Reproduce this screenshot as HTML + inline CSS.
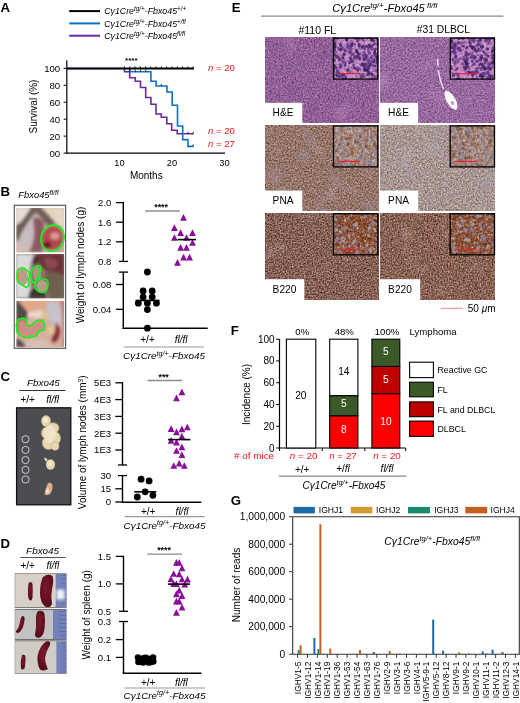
<!DOCTYPE html>
<html><head><meta charset="utf-8"><title>Figure</title>
<style>
html,body{margin:0;padding:0;background:#fff;}
body{width:520px;height:703px;overflow:hidden;}
svg{display:block;filter:blur(0.3px);}
text{font-family:"Liberation Sans",Arial,sans-serif;}
</style></head><body>
<svg width="520" height="703" viewBox="0 0 520 703">
<defs><filter id="blur1" x="-50%" y="-50%" width="200%" height="200%"><feGaussianBlur stdDeviation="1.6"/></filter>
<filter id="blur2" x="-50%" y="-50%" width="200%" height="200%"><feGaussianBlur stdDeviation="3"/></filter>
<filter id="blur05" x="-50%" y="-50%" width="200%" height="200%"><feGaussianBlur stdDeviation="0.6"/></filter>
<clipPath id="cpB1"><rect x="16.3" y="208" width="47.9" height="44.5"/></clipPath>
<clipPath id="cpB2"><rect x="16.3" y="254" width="47.9" height="44.5"/></clipPath>
<clipPath id="cpB3"><rect x="16.3" y="300.8" width="47.9" height="46.7"/></clipPath>
<clipPath id="cpD"><rect x="14.7" y="573.3" width="51.8" height="100.7"/></clipPath>
<radialGradient id="spg" cx="0.45" cy="0.4" r="0.7"><stop offset="0" stop-color="#7a1a2a"/><stop offset="0.7" stop-color="#5e0e1e"/><stop offset="1" stop-color="#42060f"/></radialGradient>
<filter id="heL" x="0" y="0" width="1" height="1" color-interpolation-filters="sRGB"><feTurbulence type="fractalNoise" baseFrequency="0.63" numOctaves="4" seed="3"/><feColorMatrix type="matrix" values="0.5392 0.1373 0 0 0.2343 0.4902 0.0000 0 0 0.1314 0.4412 -0.0784 0 0 0.4147 0 0 0 0 1"/><feGaussianBlur stdDeviation="0.5"/></filter>
<filter id="heR" x="0" y="0" width="1" height="1" color-interpolation-filters="sRGB"><feTurbulence type="fractalNoise" baseFrequency="0.63" numOctaves="4" seed="5"/><feColorMatrix type="matrix" values="0.5392 0.1373 0 0 0.2578 0.4902 0.0000 0 0 0.1627 0.4412 -0.0784 0 0 0.4461 0 0 0 0 1"/><feGaussianBlur stdDeviation="0.5"/></filter>
<filter id="pnL" x="0" y="0" width="1" height="1" color-interpolation-filters="sRGB"><feTurbulence type="fractalNoise" baseFrequency="0.63" numOctaves="4" seed="7"/><feColorMatrix type="matrix" values="0.6863 0.1176 0 0 0.1863 0.6471 0.0392 0 0 0.1118 0.6078 -0.1569 0 0 0.1902 0 0 0 0 1"/><feGaussianBlur stdDeviation="0.5"/></filter>
<filter id="pnR" x="0" y="0" width="1" height="1" color-interpolation-filters="sRGB"><feTurbulence type="fractalNoise" baseFrequency="0.63" numOctaves="4" seed="9"/><feColorMatrix type="matrix" values="0.6471 0.1176 0 0 0.2725 0.6471 0.0392 0 0 0.2412 0.6078 -0.1569 0 0 0.3392 0 0 0 0 1"/><feGaussianBlur stdDeviation="0.5"/></filter>
<filter id="bL" x="0" y="0" width="1" height="1" color-interpolation-filters="sRGB"><feTurbulence type="fractalNoise" baseFrequency="0.66" numOctaves="4" seed="11"/><feColorMatrix type="matrix" values="0.7843 0.0980 0 0 0.0765 0.7451 0.0294 0 0 -0.0069 0.7451 -0.0980 0 0 0.0137 0 0 0 0 1"/><feGaussianBlur stdDeviation="0.45"/></filter>
<filter id="bR" x="0" y="0" width="1" height="1" color-interpolation-filters="sRGB"><feTurbulence type="fractalNoise" baseFrequency="0.66" numOctaves="4" seed="13"/><feColorMatrix type="matrix" values="0.7843 0.0980 0 0 0.0922 0.7451 0.0294 0 0 -0.0029 0.7451 -0.0980 0 0 0.0059 0 0 0 0 1"/><feGaussianBlur stdDeviation="0.45"/></filter>
<filter id="heLp" x="0" y="0" width="1" height="1" color-interpolation-filters="sRGB"><feTurbulence type="fractalNoise" baseFrequency="0.04" numOctaves="2" seed="31"/><feColorMatrix type="matrix" values="0 0 0 0 0.7451 0 0 0 0 0.5294 0 0 0 0 0.7059 1.600 0 0 0 -0.9600"/></filter>
<filter id="heLd" x="0" y="0" width="1" height="1" color-interpolation-filters="sRGB"><feTurbulence type="fractalNoise" baseFrequency="0.06" numOctaves="2" seed="32"/><feColorMatrix type="matrix" values="0 0 0 0 0.4314 0 0 0 0 0.2549 0 0 0 0 0.5098 1.600 0 0 0 -0.9600"/></filter>
<filter id="heRp" x="0" y="0" width="1" height="1" color-interpolation-filters="sRGB"><feTurbulence type="fractalNoise" baseFrequency="0.04" numOctaves="2" seed="33"/><feColorMatrix type="matrix" values="0 0 0 0 0.7647 0 0 0 0 0.5686 0 0 0 0 0.7451 1.600 0 0 0 -0.9600"/></filter>
<filter id="pnLb" x="0" y="0" width="1" height="1" color-interpolation-filters="sRGB"><feTurbulence type="fractalNoise" baseFrequency="0.06" numOctaves="2" seed="34"/><feColorMatrix type="matrix" values="0 0 0 0 0.6196 0 0 0 0 0.5882 0 0 0 0 0.6588 1.500 0 0 0 -0.8400"/></filter>
<filter id="pnRb" x="0" y="0" width="1" height="1" color-interpolation-filters="sRGB"><feTurbulence type="fractalNoise" baseFrequency="0.04" numOctaves="2" seed="35"/><feColorMatrix type="matrix" values="0 0 0 0 0.6275 0 0 0 0 0.6196 0 0 0 0 0.7059 1.600 0 0 0 -0.8800"/></filter>
<filter id="bW" x="0" y="0" width="1" height="1" color-interpolation-filters="sRGB"><feTurbulence type="fractalNoise" baseFrequency="0.05" numOctaves="2" seed="36"/><feColorMatrix type="matrix" values="0 0 0 0 0.7843 0 0 0 0 0.7451 0 0 0 0 0.7647 1.200 0 0 0 -0.7200"/></filter>
<filter id="bW2" x="0" y="0" width="1" height="1" color-interpolation-filters="sRGB"><feTurbulence type="fractalNoise" baseFrequency="0.05" numOctaves="2" seed="37"/><feColorMatrix type="matrix" values="0 0 0 0 0.7843 0 0 0 0 0.7451 0 0 0 0 0.7647 1.200 0 0 0 -0.7200"/></filter>
<filter id="pnW" x="0" y="0" width="1" height="1" color-interpolation-filters="sRGB"><feTurbulence type="fractalNoise" baseFrequency="0.05" numOctaves="2" seed="38"/><feColorMatrix type="matrix" values="0 0 0 0 0.7843 0 0 0 0 0.7451 0 0 0 0 0.7647 1.200 0 0 0 -0.7200"/></filter>
<filter id="heIb" x="0" y="0" width="1" height="1" color-interpolation-filters="sRGB"><feTurbulence type="fractalNoise" baseFrequency="0.5" numOctaves="3" seed="41"/><feColorMatrix type="matrix" values="0.3922 0.0000 0 0 0.5686 0.3922 0.0000 0 0 0.3529 0.2941 0.0000 0 0 0.6176 0 0 0 0 1"/><feGaussianBlur stdDeviation="0.4"/></filter>
<filter id="heIn" x="0" y="0" width="1" height="1" color-interpolation-filters="sRGB"><feTurbulence type="fractalNoise" baseFrequency="0.24" numOctaves="2" seed="42"/><feColorMatrix type="matrix" values="0 0 0 0 0.3529 0 0 0 0 0.1961 0 0 0 0 0.4902 3.000 0 0 0 -1.5000"/></filter>
<filter id="pnIb" x="0" y="0" width="1" height="1" color-interpolation-filters="sRGB"><feTurbulence type="fractalNoise" baseFrequency="0.55" numOctaves="3" seed="43"/><feColorMatrix type="matrix" values="0.5392 0.0000 0 0 0.4049 0.5392 0.0000 0 0 0.3186 0.5392 0.0000 0 0 0.2990 0 0 0 0 1"/><feGaussianBlur stdDeviation="0.4"/></filter>
<filter id="pnIc" x="0" y="0" width="1" height="1" color-interpolation-filters="sRGB"><feTurbulence type="fractalNoise" baseFrequency="0.3" numOctaves="2" seed="44"/><feColorMatrix type="matrix" values="0 0 0 0 0.5882 0 0 0 0 0.3725 0 0 0 0 0.2431 3.000 0 0 0 -1.3500"/></filter>
<filter id="pnIn" x="0" y="0" width="1" height="1" color-interpolation-filters="sRGB"><feTurbulence type="fractalNoise" baseFrequency="0.25" numOctaves="2" seed="45"/><feColorMatrix type="matrix" values="0 0 0 0 0.4118 0 0 0 0 0.4314 0 0 0 0 0.6078 1.500 0 0 0 -0.9000"/></filter>
<filter id="bIb" x="0" y="0" width="1" height="1" color-interpolation-filters="sRGB"><feTurbulence type="fractalNoise" baseFrequency="0.55" numOctaves="3" seed="46"/><feColorMatrix type="matrix" values="0.5882 0.0000 0 0 0.2471 0.5392 0.0000 0 0 0.0441 0.4902 0.0000 0 0 -0.0412 0 0 0 0 1"/><feGaussianBlur stdDeviation="0.4"/></filter>
<filter id="bIn" x="0" y="0" width="1" height="1" color-interpolation-filters="sRGB"><feTurbulence type="fractalNoise" baseFrequency="0.25" numOctaves="2" seed="47"/><feColorMatrix type="matrix" values="0 0 0 0 0.4706 0 0 0 0 0.4902 0 0 0 0 0.6471 1.500 0 0 0 -0.9000"/></filter>
<filter id="bIw" x="0" y="0" width="1" height="1" color-interpolation-filters="sRGB"><feTurbulence type="fractalNoise" baseFrequency="0.3" numOctaves="2" seed="48"/><feColorMatrix type="matrix" values="0 0 0 0 0.9020 0 0 0 0 0.8431 0 0 0 0 0.8235 4.000 0 0 0 -2.4800"/></filter>
<filter id="blur03" x="-10%" y="-10%" width="120%" height="120%"><feGaussianBlur stdDeviation="0.45"/></filter>
<clipPath id="cc1"><rect x="333.0" y="37.6" width="45.30000000000001" height="41.99999999999999"/></clipPath>
<clipPath id="cc2"><rect x="449.7" y="37.6" width="45.30000000000001" height="41.99999999999999"/></clipPath>
<clipPath id="cc3"><rect x="333.0" y="125.4" width="45.30000000000001" height="42.0"/></clipPath>
<clipPath id="cc4"><rect x="449.7" y="125.4" width="45.30000000000001" height="42.0"/></clipPath>
<clipPath id="cc5"><rect x="333.0" y="213.3" width="45.30000000000001" height="42.0"/></clipPath>
<clipPath id="cc6"><rect x="449.7" y="213.3" width="45.30000000000001" height="42.0"/></clipPath></defs>
<text x="0.6" y="12.2" font-size="13.2" text-anchor="start" font-weight="bold">A</text>
<line x1="69.2" y1="11.1" x2="100" y2="11.1" stroke="#000" stroke-width="2" />
<text x="104.2" y="14.399999999999999" font-size="8.8" text-anchor="start" font-style="italic"><tspan>C&#947;1Cre</tspan><tspan font-size="6.34" dy="-3.17">tg/+</tspan><tspan dy="3.17">-Fbxo45</tspan><tspan font-size="6.34" dy="-3.17">+/+</tspan></text>
<line x1="69.2" y1="23.4" x2="100" y2="23.4" stroke="#0a72c6" stroke-width="2" />
<text x="104.2" y="26.7" font-size="8.8" text-anchor="start" font-style="italic"><tspan>C&#947;1Cre</tspan><tspan font-size="6.34" dy="-3.17">tg/+</tspan><tspan dy="3.17">-Fbxo45</tspan><tspan font-size="6.34" dy="-3.17">+/fl</tspan></text>
<line x1="69.2" y1="35.7" x2="100" y2="35.7" stroke="#6a2a9e" stroke-width="2" />
<text x="104.2" y="39.0" font-size="8.8" text-anchor="start" font-style="italic"><tspan>C&#947;1Cre</tspan><tspan font-size="6.34" dy="-3.17">tg/+</tspan><tspan dy="3.17">-Fbxo45</tspan><tspan font-size="6.34" dy="-3.17">fl/fl</tspan></text>
<line x1="66.8" y1="60.3" x2="66.8" y2="153.6" stroke="#000" stroke-width="1.2" />
<line x1="66.2" y1="153.1" x2="225" y2="153.1" stroke="#000" stroke-width="1.2" />
<line x1="63.6" y1="153.1" x2="66.8" y2="153.1" stroke="#000" stroke-width="1" />
<text x="60.2" y="156.5" font-size="9.6" text-anchor="end">00</text>
<line x1="63.6" y1="136.14" x2="66.8" y2="136.14" stroke="#000" stroke-width="1" />
<text x="60.2" y="139.54" font-size="9.6" text-anchor="end">20</text>
<line x1="63.6" y1="119.17999999999999" x2="66.8" y2="119.17999999999999" stroke="#000" stroke-width="1" />
<text x="60.2" y="122.58" font-size="9.6" text-anchor="end">40</text>
<line x1="63.6" y1="102.22" x2="66.8" y2="102.22" stroke="#000" stroke-width="1" />
<text x="60.2" y="105.62" font-size="9.6" text-anchor="end">60</text>
<line x1="63.6" y1="85.25999999999999" x2="66.8" y2="85.25999999999999" stroke="#000" stroke-width="1" />
<text x="60.2" y="88.66" font-size="9.6" text-anchor="end">80</text>
<line x1="63.6" y1="68.29999999999998" x2="66.8" y2="68.29999999999998" stroke="#000" stroke-width="1" />
<text x="60.2" y="71.69999999999999" font-size="9.6" text-anchor="end">100</text>
<text x="0" y="0" font-size="10" text-anchor="middle" transform="translate(36.8,106.5) rotate(-90)">Survival (%)</text>
<text x="119.5" y="166.3" font-size="9.3" text-anchor="middle">10</text>
<text x="172" y="166.3" font-size="9.3" text-anchor="middle">20</text>
<text x="224.5" y="166.3" font-size="9.3" text-anchor="middle">30</text>
<text x="146.3" y="179.4" font-size="10" text-anchor="middle">Months</text>
<path d="M66.8,68.5 H124.5 V71.7 H129.7 V77.7 H135.3 V81.2 H140.5 V87.5 H145.7 V97.5 H150.9 V104.2 H156.0 V114 H161.3 V117.3 H166.8 V123.7 H171.7 V130.3 H177.2 V133.7 H193.5" fill="none" stroke="#6a2a9e" stroke-width="1.6"/>
<path d="M129.7,68.5 V71.7 H150.9 V81.2 H156.1 V86.0 H167 V92 H172.2 V105.3 H177.5 V126 H182.7 V139.6 H187.9 V146.4 H193.5" fill="none" stroke="#0a72c6" stroke-width="1.6"/>
<line x1="66.8" y1="68.5" x2="194" y2="68.5" stroke="#000" stroke-width="1.8" />
<line x1="124.5" y1="66.3" x2="124.5" y2="68.5" stroke="#000" stroke-width="0.8" />
<line x1="129.7" y1="66.3" x2="129.7" y2="68.5" stroke="#000" stroke-width="0.8" />
<line x1="134.9" y1="66.3" x2="134.9" y2="68.5" stroke="#000" stroke-width="0.8" />
<line x1="140.3" y1="66.3" x2="140.3" y2="68.5" stroke="#000" stroke-width="0.8" />
<line x1="145.7" y1="66.3" x2="145.7" y2="68.5" stroke="#000" stroke-width="0.8" />
<line x1="150.7" y1="66.3" x2="150.7" y2="68.5" stroke="#000" stroke-width="0.8" />
<line x1="156.1" y1="66.3" x2="156.1" y2="68.5" stroke="#000" stroke-width="0.8" />
<line x1="161.3" y1="66.3" x2="161.3" y2="68.5" stroke="#000" stroke-width="0.8" />
<line x1="166.6" y1="66.3" x2="166.6" y2="68.5" stroke="#000" stroke-width="0.8" />
<line x1="172" y1="66.3" x2="172" y2="68.5" stroke="#000" stroke-width="0.8" />
<line x1="177.2" y1="66.3" x2="177.2" y2="68.5" stroke="#000" stroke-width="0.8" />
<line x1="182.5" y1="66.3" x2="182.5" y2="68.5" stroke="#000" stroke-width="0.8" />
<line x1="187.8" y1="66.3" x2="187.8" y2="68.5" stroke="#000" stroke-width="0.8" />
<line x1="193.2" y1="66.3" x2="193.2" y2="68.5" stroke="#000" stroke-width="0.8" />
<line x1="129.7" y1="69.7" x2="129.7" y2="71.7" stroke="#000" stroke-width="0.8" />
<line x1="135.3" y1="69.7" x2="135.3" y2="71.7" stroke="#000" stroke-width="0.8" />
<line x1="140.5" y1="69.7" x2="140.5" y2="71.7" stroke="#000" stroke-width="0.8" />
<line x1="145.7" y1="69.7" x2="145.7" y2="71.7" stroke="#000" stroke-width="0.8" />
<line x1="161.3" y1="84.0" x2="161.3" y2="86.0" stroke="#000" stroke-width="0.8" />
<line x1="187.9" y1="131.7" x2="187.9" y2="133.7" stroke="#000" stroke-width="0.8" />
<line x1="193.2" y1="131.7" x2="193.2" y2="133.7" stroke="#000" stroke-width="0.8" />
<line x1="193.2" y1="144.4" x2="193.2" y2="146.4" stroke="#000" stroke-width="0.8" />
<text x="131.3" y="62.6" font-size="8" text-anchor="middle" font-weight="bold">****</text>
<text x="208" y="71.4" font-size="9.6" text-anchor="start" fill="#f2141c"><tspan font-style="italic">n</tspan> = 20</text>
<text x="208" y="133.9" font-size="9.6" text-anchor="start" fill="#f2141c"><tspan font-style="italic">n</tspan> = 20</text>
<text x="208" y="147.20000000000002" font-size="9.6" text-anchor="start" fill="#f2141c"><tspan font-style="italic">n</tspan> = 27</text>
<text x="0.6" y="196.2" font-size="13.2" text-anchor="start" font-weight="bold">B</text>
<text x="18.3" y="198" font-size="9.4" text-anchor="start" font-style="italic">Fbxo45<tspan font-size="7" dy="-3.4">fl/fl</tspan></text>
<rect x="14.3" y="205.3" width="51.3" height="143" fill="#fff" stroke="#5a5a5a" stroke-width="1.2" />
<g clip-path="url(#cpB1)"><rect x="16.3" y="208" width="47.9" height="44.5" fill="#c4aca4"/><g filter="url(#blur1)"><path d="M16,207 H34 Q30,214 24,220 L16,224 Z" fill="#e6ded6"/><path d="M40,207 H65 V232 Q58,226 52,218 Q46,212 40,207 Z" fill="#e4d6c0"/><path d="M31,207 H41 Q48,214 56,224 L48,226 Q40,216 36,212 Q30,222 22,232 Q18,240 16,248 V226 Q24,220 31,207 Z" fill="#6e5e54"/><path d="M22,232 Q28,222 34,214 Q36,226 34,238 Q30,248 24,252 H16 Q18,242 22,232 Z" fill="#c8bcc0"/><path d="M33,218 Q38,216 44,222 Q44,236 42,252 H30 Q36,240 33,218 Z" fill="#8a5a60"/><path d="M16,240 Q22,246 30,252 H16 Z" fill="#d4c0b8"/></g><ellipse cx="53" cy="238" rx="10.5" ry="12" fill="#b04a4c" filter="url(#blur1)"/><ellipse cx="55" cy="236" rx="5" ry="4" fill="#d89a90" filter="url(#blur1)"/><ellipse cx="47" cy="245" rx="4" ry="3" fill="#6a1820" filter="url(#blur1)"/></g>
<ellipse cx="52.5" cy="238" rx="11.3" ry="13.2" transform="rotate(20 52.5 238)" fill="none" stroke="#18f018" stroke-width="1.7"/>
<g clip-path="url(#cpB2)"><rect x="16.3" y="254" width="47.9" height="44.5" fill="#8a7468"/><g filter="url(#blur1)"><path d="M16,254 H34 Q30,262 30,272 Q29,284 33,298 H16 Z" fill="#dcdcdc"/><path d="M36,254 H64 V276 Q58,274 52,274 Q44,270 40,264 Q36,260 36,254 Z" fill="#6a3034"/><path d="M44,258 Q52,256 58,262 Q56,270 50,270 Q44,266 44,258 Z" fill="#8a4a50"/><path d="M46,272 Q56,270 64,276 V298 H50 Q44,290 46,272 Z" fill="#6e6050"/><path d="M30,290 Q36,286 44,292 L46,298 H28 Z" fill="#3e3430"/><path d="M33,256 Q38,256 38,262 Q36,266 33,264 Z" fill="#3a3030"/></g><ellipse cx="22.5" cy="277" rx="5.5" ry="8.5" fill="#b8a088" filter="url(#blur05)"/><ellipse cx="37" cy="274" rx="4" ry="7.5" fill="#b09480" filter="url(#blur05)"/><ellipse cx="42" cy="286" rx="5.5" ry="6" fill="#b89c88" filter="url(#blur05)"/></g>
<path d="M18,270 Q20,267 24,268 L29,272 Q31,276 28,279 L29,285 Q27,289 24,286 Q20,284 18,282 Q16,276 18,270 Z" fill="none" stroke="#18f018" stroke-width="1.7"/>
<path d="M33,268 Q36,265 40,266 Q42,269 40,272 Q38,274 38,277 Q37,281 34,283 Q31,281 31,276 Q31,271 33,268 Z" fill="none" stroke="#18f018" stroke-width="1.7"/>
<path d="M36,281 Q39,278 43,279 Q48,279 48,283 Q48,288 46,291 Q42,294 38,291 Q34,288 35,285 Z" fill="none" stroke="#18f018" stroke-width="1.7"/>
<g clip-path="url(#cpB3)"><rect x="16.3" y="300.8" width="47.9" height="46.7" fill="#d4b0a0"/><g filter="url(#blur1)"><path d="M16,300 H20 Q24,306 28,312 Q26,320 24,330 L16,334 Z" fill="#4e4c4a"/><path d="M18,300 H50 Q48,306 42,310 Q34,314 28,312 Q22,306 18,300 Z" fill="#e2a88a"/><path d="M28,312 Q36,312 42,310 Q44,314 40,318 Q32,318 28,316 Z" fill="#f0d8d0"/><path d="M47,303 Q56,302 62,306 Q63,316 60,326 Q54,326 50,322 Q46,314 47,303 Z" fill="#c8c2ca"/><ellipse cx="45" cy="315.5" rx="3" ry="3" fill="#e0c088"/><ellipse cx="51" cy="330" rx="3.5" ry="3.5" fill="#e2cc96"/><path d="M56,322 Q61,326 60,334 Q58,342 53,343 Q50,340 54,334 Q56,328 56,322 Z" fill="#8a2e3c"/><path d="M60,300 H65 V347 H62 Q64,330 60,300 Z" fill="#c08070"/><path d="M16,338 Q22,340 26,347 H16 Z" fill="#585050"/><path d="M28,340 Q38,338 48,341 L50,347 H26 Z" fill="#d8c0b4"/></g><path d="M18.5,319.5 L25,318.5 L26.5,322 L26.5,324.5 L30,326 L34,323 L38,320.5 L41,320.2 L44,323 L44.5,328 L42.5,330.5 L38.5,331 L37,335 L33,336.5 L31,335.5 L30,337.5 L26,337.5 L20,335 L17,330 L16.5,324 Z" fill="#d08c84" filter="url(#blur1)"/></g>
<path d="M18.5,319.5 Q22,318 25,318.5 Q27,320 26.5,322 Q26,324 26.5,324.5 Q28,326.5 30,326 Q32,325.5 34,323 Q36,321 38,320.5 L41,320.2 Q43.5,320.5 44,323 Q45,326 44.5,328 Q44,330 42.5,330.5 Q39.5,330 38.5,331 Q37.5,333 37,335 Q35,337 33,336.5 L31,335.5 Q30.5,337.5 30,337.5 L26,337.5 Q22,337 20,335 Q17.5,333 17,330 Q16,326 16.5,324 Q17,321 18.5,319.5 Z" fill="none" stroke="#18f018" stroke-width="1.7"/>
<line x1="123.3" y1="202.0" x2="123.3" y2="261.4" stroke="#000" stroke-width="1.4" />
<line x1="123.3" y1="272.1" x2="123.3" y2="328.9" stroke="#000" stroke-width="1.4" />
<line x1="122.6" y1="328.2" x2="207.7" y2="328.2" stroke="#000" stroke-width="1.4" />
<line x1="116.0" y1="202.6" x2="123.3" y2="202.6" stroke="#000" stroke-width="1.3" />
<text x="111.4" y="206.0" font-size="9.6" text-anchor="end">2.0</text>
<line x1="116.0" y1="222.2" x2="123.3" y2="222.2" stroke="#000" stroke-width="1.3" />
<text x="111.4" y="225.6" font-size="9.6" text-anchor="end">1.6</text>
<line x1="116.0" y1="241.8" x2="123.3" y2="241.8" stroke="#000" stroke-width="1.3" />
<text x="111.4" y="245.20000000000002" font-size="9.6" text-anchor="end">1.2</text>
<text x="111.4" y="264.79999999999995" font-size="9.6" text-anchor="end">0.8</text>
<line x1="116.0" y1="284.5" x2="123.3" y2="284.5" stroke="#000" stroke-width="1.3" />
<text x="111.4" y="287.9" font-size="9.6" text-anchor="end">0.08</text>
<line x1="116.0" y1="309.3" x2="123.3" y2="309.3" stroke="#000" stroke-width="1.3" />
<text x="111.4" y="312.7" font-size="9.6" text-anchor="end">0.04</text>
<line x1="119" y1="261.4" x2="128" y2="261.4" stroke="#000" stroke-width="1.3" />
<line x1="119" y1="272.1" x2="128" y2="272.1" stroke="#000" stroke-width="1.3" />
<text x="0" y="0" font-size="10" text-anchor="middle" transform="translate(84.3,265) rotate(-90)">Weight of lymph nodes (g)</text>
<line x1="145.2" y1="211" x2="179.8" y2="211" stroke="#8c8c8c" stroke-width="1.3" />
<text x="161.1" y="210.3" font-size="8.8" text-anchor="middle" font-weight="bold">****</text>
<circle cx="147.4" cy="272.0" r="3.4" fill="#000" />
<circle cx="143.1" cy="290.9" r="3.4" fill="#000" />
<circle cx="152.2" cy="290.9" r="3.4" fill="#000" />
<circle cx="143.1" cy="297.1" r="3.4" fill="#000" />
<circle cx="152.2" cy="297.1" r="3.4" fill="#000" />
<circle cx="138.3" cy="303.2" r="3.4" fill="#000" />
<circle cx="147.4" cy="303.2" r="3.4" fill="#000" />
<circle cx="156.4" cy="303.2" r="3.4" fill="#000" />
<circle cx="147.4" cy="309.6" r="3.4" fill="#000" />
<circle cx="147.4" cy="328.2" r="3.4" fill="#000" />
<line x1="135.7" y1="300.5" x2="159.6" y2="300.5" stroke="#000" stroke-width="1.6" />
<path d="M183.50,214.10L186.90,220.80L180.10,220.80Z" fill="#8a0c98"/>
<path d="M174.40,224.35L177.80,231.05L171.00,231.05Z" fill="#8a0c98"/>
<path d="M180.60,229.35L184.00,236.05L177.20,236.05Z" fill="#8a0c98"/>
<path d="M192.50,229.35L195.90,236.05L189.10,236.05Z" fill="#8a0c98"/>
<path d="M174.40,234.15L177.80,240.85L171.00,240.85Z" fill="#8a0c98"/>
<path d="M186.50,234.15L189.90,240.85L183.10,240.85Z" fill="#8a0c98"/>
<path d="M192.50,239.15L195.90,245.85L189.10,245.85Z" fill="#8a0c98"/>
<path d="M180.60,243.95L184.00,250.65L177.20,250.65Z" fill="#8a0c98"/>
<path d="M186.50,243.95L189.90,250.65L183.10,250.65Z" fill="#8a0c98"/>
<path d="M183.60,253.75L187.00,260.45L180.20,260.45Z" fill="#8a0c98"/>
<path d="M189.60,253.75L193.00,260.45L186.20,260.45Z" fill="#8a0c98"/>
<path d="M177.50,258.95L180.90,265.65L174.10,265.65Z" fill="#8a0c98"/>
<line x1="177.5" y1="239.6" x2="196" y2="239.6" stroke="#000" stroke-width="1.6" />
<text x="147.5" y="343.2" font-size="10" text-anchor="middle">+/+</text>
<text x="181.2" y="343.2" font-size="10" text-anchor="middle" font-style="italic">fl/fl</text>
<line x1="123.5" y1="347" x2="203.8" y2="347" stroke="#999" stroke-width="1.2" />
<text x="164.0" y="359.2" font-size="9.9" text-anchor="middle" font-style="italic"><tspan>C&#947;1Cre</tspan><tspan font-size="7.13" dy="-3.56">tg/+</tspan><tspan dy="3.56">-Fbxo45</tspan></text>
<text x="0.6" y="380.6" font-size="13.2" text-anchor="start" font-weight="bold">C</text>
<text x="43.4" y="386.4" font-size="9.9" text-anchor="middle" font-style="italic">Fbxo45</text>
<line x1="19.4" y1="390.5" x2="65.6" y2="390.5" stroke="#333" stroke-width="1" />
<text x="27.7" y="403.4" font-size="10" text-anchor="middle">+/+</text>
<text x="52.7" y="403.4" font-size="10" text-anchor="middle" font-style="italic">fl/fl</text>
<rect x="16.6" y="407.8" width="54.2" height="97" fill="#4c4d51" stroke="#111" stroke-width="1.3" />
<circle cx="25.5" cy="439.2" r="3.6" fill="none" stroke="#e8e8e8" stroke-width="0.8"/>
<circle cx="25.5" cy="449.9" r="3.6" fill="none" stroke="#e8e8e8" stroke-width="0.8"/>
<circle cx="25.5" cy="460.1" r="3.6" fill="none" stroke="#e8e8e8" stroke-width="0.8"/>
<circle cx="25.5" cy="469.9" r="3.6" fill="none" stroke="#e8e8e8" stroke-width="0.8"/>
<circle cx="25.5" cy="479.5" r="3.6" fill="none" stroke="#e8e8e8" stroke-width="0.8"/>
<g filter="url(#blur05)"><g fill="#e6d6b0" stroke="#c4ac84" stroke-width="0.6"><ellipse cx="46" cy="421" rx="4.6" ry="5.6"/><ellipse cx="53" cy="428" rx="6" ry="5.2"/><ellipse cx="47" cy="433" rx="5.6" ry="6"/><ellipse cx="54.5" cy="438.5" rx="6" ry="7"/><ellipse cx="48.5" cy="443" rx="6.2" ry="6.5"/><ellipse cx="55" cy="446" rx="4" ry="4.2"/></g><ellipse cx="50" cy="434" rx="6" ry="9" fill="#efe4c8"/><ellipse cx="45.5" cy="420" rx="2.5" ry="3" fill="#f2e8d0"/><path d="M44,458 Q46,457 47.5,460 L46,462 Z" fill="#ece0c4"/><ellipse cx="50.5" cy="464.5" rx="4.5" ry="5.3" fill="#e6d4aa"/><ellipse cx="50" cy="463.5" rx="2.5" ry="3" fill="#f0e4c4"/><path d="M48,483 Q51,482 52.5,485 Q53,490 50,494 Q47,496 44.5,494.5 Q45,489 48,483 Z" fill="#dcae90"/><ellipse cx="47.5" cy="491" rx="1.6" ry="2.5" fill="#f4e4d4"/></g>
<line x1="122.5" y1="382.1" x2="122.5" y2="465" stroke="#000" stroke-width="1.4" />
<line x1="122.5" y1="475.6" x2="122.5" y2="502.9" stroke="#000" stroke-width="1.4" />
<line x1="121.8" y1="502.2" x2="201.3" y2="502.2" stroke="#000" stroke-width="1.4" />
<line x1="115.3" y1="382.8" x2="122.5" y2="382.8" stroke="#000" stroke-width="1.3" />
<text x="111.2" y="386.2" font-size="9.6" text-anchor="end">5E3</text>
<line x1="115.3" y1="399.6" x2="122.5" y2="399.6" stroke="#000" stroke-width="1.3" />
<text x="111.2" y="403.0" font-size="9.6" text-anchor="end">4E3</text>
<line x1="115.3" y1="416.4" x2="122.5" y2="416.4" stroke="#000" stroke-width="1.3" />
<text x="111.2" y="419.79999999999995" font-size="9.6" text-anchor="end">3E3</text>
<line x1="115.3" y1="433.2" x2="122.5" y2="433.2" stroke="#000" stroke-width="1.3" />
<text x="111.2" y="436.59999999999997" font-size="9.6" text-anchor="end">2E3</text>
<line x1="115.3" y1="450.0" x2="122.5" y2="450.0" stroke="#000" stroke-width="1.3" />
<text x="111.2" y="453.4" font-size="9.6" text-anchor="end">1E3</text>
<text x="111.2" y="479.0" font-size="9.6" text-anchor="end">30</text>
<line x1="115.3" y1="488.8" x2="122.5" y2="488.8" stroke="#000" stroke-width="1.3" />
<text x="111.2" y="492.2" font-size="9.6" text-anchor="end">15</text>
<line x1="115.3" y1="502.0" x2="122.5" y2="502.0" stroke="#000" stroke-width="1.3" />
<text x="111.2" y="505.4" font-size="9.6" text-anchor="end">0</text>
<line x1="118" y1="465" x2="127" y2="465" stroke="#000" stroke-width="1.3" />
<line x1="118" y1="475.6" x2="127" y2="475.6" stroke="#000" stroke-width="1.3" />
<text x="0" y="0" font-size="10" text-anchor="middle" transform="translate(86.3,442.3) rotate(-90)">Volume of lymph nodes (mm<tspan font-size="6.5" dy="-3.5">3</tspan><tspan dy="3.5">)</tspan></text>
<line x1="147.5" y1="380.5" x2="182" y2="380.5" stroke="#8c8c8c" stroke-width="1.3" />
<text x="163.6" y="379.5" font-size="8.8" text-anchor="middle" font-weight="bold">***</text>
<circle cx="141.1" cy="479.2" r="3.4" fill="#000" />
<circle cx="149.1" cy="480.9" r="3.4" fill="#000" />
<circle cx="145.1" cy="491.8" r="3.4" fill="#000" />
<circle cx="137.3" cy="497" r="3.4" fill="#000" />
<circle cx="152.9" cy="495.3" r="3.4" fill="#000" />
<line x1="134.2" y1="491.8" x2="156.3" y2="491.8" stroke="#000" stroke-width="1.6" />
<path d="M181.90,388.55L185.30,395.25L178.50,395.25Z" fill="#8a0c98"/>
<path d="M176.50,394.45L179.90,401.15L173.10,401.15Z" fill="#8a0c98"/>
<path d="M171.10,425.25L174.50,431.95L167.70,431.95Z" fill="#8a0c98"/>
<path d="M176.50,428.45L179.90,435.15L173.10,435.15Z" fill="#8a0c98"/>
<path d="M181.90,425.55L185.30,432.25L178.50,432.25Z" fill="#8a0c98"/>
<path d="M187.30,423.65L190.70,430.35L183.90,430.35Z" fill="#8a0c98"/>
<path d="M181.90,432.75L185.30,439.45L178.50,439.45Z" fill="#8a0c98"/>
<path d="M171.10,437.05L174.50,443.75L167.70,443.75Z" fill="#8a0c98"/>
<path d="M176.50,438.85L179.90,445.55L173.10,445.55Z" fill="#8a0c98"/>
<path d="M181.90,443.55L185.30,450.25L178.50,450.25Z" fill="#8a0c98"/>
<path d="M176.50,447.15L179.90,453.85L173.10,453.85Z" fill="#8a0c98"/>
<path d="M181.90,451.35L185.30,458.05L178.50,458.05Z" fill="#8a0c98"/>
<path d="M173.80,462.15L177.20,468.85L170.40,468.85Z" fill="#8a0c98"/>
<path d="M179.20,459.75L182.60,466.45L175.80,466.45Z" fill="#8a0c98"/>
<path d="M184.30,462.15L187.70,468.85L180.90,468.85Z" fill="#8a0c98"/>
<line x1="168.1" y1="439.6" x2="190.4" y2="439.6" stroke="#000" stroke-width="1.6" />
<text x="148.2" y="514.6" font-size="10" text-anchor="middle">+/+</text>
<text x="182" y="514.6" font-size="10" text-anchor="middle" font-style="italic">fl/fl</text>
<line x1="124.8" y1="516.6" x2="204.8" y2="516.6" stroke="#999" stroke-width="1.2" />
<text x="164.5" y="528.8" font-size="9.9" text-anchor="middle" font-style="italic"><tspan>C&#947;1Cre</tspan><tspan font-size="7.13" dy="-3.56">tg/+</tspan><tspan dy="3.56">-Fbxo45</tspan></text>
<text x="0.6" y="548" font-size="13.2" text-anchor="start" font-weight="bold">D</text>
<text x="42.6" y="554.2" font-size="9.9" text-anchor="middle" font-style="italic">Fbxo45</text>
<line x1="20.2" y1="557.5" x2="65.6" y2="557.5" stroke="#555" stroke-width="1" />
<text x="27.7" y="569.4" font-size="10" text-anchor="middle">+/+</text>
<text x="52.8" y="569.4" font-size="10" text-anchor="middle" font-style="italic">fl/fl</text>
<g clip-path="url(#cpD)">
<rect x="14.7" y="573.3" width="51.8" height="34.40000000000009" fill="#d6d0c8" stroke="#555" stroke-width="0.8" />
<rect x="55.7" y="573.8" width="10.799999999999997" height="33.40000000000009" fill="#7282b8" stroke="none" stroke-width="1" />
<line x1="61.7" y1="575.3" x2="66" y2="575.3" stroke="#4a5a98" stroke-width="0.5" />
<line x1="61.7" y1="579.3" x2="66" y2="579.3" stroke="#4a5a98" stroke-width="0.5" />
<line x1="61.7" y1="583.3" x2="66" y2="583.3" stroke="#4a5a98" stroke-width="0.5" />
<line x1="61.7" y1="587.3" x2="66" y2="587.3" stroke="#4a5a98" stroke-width="0.5" />
<line x1="61.7" y1="591.3" x2="66" y2="591.3" stroke="#4a5a98" stroke-width="0.5" />
<line x1="61.7" y1="595.3" x2="66" y2="595.3" stroke="#4a5a98" stroke-width="0.5" />
<line x1="61.7" y1="599.3" x2="66" y2="599.3" stroke="#4a5a98" stroke-width="0.5" />
<line x1="61.7" y1="603.3" x2="66" y2="603.3" stroke="#4a5a98" stroke-width="0.5" />
<rect x="14.7" y="609.5" width="51.8" height="30.100000000000023" fill="#c4c2c0" stroke="#555" stroke-width="0.8" />
<rect x="53.0" y="610.0" width="13.5" height="29.100000000000023" fill="#7282b8" stroke="none" stroke-width="1" />
<line x1="59.0" y1="611.5" x2="66" y2="611.5" stroke="#4a5a98" stroke-width="0.5" />
<line x1="59.0" y1="615.5" x2="66" y2="615.5" stroke="#4a5a98" stroke-width="0.5" />
<line x1="59.0" y1="619.5" x2="66" y2="619.5" stroke="#4a5a98" stroke-width="0.5" />
<line x1="59.0" y1="623.5" x2="66" y2="623.5" stroke="#4a5a98" stroke-width="0.5" />
<line x1="59.0" y1="627.5" x2="66" y2="627.5" stroke="#4a5a98" stroke-width="0.5" />
<line x1="59.0" y1="631.5" x2="66" y2="631.5" stroke="#4a5a98" stroke-width="0.5" />
<line x1="59.0" y1="635.5" x2="66" y2="635.5" stroke="#4a5a98" stroke-width="0.5" />
<rect x="14.7" y="640.8" width="51.8" height="33.200000000000045" fill="#d0ccc6" stroke="#555" stroke-width="0.8" />
<rect x="56.4" y="641.3" width="10.100000000000001" height="32.200000000000045" fill="#7282b8" stroke="none" stroke-width="1" />
<line x1="62.4" y1="642.8" x2="66" y2="642.8" stroke="#4a5a98" stroke-width="0.5" />
<line x1="62.4" y1="646.8" x2="66" y2="646.8" stroke="#4a5a98" stroke-width="0.5" />
<line x1="62.4" y1="650.8" x2="66" y2="650.8" stroke="#4a5a98" stroke-width="0.5" />
<line x1="62.4" y1="654.8" x2="66" y2="654.8" stroke="#4a5a98" stroke-width="0.5" />
<line x1="62.4" y1="658.8" x2="66" y2="658.8" stroke="#4a5a98" stroke-width="0.5" />
<line x1="62.4" y1="662.8" x2="66" y2="662.8" stroke="#4a5a98" stroke-width="0.5" />
<line x1="62.4" y1="666.8" x2="66" y2="666.8" stroke="#4a5a98" stroke-width="0.5" />
<line x1="62.4" y1="670.8" x2="66" y2="670.8" stroke="#4a5a98" stroke-width="0.5" />
<rect x="56.5" y="589.6" width="8" height="10" fill="#f4f4fa" filter="url(#blur1)"/>
<g fill="url(#spg)" filter="url(#blur05)"><path d="M28.5,583.5 Q31,580.5 32.5,584 Q33,590 32.5,597 Q32,601 30,600.5 Q28,599 28,594 Q27.8,588 28.5,583.5 Z"/><path d="M43,577 Q48,573 52.5,576 Q54,581 52,589 Q50.5,597 52,604 Q50,608.5 45,606.5 Q40,602 40,593 Q40,583 43,577 Z"/><path d="M22.5,616 Q25,616 24.5,620 Q24,627 20,632 Q16.5,634 15.8,631.5 Q19,628 19.8,623 Q20.5,617 22.5,616 Z"/><path d="M38,611 Q43.5,609.5 44.5,614 Q45.5,621 44.5,628 Q44,635 40,637.5 Q35.5,638.5 35,634.5 Q36.5,628 36,621 Q35.5,614 38,611 Z"/><path d="M22,655 Q25.5,653.5 25.5,658 Q25.5,664 24.5,668.5 Q22.5,670.5 21,668.5 Q20,662 22,655 Z"/><path d="M46,641.5 Q51,640 50,645 Q46,651 45,658 Q45.5,665 48,669 Q44,671.5 40,669.5 Q37,664 37.5,656 Q39.5,646 46,641.5 Z"/></g>
</g>
<line x1="123.5" y1="555.7" x2="123.5" y2="611.3" stroke="#000" stroke-width="1.4" />
<line x1="123.5" y1="621.5" x2="123.5" y2="673.9" stroke="#000" stroke-width="1.4" />
<line x1="122.8" y1="673.2" x2="201.5" y2="673.2" stroke="#000" stroke-width="1.4" />
<line x1="115.8" y1="556.4" x2="123.5" y2="556.4" stroke="#000" stroke-width="1.3" />
<text x="111.0" y="559.8" font-size="9.6" text-anchor="end">1.5</text>
<line x1="115.8" y1="583.9" x2="123.5" y2="583.9" stroke="#000" stroke-width="1.3" />
<text x="111.0" y="587.3" font-size="9.6" text-anchor="end">1.0</text>
<text x="111.0" y="614.6999999999999" font-size="9.6" text-anchor="end">0.5</text>
<text x="111.0" y="624.9" font-size="9.6" text-anchor="end">0.3</text>
<line x1="115.8" y1="639.6" x2="123.5" y2="639.6" stroke="#000" stroke-width="1.3" />
<text x="111.0" y="643.0" font-size="9.6" text-anchor="end">0.2</text>
<line x1="115.8" y1="657.4" x2="123.5" y2="657.4" stroke="#000" stroke-width="1.3" />
<text x="111.0" y="660.8" font-size="9.6" text-anchor="end">0.1</text>
<line x1="119" y1="611.3" x2="128" y2="611.3" stroke="#000" stroke-width="1.3" />
<line x1="119" y1="621.5" x2="128" y2="621.5" stroke="#000" stroke-width="1.3" />
<text x="0" y="0" font-size="10" text-anchor="middle" transform="translate(90.1,614.8) rotate(-90)">Weight of spleen (g)</text>
<line x1="147.2" y1="554.2" x2="182.2" y2="554.2" stroke="#8c8c8c" stroke-width="1.3" />
<text x="164.0" y="553.3" font-size="8.8" text-anchor="middle" font-weight="bold">****</text>
<circle cx="138" cy="657.5" r="3.3" fill="#000" />
<circle cx="141" cy="660.5" r="3.3" fill="#000" />
<circle cx="144" cy="658" r="3.3" fill="#000" />
<circle cx="147" cy="661" r="3.3" fill="#000" />
<circle cx="150" cy="659" r="3.3" fill="#000" />
<circle cx="153" cy="657.5" r="3.3" fill="#000" />
<circle cx="153.3" cy="661.5" r="3.3" fill="#000" />
<circle cx="138.5" cy="662" r="3.3" fill="#000" />
<circle cx="143" cy="662.5" r="3.3" fill="#000" />
<circle cx="148.5" cy="662.5" r="3.3" fill="#000" />
<circle cx="146" cy="657.8" r="3.3" fill="#000" />
<circle cx="150.5" cy="662.2" r="3.3" fill="#000" />
<path d="M176.40,559.05L179.80,565.75L173.00,565.75Z" fill="#8a0c98"/>
<path d="M179.20,559.05L182.60,565.75L175.80,565.75Z" fill="#8a0c98"/>
<path d="M182.00,564.55L185.40,571.25L178.60,571.25Z" fill="#8a0c98"/>
<path d="M173.70,570.15L177.10,576.85L170.30,576.85Z" fill="#8a0c98"/>
<path d="M179.20,570.55L182.60,577.25L175.80,577.25Z" fill="#8a0c98"/>
<path d="M170.90,575.65L174.30,582.35L167.50,582.35Z" fill="#8a0c98"/>
<path d="M182.00,575.65L185.40,582.35L178.60,582.35Z" fill="#8a0c98"/>
<path d="M187.50,575.85L190.90,582.55L184.10,582.55Z" fill="#8a0c98"/>
<path d="M173.70,580.25L177.10,586.95L170.30,586.95Z" fill="#8a0c98"/>
<path d="M176.40,580.25L179.80,586.95L173.00,586.95Z" fill="#8a0c98"/>
<path d="M184.80,580.75L188.20,587.45L181.40,587.45Z" fill="#8a0c98"/>
<path d="M179.20,586.75L182.60,593.45L175.80,593.45Z" fill="#8a0c98"/>
<path d="M176.40,590.45L179.80,597.15L173.00,597.15Z" fill="#8a0c98"/>
<path d="M182.00,592.25L185.40,598.95L178.60,598.95Z" fill="#8a0c98"/>
<path d="M176.40,597.85L179.80,604.55L173.00,604.55Z" fill="#8a0c98"/>
<path d="M179.20,597.85L182.60,604.55L175.80,604.55Z" fill="#8a0c98"/>
<path d="M182.00,603.85L185.40,610.55L178.60,610.55Z" fill="#8a0c98"/>
<path d="M176.40,608.95L179.80,615.65L173.00,615.65Z" fill="#8a0c98"/>
<line x1="168.1" y1="584.1" x2="190" y2="584.1" stroke="#000" stroke-width="1.6" />
<text x="148.2" y="686.2" font-size="10" text-anchor="middle">+/+</text>
<text x="181.4" y="686.2" font-size="10" text-anchor="middle" font-style="italic">fl/fl</text>
<line x1="124.3" y1="688" x2="204.8" y2="688" stroke="#999" stroke-width="1.2" />
<text x="164.5" y="698.8" font-size="9.9" text-anchor="middle" font-style="italic"><tspan>C&#947;1Cre</tspan><tspan font-size="7.13" dy="-3.56">tg/+</tspan><tspan dy="3.56">-Fbxo45</tspan></text>
<rect x="265.0" y="37.6" width="113.30000000000001" height="85.4" fill="#888" filter="url(#heL)"/>
<rect x="265.0" y="37.6" width="113.30000000000001" height="85.4" fill="#888" filter="url(#heLp)"/>
<rect x="265.0" y="37.6" width="113.30000000000001" height="85.4" fill="#888" filter="url(#heLd)"/>
<rect x="333.0" y="37.6" width="45.30000000000001" height="41.99999999999999" fill="#888" filter="url(#heIb)"/>
<rect x="333.0" y="37.6" width="45.30000000000001" height="41.99999999999999" fill="#888" filter="url(#heIn)"/>
<g clip-path="url(#cc1)"><g filter="url(#blur03)"><ellipse cx="368.8" cy="66.1" rx="1.4" ry="1.4" transform="rotate(84 368.8 66.1)" fill="rgb(105, 62, 140)" opacity="0.85"/><ellipse cx="378.3" cy="55.8" rx="1.5" ry="1.3" transform="rotate(122 378.3 55.8)" fill="rgb(62, 30, 95)" opacity="0.85"/><ellipse cx="364.2" cy="52.7" rx="2.1" ry="1.3" transform="rotate(122 364.2 52.7)" fill="rgb(105, 62, 140)" opacity="0.85"/><ellipse cx="355.1" cy="56.9" rx="2.0" ry="1.5" transform="rotate(160 355.1 56.9)" fill="rgb(62, 30, 95)" opacity="0.85"/><ellipse cx="368.2" cy="60.2" rx="2.0" ry="1.8" transform="rotate(39 368.2 60.2)" fill="rgb(105, 62, 140)" opacity="0.85"/><ellipse cx="340.3" cy="67.3" rx="1.4" ry="1.2" transform="rotate(17 340.3 67.3)" fill="rgb(80, 42, 115)" opacity="0.85"/><ellipse cx="370.5" cy="64.6" rx="1.6" ry="1.6" transform="rotate(139 370.5 64.6)" fill="rgb(62, 30, 95)" opacity="0.85"/><ellipse cx="341.2" cy="49.4" rx="1.6" ry="1.7" transform="rotate(42 341.2 49.4)" fill="rgb(105, 62, 140)" opacity="0.85"/><ellipse cx="355.0" cy="80.5" rx="1.4" ry="1.4" transform="rotate(66 355.0 80.5)" fill="rgb(105, 62, 140)" opacity="0.85"/><ellipse cx="345.3" cy="51.1" rx="2.3" ry="1.1" transform="rotate(26 345.3 51.1)" fill="rgb(105, 62, 140)" opacity="0.85"/><ellipse cx="365.7" cy="46.6" rx="2.1" ry="1.1" transform="rotate(155 365.7 46.6)" fill="rgb(62, 30, 95)" opacity="0.85"/><ellipse cx="341.7" cy="75.3" rx="1.9" ry="1.6" transform="rotate(60 341.7 75.3)" fill="rgb(80, 42, 115)" opacity="0.85"/><ellipse cx="347.9" cy="70.0" rx="2.0" ry="1.7" transform="rotate(162 347.9 70.0)" fill="rgb(80, 42, 115)" opacity="0.85"/><ellipse cx="367.7" cy="74.8" rx="2.2" ry="1.3" transform="rotate(161 367.7 74.8)" fill="rgb(80, 42, 115)" opacity="0.85"/><ellipse cx="369.9" cy="36.9" rx="2.2" ry="1.7" transform="rotate(18 369.9 36.9)" fill="rgb(80, 42, 115)" opacity="0.85"/><ellipse cx="376.9" cy="57.2" rx="1.7" ry="1.9" transform="rotate(177 376.9 57.2)" fill="rgb(62, 30, 95)" opacity="0.85"/><ellipse cx="334.1" cy="45.5" rx="1.4" ry="1.3" transform="rotate(25 334.1 45.5)" fill="rgb(62, 30, 95)" opacity="0.85"/><ellipse cx="338.3" cy="48.4" rx="1.5" ry="1.4" transform="rotate(131 338.3 48.4)" fill="rgb(105, 62, 140)" opacity="0.85"/><ellipse cx="334.5" cy="43.4" rx="2.0" ry="1.4" transform="rotate(154 334.5 43.4)" fill="rgb(62, 30, 95)" opacity="0.85"/><ellipse cx="355.1" cy="68.2" rx="1.5" ry="1.7" transform="rotate(112 355.1 68.2)" fill="rgb(62, 30, 95)" opacity="0.85"/><ellipse cx="367.6" cy="70.2" rx="1.9" ry="1.6" transform="rotate(42 367.6 70.2)" fill="rgb(62, 30, 95)" opacity="0.85"/><ellipse cx="369.1" cy="73.4" rx="1.7" ry="1.8" transform="rotate(1 369.1 73.4)" fill="rgb(62, 30, 95)" opacity="0.85"/><ellipse cx="379.0" cy="56.7" rx="2.0" ry="1.2" transform="rotate(166 379.0 56.7)" fill="rgb(80, 42, 115)" opacity="0.85"/><ellipse cx="335.2" cy="67.4" rx="2.3" ry="1.7" transform="rotate(39 335.2 67.4)" fill="rgb(80, 42, 115)" opacity="0.85"/><ellipse cx="337.0" cy="75.4" rx="1.6" ry="1.4" transform="rotate(41 337.0 75.4)" fill="rgb(62, 30, 95)" opacity="0.85"/><ellipse cx="332.4" cy="77.7" rx="1.9" ry="1.8" transform="rotate(25 332.4 77.7)" fill="rgb(105, 62, 140)" opacity="0.85"/><ellipse cx="355.6" cy="57.4" rx="2.2" ry="1.7" transform="rotate(27 355.6 57.4)" fill="rgb(105, 62, 140)" opacity="0.85"/><ellipse cx="364.7" cy="70.2" rx="1.5" ry="1.6" transform="rotate(42 364.7 70.2)" fill="rgb(62, 30, 95)" opacity="0.85"/><ellipse cx="344.0" cy="54.3" rx="1.6" ry="1.8" transform="rotate(78 344.0 54.3)" fill="rgb(62, 30, 95)" opacity="0.85"/><ellipse cx="340.6" cy="49.4" rx="1.9" ry="1.4" transform="rotate(138 340.6 49.4)" fill="rgb(62, 30, 95)" opacity="0.85"/><ellipse cx="353.3" cy="54.4" rx="1.5" ry="1.3" transform="rotate(149 353.3 54.4)" fill="rgb(80, 42, 115)" opacity="0.85"/><ellipse cx="357.1" cy="51.8" rx="1.8" ry="1.6" transform="rotate(17 357.1 51.8)" fill="rgb(62, 30, 95)" opacity="0.85"/><ellipse cx="338.9" cy="57.7" rx="1.7" ry="1.6" transform="rotate(127 338.9 57.7)" fill="rgb(105, 62, 140)" opacity="0.85"/><ellipse cx="339.2" cy="73.1" rx="1.5" ry="1.2" transform="rotate(76 339.2 73.1)" fill="rgb(62, 30, 95)" opacity="0.85"/><ellipse cx="371.4" cy="79.1" rx="2.0" ry="1.2" transform="rotate(119 371.4 79.1)" fill="rgb(105, 62, 140)" opacity="0.85"/><ellipse cx="357.5" cy="56.8" rx="1.7" ry="1.6" transform="rotate(94 357.5 56.8)" fill="rgb(80, 42, 115)" opacity="0.85"/><ellipse cx="364.9" cy="69.2" rx="1.7" ry="1.9" transform="rotate(81 364.9 69.2)" fill="rgb(62, 30, 95)" opacity="0.85"/><ellipse cx="343.6" cy="74.7" rx="1.4" ry="1.6" transform="rotate(116 343.6 74.7)" fill="rgb(62, 30, 95)" opacity="0.85"/><ellipse cx="334.8" cy="48.2" rx="2.1" ry="1.1" transform="rotate(135 334.8 48.2)" fill="rgb(62, 30, 95)" opacity="0.85"/><ellipse cx="353.7" cy="65.2" rx="1.5" ry="1.5" transform="rotate(168 353.7 65.2)" fill="rgb(105, 62, 140)" opacity="0.85"/><ellipse cx="346.8" cy="39.9" rx="1.8" ry="1.5" transform="rotate(65 346.8 39.9)" fill="rgb(62, 30, 95)" opacity="0.85"/><ellipse cx="362.1" cy="38.9" rx="1.5" ry="1.5" transform="rotate(171 362.1 38.9)" fill="rgb(80, 42, 115)" opacity="0.85"/><ellipse cx="363.1" cy="46.3" rx="1.6" ry="1.6" transform="rotate(78 363.1 46.3)" fill="rgb(105, 62, 140)" opacity="0.85"/><ellipse cx="332.0" cy="75.5" rx="2.2" ry="1.2" transform="rotate(66 332.0 75.5)" fill="rgb(62, 30, 95)" opacity="0.85"/><ellipse cx="351.2" cy="45.2" rx="1.5" ry="1.3" transform="rotate(2 351.2 45.2)" fill="rgb(80, 42, 115)" opacity="0.85"/><ellipse cx="355.1" cy="37.9" rx="1.8" ry="1.9" transform="rotate(29 355.1 37.9)" fill="rgb(80, 42, 115)" opacity="0.85"/><ellipse cx="351.7" cy="44.8" rx="1.8" ry="1.9" transform="rotate(176 351.7 44.8)" fill="rgb(62, 30, 95)" opacity="0.85"/><ellipse cx="365.9" cy="64.9" rx="2.2" ry="1.7" transform="rotate(17 365.9 64.9)" fill="rgb(105, 62, 140)" opacity="0.85"/><ellipse cx="349.6" cy="46.8" rx="2.1" ry="2.0" transform="rotate(147 349.6 46.8)" fill="rgb(105, 62, 140)" opacity="0.85"/><ellipse cx="367.3" cy="56.9" rx="1.8" ry="1.6" transform="rotate(101 367.3 56.9)" fill="rgb(105, 62, 140)" opacity="0.85"/><ellipse cx="374.8" cy="53.2" rx="2.2" ry="1.7" transform="rotate(56 374.8 53.2)" fill="rgb(62, 30, 95)" opacity="0.85"/><ellipse cx="373.6" cy="61.9" rx="1.7" ry="1.3" transform="rotate(130 373.6 61.9)" fill="rgb(62, 30, 95)" opacity="0.85"/><ellipse cx="362.5" cy="64.4" rx="1.9" ry="2.0" transform="rotate(86 362.5 64.4)" fill="rgb(62, 30, 95)" opacity="0.85"/><ellipse cx="348.0" cy="44.0" rx="1.6" ry="1.3" transform="rotate(152 348.0 44.0)" fill="rgb(105, 62, 140)" opacity="0.85"/><ellipse cx="368.3" cy="72.4" rx="1.7" ry="1.6" transform="rotate(110 368.3 72.4)" fill="rgb(80, 42, 115)" opacity="0.85"/><ellipse cx="344.7" cy="62.6" rx="1.9" ry="2.0" transform="rotate(128 344.7 62.6)" fill="rgb(105, 62, 140)" opacity="0.85"/><ellipse cx="369.3" cy="52.9" rx="2.0" ry="1.6" transform="rotate(66 369.3 52.9)" fill="rgb(105, 62, 140)" opacity="0.85"/><ellipse cx="369.6" cy="45.2" rx="1.9" ry="1.7" transform="rotate(159 369.6 45.2)" fill="rgb(105, 62, 140)" opacity="0.85"/><ellipse cx="340.3" cy="75.9" rx="2.2" ry="1.9" transform="rotate(74 340.3 75.9)" fill="rgb(105, 62, 140)" opacity="0.85"/><ellipse cx="356.3" cy="80.1" rx="2.2" ry="1.8" transform="rotate(18 356.3 80.1)" fill="rgb(80, 42, 115)" opacity="0.85"/><ellipse cx="371.4" cy="61.8" rx="2.1" ry="1.8" transform="rotate(32 371.4 61.8)" fill="rgb(105, 62, 140)" opacity="0.85"/><ellipse cx="359.3" cy="45.1" rx="2.3" ry="1.6" transform="rotate(93 359.3 45.1)" fill="rgb(62, 30, 95)" opacity="0.85"/><ellipse cx="361.5" cy="76.9" rx="1.6" ry="1.8" transform="rotate(36 361.5 76.9)" fill="rgb(80, 42, 115)" opacity="0.85"/><ellipse cx="337.4" cy="71.4" rx="2.1" ry="1.3" transform="rotate(123 337.4 71.4)" fill="rgb(62, 30, 95)" opacity="0.85"/><ellipse cx="364.9" cy="64.1" rx="1.3" ry="1.9" transform="rotate(76 364.9 64.1)" fill="rgb(80, 42, 115)" opacity="0.85"/><ellipse cx="357.3" cy="40.5" rx="2.3" ry="1.1" transform="rotate(76 357.3 40.5)" fill="rgb(62, 30, 95)" opacity="0.85"/><ellipse cx="351.1" cy="80.1" rx="1.8" ry="1.5" transform="rotate(90 351.1 80.1)" fill="rgb(80, 42, 115)" opacity="0.85"/><ellipse cx="374.9" cy="51.2" rx="2.0" ry="1.1" transform="rotate(83 374.9 51.2)" fill="rgb(62, 30, 95)" opacity="0.85"/><ellipse cx="350.5" cy="58.2" rx="1.8" ry="1.2" transform="rotate(36 350.5 58.2)" fill="rgb(62, 30, 95)" opacity="0.85"/><ellipse cx="334.4" cy="60.2" rx="1.5" ry="1.2" transform="rotate(130 334.4 60.2)" fill="rgb(80, 42, 115)" opacity="0.85"/><ellipse cx="378.1" cy="39.2" rx="2.1" ry="1.5" transform="rotate(148 378.1 39.2)" fill="rgb(105, 62, 140)" opacity="0.85"/><ellipse cx="351.0" cy="49.0" rx="2.0" ry="1.9" transform="rotate(103 351.0 49.0)" fill="rgb(105, 62, 140)" opacity="0.85"/><ellipse cx="362.6" cy="46.6" rx="1.7" ry="1.4" transform="rotate(148 362.6 46.6)" fill="rgb(62, 30, 95)" opacity="0.85"/><ellipse cx="343.6" cy="48.4" rx="1.4" ry="1.5" transform="rotate(118 343.6 48.4)" fill="rgb(105, 62, 140)" opacity="0.85"/><ellipse cx="366.9" cy="69.9" rx="2.0" ry="1.7" transform="rotate(79 366.9 69.9)" fill="rgb(62, 30, 95)" opacity="0.85"/><ellipse cx="367.8" cy="68.2" rx="2.2" ry="1.1" transform="rotate(7 367.8 68.2)" fill="rgb(62, 30, 95)" opacity="0.85"/><ellipse cx="358.1" cy="40.2" rx="1.4" ry="1.4" transform="rotate(15 358.1 40.2)" fill="rgb(105, 62, 140)" opacity="0.85"/><ellipse cx="337.9" cy="36.8" rx="1.7" ry="1.3" transform="rotate(155 337.9 36.8)" fill="rgb(80, 42, 115)" opacity="0.85"/><ellipse cx="375.3" cy="49.2" rx="1.4" ry="1.8" transform="rotate(49 375.3 49.2)" fill="rgb(80, 42, 115)" opacity="0.85"/><ellipse cx="364.1" cy="76.8" rx="1.6" ry="1.4" transform="rotate(104 364.1 76.8)" fill="rgb(105, 62, 140)" opacity="0.85"/><ellipse cx="345.0" cy="65.4" rx="1.7" ry="1.3" transform="rotate(135 345.0 65.4)" fill="rgb(80, 42, 115)" opacity="0.85"/><ellipse cx="338.6" cy="76.4" rx="1.4" ry="1.2" transform="rotate(74 338.6 76.4)" fill="rgb(80, 42, 115)" opacity="0.85"/><ellipse cx="346.0" cy="78.1" rx="2.2" ry="1.2" transform="rotate(82 346.0 78.1)" fill="rgb(80, 42, 115)" opacity="0.85"/><ellipse cx="373.7" cy="60.1" rx="1.6" ry="1.8" transform="rotate(4 373.7 60.1)" fill="rgb(80, 42, 115)" opacity="0.85"/><ellipse cx="369.1" cy="66.6" rx="1.8" ry="1.4" transform="rotate(57 369.1 66.6)" fill="rgb(80, 42, 115)" opacity="0.85"/><ellipse cx="337.6" cy="38.0" rx="1.8" ry="1.2" transform="rotate(81 337.6 38.0)" fill="rgb(105, 62, 140)" opacity="0.85"/><ellipse cx="358.7" cy="54.1" rx="2.1" ry="1.6" transform="rotate(5 358.7 54.1)" fill="rgb(62, 30, 95)" opacity="0.85"/><ellipse cx="347.7" cy="46.7" rx="1.8" ry="1.9" transform="rotate(177 347.7 46.7)" fill="rgb(105, 62, 140)" opacity="0.85"/><ellipse cx="358.7" cy="38.3" rx="1.8" ry="1.7" transform="rotate(95 358.7 38.3)" fill="rgb(105, 62, 140)" opacity="0.85"/><ellipse cx="371.2" cy="46.6" rx="2.2" ry="1.2" transform="rotate(157 371.2 46.6)" fill="rgb(62, 30, 95)" opacity="0.85"/><ellipse cx="346.5" cy="38.4" rx="1.6" ry="1.8" transform="rotate(152 346.5 38.4)" fill="rgb(62, 30, 95)" opacity="0.85"/><ellipse cx="373.8" cy="44.4" rx="1.4" ry="1.5" transform="rotate(59 373.8 44.4)" fill="rgb(80, 42, 115)" opacity="0.85"/><ellipse cx="359.4" cy="59.2" rx="1.6" ry="1.2" transform="rotate(0 359.4 59.2)" fill="rgb(80, 42, 115)" opacity="0.85"/><ellipse cx="372.0" cy="74.5" rx="2.0" ry="1.4" transform="rotate(59 372.0 74.5)" fill="rgb(62, 30, 95)" opacity="0.85"/><ellipse cx="365.7" cy="55.5" rx="1.8" ry="1.9" transform="rotate(46 365.7 55.5)" fill="rgb(80, 42, 115)" opacity="0.85"/><ellipse cx="333.8" cy="50.1" rx="1.9" ry="1.1" transform="rotate(4 333.8 50.1)" fill="rgb(62, 30, 95)" opacity="0.85"/><ellipse cx="366.3" cy="67.0" rx="2.1" ry="1.9" transform="rotate(50 366.3 67.0)" fill="rgb(105, 62, 140)" opacity="0.85"/><ellipse cx="333.9" cy="66.0" rx="1.6" ry="1.9" transform="rotate(170 333.9 66.0)" fill="rgb(62, 30, 95)" opacity="0.85"/><ellipse cx="377.9" cy="44.5" rx="1.9" ry="1.8" transform="rotate(180 377.9 44.5)" fill="rgb(105, 62, 140)" opacity="0.85"/><ellipse cx="336.7" cy="56.3" rx="2.2" ry="1.5" transform="rotate(55 336.7 56.3)" fill="rgb(80, 42, 115)" opacity="0.85"/><ellipse cx="357.6" cy="70.2" rx="1.7" ry="1.4" transform="rotate(52 357.6 70.2)" fill="rgb(62, 30, 95)" opacity="0.85"/><ellipse cx="352.2" cy="61.2" rx="2.0" ry="1.9" transform="rotate(67 352.2 61.2)" fill="rgb(80, 42, 115)" opacity="0.85"/><ellipse cx="333.6" cy="79.9" rx="1.7" ry="1.9" transform="rotate(33 333.6 79.9)" fill="rgb(80, 42, 115)" opacity="0.85"/><ellipse cx="366.1" cy="56.5" rx="1.8" ry="1.7" transform="rotate(120 366.1 56.5)" fill="rgb(105, 62, 140)" opacity="0.85"/><ellipse cx="369.1" cy="45.4" rx="1.4" ry="1.7" transform="rotate(149 369.1 45.4)" fill="rgb(80, 42, 115)" opacity="0.85"/><ellipse cx="364.9" cy="58.6" rx="1.8" ry="1.9" transform="rotate(74 364.9 58.6)" fill="rgb(80, 42, 115)" opacity="0.85"/><ellipse cx="372.3" cy="65.2" rx="1.3" ry="1.9" transform="rotate(110 372.3 65.2)" fill="rgb(105, 62, 140)" opacity="0.85"/><ellipse cx="341.5" cy="46.8" rx="1.3" ry="1.8" transform="rotate(92 341.5 46.8)" fill="rgb(105, 62, 140)" opacity="0.85"/><ellipse cx="340.6" cy="65.1" rx="2.2" ry="1.5" transform="rotate(79 340.6 65.1)" fill="rgb(80, 42, 115)" opacity="0.85"/><ellipse cx="377.4" cy="58.9" rx="1.7" ry="1.9" transform="rotate(45 377.4 58.9)" fill="rgb(62, 30, 95)" opacity="0.85"/><ellipse cx="372.0" cy="56.3" rx="1.4" ry="2.0" transform="rotate(53 372.0 56.3)" fill="rgb(105, 62, 140)" opacity="0.85"/><ellipse cx="332.8" cy="40.4" rx="2.2" ry="1.7" transform="rotate(90 332.8 40.4)" fill="rgb(62, 30, 95)" opacity="0.85"/><ellipse cx="337.3" cy="72.5" rx="2.0" ry="1.8" transform="rotate(21 337.3 72.5)" fill="rgb(105, 62, 140)" opacity="0.85"/><ellipse cx="371.8" cy="48.6" rx="1.8" ry="2.0" transform="rotate(42 371.8 48.6)" fill="rgb(105, 62, 140)" opacity="0.85"/><ellipse cx="376.1" cy="37.3" rx="1.3" ry="1.9" transform="rotate(138 376.1 37.3)" fill="rgb(80, 42, 115)" opacity="0.85"/><ellipse cx="356.5" cy="50.5" rx="1.6" ry="1.5" transform="rotate(75 356.5 50.5)" fill="rgb(62, 30, 95)" opacity="0.85"/><ellipse cx="359.8" cy="57.6" rx="1.5" ry="1.3" transform="rotate(29 359.8 57.6)" fill="rgb(62, 30, 95)" opacity="0.85"/><ellipse cx="374.5" cy="77.3" rx="2.2" ry="1.2" transform="rotate(122 374.5 77.3)" fill="rgb(105, 62, 140)" opacity="0.85"/><ellipse cx="371.2" cy="57.9" rx="1.4" ry="1.2" transform="rotate(31 371.2 57.9)" fill="rgb(80, 42, 115)" opacity="0.85"/><ellipse cx="376.7" cy="62.6" rx="2.1" ry="1.2" transform="rotate(102 376.7 62.6)" fill="rgb(80, 42, 115)" opacity="0.85"/><ellipse cx="342.6" cy="61.5" rx="1.6" ry="1.4" transform="rotate(37 342.6 61.5)" fill="rgb(105, 62, 140)" opacity="0.85"/><ellipse cx="333.3" cy="70.3" rx="2.0" ry="1.8" transform="rotate(85 333.3 70.3)" fill="rgb(62, 30, 95)" opacity="0.85"/><ellipse cx="364.4" cy="48.3" rx="2.0" ry="1.9" transform="rotate(124 364.4 48.3)" fill="rgb(105, 62, 140)" opacity="0.85"/><ellipse cx="333.5" cy="79.6" rx="1.5" ry="1.5" transform="rotate(82 333.5 79.6)" fill="rgb(80, 42, 115)" opacity="0.85"/><ellipse cx="374.9" cy="66.0" rx="2.0" ry="1.5" transform="rotate(17 374.9 66.0)" fill="rgb(80, 42, 115)" opacity="0.85"/><ellipse cx="340.5" cy="45.1" rx="1.4" ry="1.5" transform="rotate(71 340.5 45.1)" fill="rgb(62, 30, 95)" opacity="0.85"/><ellipse cx="363.9" cy="66.5" rx="1.4" ry="1.9" transform="rotate(123 363.9 66.5)" fill="rgb(80, 42, 115)" opacity="0.85"/><ellipse cx="376.7" cy="70.6" rx="2.1" ry="2.0" transform="rotate(16 376.7 70.6)" fill="rgb(105, 62, 140)" opacity="0.85"/><ellipse cx="351.7" cy="55.0" rx="2.1" ry="1.1" transform="rotate(127 351.7 55.0)" fill="rgb(105, 62, 140)" opacity="0.85"/><ellipse cx="349.6" cy="62.7" rx="1.5" ry="1.4" transform="rotate(159 349.6 62.7)" fill="rgb(62, 30, 95)" opacity="0.85"/><ellipse cx="371.6" cy="39.6" rx="1.4" ry="2.0" transform="rotate(131 371.6 39.6)" fill="rgb(62, 30, 95)" opacity="0.85"/><ellipse cx="373.2" cy="40.6" rx="1.4" ry="1.8" transform="rotate(67 373.2 40.6)" fill="rgb(62, 30, 95)" opacity="0.85"/><ellipse cx="364.0" cy="59.6" rx="1.4" ry="1.9" transform="rotate(131 364.0 59.6)" fill="rgb(80, 42, 115)" opacity="0.85"/><ellipse cx="362.5" cy="74.9" rx="2.3" ry="1.9" transform="rotate(141 362.5 74.9)" fill="rgb(105, 62, 140)" opacity="0.85"/><ellipse cx="339.5" cy="59.6" rx="1.6" ry="1.8" transform="rotate(163 339.5 59.6)" fill="rgb(80, 42, 115)" opacity="0.85"/><ellipse cx="350.1" cy="52.3" rx="1.9" ry="1.7" transform="rotate(116 350.1 52.3)" fill="rgb(80, 42, 115)" opacity="0.85"/><ellipse cx="345.4" cy="79.9" rx="1.7" ry="1.7" transform="rotate(176 345.4 79.9)" fill="rgb(105, 62, 140)" opacity="0.85"/><ellipse cx="345.1" cy="50.6" rx="1.5" ry="1.3" transform="rotate(136 345.1 50.6)" fill="rgb(80, 42, 115)" opacity="0.85"/><ellipse cx="343.0" cy="57.7" rx="1.4" ry="1.3" transform="rotate(100 343.0 57.7)" fill="rgb(62, 30, 95)" opacity="0.85"/><ellipse cx="334.8" cy="46.0" rx="2.2" ry="1.3" transform="rotate(57 334.8 46.0)" fill="rgb(62, 30, 95)" opacity="0.85"/></g></g>
<rect x="333.5" y="38.1" width="44.30000000000001" height="40.99999999999999" fill="none" stroke="#000" stroke-width="1.3" />
<line x1="338.5" y1="73.6" x2="360.5" y2="73.6" stroke="#e8202a" stroke-width="1.2" />
<rect x="264.5" y="102.8" width="37.8" height="21.2" fill="#fff" stroke="none" stroke-width="1" />
<text x="272.6" y="116.4" font-size="10.2" text-anchor="start">H&amp;E</text>
<rect x="380.5" y="37.6" width="114.5" height="85.4" fill="#888" filter="url(#heR)"/>
<rect x="380.5" y="37.6" width="114.5" height="85.4" fill="#888" filter="url(#heRp)"/>
<path d="M437.6,59 L438,66 M438.3,70 Q439.5,80 443.5,89" fill="none" stroke="#f2eaf2" stroke-width="1.4"/>
<ellipse cx="451" cy="100.3" rx="4.4" ry="10.6" transform="rotate(-30 451 100.3)" fill="#faf6f8"/>
<ellipse cx="452.5" cy="103" rx="1.2" ry="2" transform="rotate(-30 452.5 103)" fill="#a890b0"/>
<rect x="449.7" y="37.6" width="45.30000000000001" height="41.99999999999999" fill="#888" filter="url(#heIb)"/>
<rect x="449.7" y="37.6" width="45.30000000000001" height="41.99999999999999" fill="#888" filter="url(#heIn)"/>
<g clip-path="url(#cc2)"><g filter="url(#blur03)"><ellipse cx="486.4" cy="39.2" rx="2.1" ry="1.9" transform="rotate(16 486.4 39.2)" fill="rgb(80, 42, 115)" opacity="0.85"/><ellipse cx="485.9" cy="54.5" rx="1.7" ry="1.7" transform="rotate(72 485.9 54.5)" fill="rgb(105, 62, 140)" opacity="0.85"/><ellipse cx="458.1" cy="75.3" rx="1.3" ry="2.0" transform="rotate(134 458.1 75.3)" fill="rgb(80, 42, 115)" opacity="0.85"/><ellipse cx="482.5" cy="65.5" rx="2.0" ry="1.3" transform="rotate(90 482.5 65.5)" fill="rgb(105, 62, 140)" opacity="0.85"/><ellipse cx="492.5" cy="37.4" rx="2.2" ry="1.7" transform="rotate(73 492.5 37.4)" fill="rgb(62, 30, 95)" opacity="0.85"/><ellipse cx="453.4" cy="75.4" rx="1.7" ry="1.9" transform="rotate(98 453.4 75.4)" fill="rgb(80, 42, 115)" opacity="0.85"/><ellipse cx="452.9" cy="51.9" rx="1.7" ry="1.2" transform="rotate(17 452.9 51.9)" fill="rgb(62, 30, 95)" opacity="0.85"/><ellipse cx="449.0" cy="62.1" rx="2.1" ry="1.3" transform="rotate(167 449.0 62.1)" fill="rgb(62, 30, 95)" opacity="0.85"/><ellipse cx="474.2" cy="80.1" rx="1.5" ry="1.1" transform="rotate(67 474.2 80.1)" fill="rgb(62, 30, 95)" opacity="0.85"/><ellipse cx="488.1" cy="80.2" rx="2.0" ry="1.6" transform="rotate(39 488.1 80.2)" fill="rgb(105, 62, 140)" opacity="0.85"/><ellipse cx="452.9" cy="59.4" rx="1.7" ry="1.1" transform="rotate(121 452.9 59.4)" fill="rgb(80, 42, 115)" opacity="0.85"/><ellipse cx="451.3" cy="42.3" rx="1.4" ry="1.5" transform="rotate(117 451.3 42.3)" fill="rgb(80, 42, 115)" opacity="0.85"/><ellipse cx="460.9" cy="80.4" rx="2.2" ry="1.1" transform="rotate(140 460.9 80.4)" fill="rgb(80, 42, 115)" opacity="0.85"/><ellipse cx="458.2" cy="61.1" rx="2.2" ry="1.2" transform="rotate(110 458.2 61.1)" fill="rgb(105, 62, 140)" opacity="0.85"/><ellipse cx="463.5" cy="37.8" rx="1.8" ry="1.8" transform="rotate(145 463.5 37.8)" fill="rgb(80, 42, 115)" opacity="0.85"/><ellipse cx="467.2" cy="58.7" rx="1.8" ry="1.7" transform="rotate(147 467.2 58.7)" fill="rgb(80, 42, 115)" opacity="0.85"/><ellipse cx="454.7" cy="44.7" rx="2.1" ry="1.8" transform="rotate(46 454.7 44.7)" fill="rgb(80, 42, 115)" opacity="0.85"/><ellipse cx="451.7" cy="41.6" rx="1.4" ry="1.9" transform="rotate(156 451.7 41.6)" fill="rgb(62, 30, 95)" opacity="0.85"/><ellipse cx="480.2" cy="39.4" rx="1.8" ry="1.5" transform="rotate(167 480.2 39.4)" fill="rgb(62, 30, 95)" opacity="0.85"/><ellipse cx="470.5" cy="45.8" rx="1.6" ry="1.6" transform="rotate(6 470.5 45.8)" fill="rgb(62, 30, 95)" opacity="0.85"/><ellipse cx="451.7" cy="47.2" rx="2.0" ry="1.7" transform="rotate(80 451.7 47.2)" fill="rgb(62, 30, 95)" opacity="0.85"/><ellipse cx="476.9" cy="51.2" rx="2.0" ry="1.4" transform="rotate(167 476.9 51.2)" fill="rgb(62, 30, 95)" opacity="0.85"/><ellipse cx="492.5" cy="57.9" rx="1.6" ry="1.9" transform="rotate(174 492.5 57.9)" fill="rgb(80, 42, 115)" opacity="0.85"/><ellipse cx="450.1" cy="44.0" rx="2.3" ry="1.5" transform="rotate(48 450.1 44.0)" fill="rgb(105, 62, 140)" opacity="0.85"/><ellipse cx="489.8" cy="75.7" rx="2.2" ry="1.9" transform="rotate(93 489.8 75.7)" fill="rgb(80, 42, 115)" opacity="0.85"/><ellipse cx="482.8" cy="76.0" rx="2.1" ry="1.5" transform="rotate(30 482.8 76.0)" fill="rgb(62, 30, 95)" opacity="0.85"/><ellipse cx="457.9" cy="43.3" rx="1.3" ry="1.3" transform="rotate(128 457.9 43.3)" fill="rgb(62, 30, 95)" opacity="0.85"/><ellipse cx="490.6" cy="63.6" rx="2.0" ry="1.5" transform="rotate(166 490.6 63.6)" fill="rgb(80, 42, 115)" opacity="0.85"/><ellipse cx="466.3" cy="61.3" rx="2.2" ry="1.6" transform="rotate(128 466.3 61.3)" fill="rgb(80, 42, 115)" opacity="0.85"/><ellipse cx="457.4" cy="49.2" rx="1.5" ry="1.1" transform="rotate(48 457.4 49.2)" fill="rgb(105, 62, 140)" opacity="0.85"/><ellipse cx="483.6" cy="52.1" rx="1.4" ry="1.1" transform="rotate(76 483.6 52.1)" fill="rgb(62, 30, 95)" opacity="0.85"/><ellipse cx="487.9" cy="72.6" rx="1.7" ry="1.5" transform="rotate(112 487.9 72.6)" fill="rgb(62, 30, 95)" opacity="0.85"/><ellipse cx="467.8" cy="67.3" rx="2.3" ry="1.5" transform="rotate(11 467.8 67.3)" fill="rgb(80, 42, 115)" opacity="0.85"/><ellipse cx="478.3" cy="41.1" rx="1.4" ry="1.3" transform="rotate(158 478.3 41.1)" fill="rgb(80, 42, 115)" opacity="0.85"/><ellipse cx="451.1" cy="68.4" rx="1.6" ry="1.9" transform="rotate(111 451.1 68.4)" fill="rgb(62, 30, 95)" opacity="0.85"/><ellipse cx="475.0" cy="49.8" rx="1.4" ry="1.7" transform="rotate(33 475.0 49.8)" fill="rgb(62, 30, 95)" opacity="0.85"/><ellipse cx="490.5" cy="69.2" rx="1.5" ry="1.4" transform="rotate(109 490.5 69.2)" fill="rgb(80, 42, 115)" opacity="0.85"/><ellipse cx="480.6" cy="59.9" rx="1.6" ry="1.6" transform="rotate(73 480.6 59.9)" fill="rgb(80, 42, 115)" opacity="0.85"/><ellipse cx="482.0" cy="64.3" rx="1.5" ry="1.2" transform="rotate(90 482.0 64.3)" fill="rgb(62, 30, 95)" opacity="0.85"/><ellipse cx="484.7" cy="69.1" rx="1.6" ry="1.8" transform="rotate(107 484.7 69.1)" fill="rgb(80, 42, 115)" opacity="0.85"/><ellipse cx="472.8" cy="47.3" rx="2.0" ry="1.6" transform="rotate(61 472.8 47.3)" fill="rgb(62, 30, 95)" opacity="0.85"/><ellipse cx="458.4" cy="79.4" rx="1.7" ry="1.6" transform="rotate(111 458.4 79.4)" fill="rgb(80, 42, 115)" opacity="0.85"/><ellipse cx="478.1" cy="50.7" rx="2.2" ry="1.5" transform="rotate(2 478.1 50.7)" fill="rgb(105, 62, 140)" opacity="0.85"/><ellipse cx="472.5" cy="75.4" rx="1.5" ry="1.3" transform="rotate(104 472.5 75.4)" fill="rgb(62, 30, 95)" opacity="0.85"/><ellipse cx="475.3" cy="57.4" rx="1.5" ry="1.9" transform="rotate(29 475.3 57.4)" fill="rgb(80, 42, 115)" opacity="0.85"/><ellipse cx="486.6" cy="60.3" rx="1.9" ry="1.7" transform="rotate(64 486.6 60.3)" fill="rgb(80, 42, 115)" opacity="0.85"/><ellipse cx="491.5" cy="77.0" rx="1.3" ry="1.9" transform="rotate(48 491.5 77.0)" fill="rgb(80, 42, 115)" opacity="0.85"/><ellipse cx="474.2" cy="40.9" rx="2.0" ry="1.2" transform="rotate(139 474.2 40.9)" fill="rgb(105, 62, 140)" opacity="0.85"/><ellipse cx="471.1" cy="57.1" rx="1.4" ry="1.2" transform="rotate(24 471.1 57.1)" fill="rgb(62, 30, 95)" opacity="0.85"/><ellipse cx="483.4" cy="66.8" rx="1.9" ry="1.7" transform="rotate(80 483.4 66.8)" fill="rgb(80, 42, 115)" opacity="0.85"/><ellipse cx="474.3" cy="64.2" rx="2.0" ry="1.5" transform="rotate(130 474.3 64.2)" fill="rgb(105, 62, 140)" opacity="0.85"/><ellipse cx="493.9" cy="55.1" rx="1.8" ry="1.6" transform="rotate(53 493.9 55.1)" fill="rgb(80, 42, 115)" opacity="0.85"/><ellipse cx="489.6" cy="38.5" rx="2.2" ry="1.9" transform="rotate(80 489.6 38.5)" fill="rgb(80, 42, 115)" opacity="0.85"/><ellipse cx="495.0" cy="60.9" rx="1.9" ry="1.3" transform="rotate(14 495.0 60.9)" fill="rgb(62, 30, 95)" opacity="0.85"/><ellipse cx="459.1" cy="48.2" rx="1.7" ry="1.7" transform="rotate(145 459.1 48.2)" fill="rgb(80, 42, 115)" opacity="0.85"/><ellipse cx="473.1" cy="40.7" rx="1.5" ry="1.5" transform="rotate(130 473.1 40.7)" fill="rgb(105, 62, 140)" opacity="0.85"/><ellipse cx="451.5" cy="39.8" rx="2.3" ry="1.2" transform="rotate(53 451.5 39.8)" fill="rgb(62, 30, 95)" opacity="0.85"/><ellipse cx="460.1" cy="50.6" rx="1.6" ry="1.5" transform="rotate(24 460.1 50.6)" fill="rgb(80, 42, 115)" opacity="0.85"/><ellipse cx="465.2" cy="69.0" rx="1.8" ry="1.7" transform="rotate(79 465.2 69.0)" fill="rgb(80, 42, 115)" opacity="0.85"/><ellipse cx="455.9" cy="56.9" rx="1.8" ry="1.6" transform="rotate(95 455.9 56.9)" fill="rgb(62, 30, 95)" opacity="0.85"/><ellipse cx="454.2" cy="48.6" rx="1.6" ry="1.2" transform="rotate(39 454.2 48.6)" fill="rgb(80, 42, 115)" opacity="0.85"/><ellipse cx="487.4" cy="48.9" rx="1.7" ry="1.6" transform="rotate(141 487.4 48.9)" fill="rgb(62, 30, 95)" opacity="0.85"/><ellipse cx="483.2" cy="73.4" rx="2.1" ry="1.6" transform="rotate(132 483.2 73.4)" fill="rgb(105, 62, 140)" opacity="0.85"/><ellipse cx="463.9" cy="59.4" rx="1.9" ry="1.9" transform="rotate(30 463.9 59.4)" fill="rgb(105, 62, 140)" opacity="0.85"/><ellipse cx="449.3" cy="42.7" rx="1.8" ry="1.7" transform="rotate(92 449.3 42.7)" fill="rgb(80, 42, 115)" opacity="0.85"/><ellipse cx="488.0" cy="55.8" rx="1.3" ry="1.3" transform="rotate(53 488.0 55.8)" fill="rgb(62, 30, 95)" opacity="0.85"/><ellipse cx="453.7" cy="74.8" rx="2.0" ry="1.7" transform="rotate(127 453.7 74.8)" fill="rgb(105, 62, 140)" opacity="0.85"/><ellipse cx="479.2" cy="44.5" rx="1.9" ry="1.5" transform="rotate(134 479.2 44.5)" fill="rgb(80, 42, 115)" opacity="0.85"/><ellipse cx="478.3" cy="67.8" rx="1.4" ry="1.3" transform="rotate(152 478.3 67.8)" fill="rgb(105, 62, 140)" opacity="0.85"/><ellipse cx="466.4" cy="53.0" rx="2.2" ry="1.8" transform="rotate(21 466.4 53.0)" fill="rgb(105, 62, 140)" opacity="0.85"/><ellipse cx="488.2" cy="67.2" rx="1.3" ry="1.2" transform="rotate(161 488.2 67.2)" fill="rgb(80, 42, 115)" opacity="0.85"/><ellipse cx="463.0" cy="46.1" rx="1.3" ry="1.9" transform="rotate(94 463.0 46.1)" fill="rgb(80, 42, 115)" opacity="0.85"/><ellipse cx="477.9" cy="44.7" rx="1.9" ry="1.8" transform="rotate(136 477.9 44.7)" fill="rgb(105, 62, 140)" opacity="0.85"/><ellipse cx="473.6" cy="73.0" rx="2.2" ry="1.8" transform="rotate(86 473.6 73.0)" fill="rgb(80, 42, 115)" opacity="0.85"/><ellipse cx="488.9" cy="68.0" rx="2.2" ry="1.2" transform="rotate(141 488.9 68.0)" fill="rgb(80, 42, 115)" opacity="0.85"/><ellipse cx="485.3" cy="59.3" rx="2.3" ry="1.7" transform="rotate(160 485.3 59.3)" fill="rgb(80, 42, 115)" opacity="0.85"/><ellipse cx="454.8" cy="45.5" rx="1.5" ry="1.8" transform="rotate(123 454.8 45.5)" fill="rgb(80, 42, 115)" opacity="0.85"/><ellipse cx="468.9" cy="73.3" rx="2.2" ry="1.1" transform="rotate(104 468.9 73.3)" fill="rgb(105, 62, 140)" opacity="0.85"/><ellipse cx="466.6" cy="63.9" rx="1.7" ry="1.8" transform="rotate(162 466.6 63.9)" fill="rgb(62, 30, 95)" opacity="0.85"/><ellipse cx="488.9" cy="65.3" rx="2.0" ry="1.7" transform="rotate(63 488.9 65.3)" fill="rgb(105, 62, 140)" opacity="0.85"/><ellipse cx="472.2" cy="61.4" rx="1.6" ry="1.1" transform="rotate(96 472.2 61.4)" fill="rgb(80, 42, 115)" opacity="0.85"/><ellipse cx="480.1" cy="59.9" rx="2.0" ry="1.1" transform="rotate(145 480.1 59.9)" fill="rgb(105, 62, 140)" opacity="0.85"/><ellipse cx="492.9" cy="62.7" rx="2.0" ry="1.9" transform="rotate(160 492.9 62.7)" fill="rgb(80, 42, 115)" opacity="0.85"/><ellipse cx="495.5" cy="77.6" rx="1.5" ry="1.4" transform="rotate(41 495.5 77.6)" fill="rgb(62, 30, 95)" opacity="0.85"/><ellipse cx="487.1" cy="73.2" rx="1.7" ry="1.8" transform="rotate(133 487.1 73.2)" fill="rgb(105, 62, 140)" opacity="0.85"/><ellipse cx="469.2" cy="72.5" rx="1.3" ry="2.0" transform="rotate(112 469.2 72.5)" fill="rgb(62, 30, 95)" opacity="0.85"/><ellipse cx="493.8" cy="48.2" rx="2.2" ry="2.0" transform="rotate(164 493.8 48.2)" fill="rgb(105, 62, 140)" opacity="0.85"/><ellipse cx="473.7" cy="40.9" rx="2.0" ry="1.5" transform="rotate(64 473.7 40.9)" fill="rgb(105, 62, 140)" opacity="0.85"/><ellipse cx="465.4" cy="61.6" rx="2.0" ry="1.5" transform="rotate(63 465.4 61.6)" fill="rgb(62, 30, 95)" opacity="0.85"/><ellipse cx="448.8" cy="44.6" rx="1.5" ry="1.2" transform="rotate(147 448.8 44.6)" fill="rgb(105, 62, 140)" opacity="0.85"/><ellipse cx="450.0" cy="54.6" rx="1.6" ry="1.6" transform="rotate(115 450.0 54.6)" fill="rgb(80, 42, 115)" opacity="0.85"/><ellipse cx="484.2" cy="73.6" rx="1.6" ry="1.2" transform="rotate(147 484.2 73.6)" fill="rgb(80, 42, 115)" opacity="0.85"/><ellipse cx="462.1" cy="37.8" rx="1.6" ry="2.0" transform="rotate(146 462.1 37.8)" fill="rgb(62, 30, 95)" opacity="0.85"/><ellipse cx="489.0" cy="63.8" rx="1.7" ry="1.9" transform="rotate(82 489.0 63.8)" fill="rgb(105, 62, 140)" opacity="0.85"/><ellipse cx="458.0" cy="78.5" rx="1.8" ry="1.3" transform="rotate(5 458.0 78.5)" fill="rgb(80, 42, 115)" opacity="0.85"/><ellipse cx="469.3" cy="54.1" rx="2.0" ry="1.2" transform="rotate(147 469.3 54.1)" fill="rgb(80, 42, 115)" opacity="0.85"/><ellipse cx="481.5" cy="68.9" rx="2.0" ry="1.9" transform="rotate(57 481.5 68.9)" fill="rgb(105, 62, 140)" opacity="0.85"/><ellipse cx="466.4" cy="52.5" rx="2.2" ry="1.3" transform="rotate(59 466.4 52.5)" fill="rgb(105, 62, 140)" opacity="0.85"/><ellipse cx="454.8" cy="53.5" rx="1.7" ry="1.9" transform="rotate(104 454.8 53.5)" fill="rgb(105, 62, 140)" opacity="0.85"/><ellipse cx="492.9" cy="50.9" rx="1.8" ry="2.0" transform="rotate(89 492.9 50.9)" fill="rgb(105, 62, 140)" opacity="0.85"/><ellipse cx="459.0" cy="38.3" rx="1.8" ry="1.8" transform="rotate(8 459.0 38.3)" fill="rgb(62, 30, 95)" opacity="0.85"/><ellipse cx="485.7" cy="40.7" rx="2.2" ry="1.8" transform="rotate(40 485.7 40.7)" fill="rgb(105, 62, 140)" opacity="0.85"/><ellipse cx="478.2" cy="72.3" rx="1.4" ry="1.2" transform="rotate(32 478.2 72.3)" fill="rgb(105, 62, 140)" opacity="0.85"/><ellipse cx="485.4" cy="68.6" rx="1.7" ry="1.6" transform="rotate(38 485.4 68.6)" fill="rgb(62, 30, 95)" opacity="0.85"/><ellipse cx="464.1" cy="57.4" rx="1.6" ry="1.2" transform="rotate(32 464.1 57.4)" fill="rgb(105, 62, 140)" opacity="0.85"/><ellipse cx="464.9" cy="67.5" rx="1.4" ry="2.0" transform="rotate(103 464.9 67.5)" fill="rgb(62, 30, 95)" opacity="0.85"/><ellipse cx="471.2" cy="39.2" rx="1.8" ry="1.1" transform="rotate(128 471.2 39.2)" fill="rgb(105, 62, 140)" opacity="0.85"/><ellipse cx="482.5" cy="36.9" rx="1.4" ry="1.7" transform="rotate(50 482.5 36.9)" fill="rgb(62, 30, 95)" opacity="0.85"/><ellipse cx="469.9" cy="42.5" rx="1.7" ry="1.5" transform="rotate(127 469.9 42.5)" fill="rgb(80, 42, 115)" opacity="0.85"/><ellipse cx="470.6" cy="72.5" rx="2.1" ry="1.2" transform="rotate(150 470.6 72.5)" fill="rgb(62, 30, 95)" opacity="0.85"/><ellipse cx="454.3" cy="50.5" rx="1.6" ry="1.7" transform="rotate(105 454.3 50.5)" fill="rgb(80, 42, 115)" opacity="0.85"/><ellipse cx="465.9" cy="55.2" rx="1.8" ry="1.6" transform="rotate(75 465.9 55.2)" fill="rgb(80, 42, 115)" opacity="0.85"/><ellipse cx="494.5" cy="39.7" rx="1.5" ry="1.4" transform="rotate(124 494.5 39.7)" fill="rgb(105, 62, 140)" opacity="0.85"/><ellipse cx="476.7" cy="69.2" rx="2.3" ry="1.3" transform="rotate(51 476.7 69.2)" fill="rgb(105, 62, 140)" opacity="0.85"/><ellipse cx="481.4" cy="57.0" rx="2.3" ry="2.0" transform="rotate(84 481.4 57.0)" fill="rgb(62, 30, 95)" opacity="0.85"/><ellipse cx="472.4" cy="79.0" rx="1.5" ry="1.2" transform="rotate(171 472.4 79.0)" fill="rgb(105, 62, 140)" opacity="0.85"/><ellipse cx="467.0" cy="64.2" rx="2.2" ry="1.9" transform="rotate(119 467.0 64.2)" fill="rgb(62, 30, 95)" opacity="0.85"/><ellipse cx="473.7" cy="56.8" rx="2.0" ry="2.0" transform="rotate(143 473.7 56.8)" fill="rgb(80, 42, 115)" opacity="0.85"/><ellipse cx="469.2" cy="39.2" rx="2.0" ry="1.6" transform="rotate(53 469.2 39.2)" fill="rgb(105, 62, 140)" opacity="0.85"/><ellipse cx="495.1" cy="77.7" rx="2.1" ry="1.3" transform="rotate(165 495.1 77.7)" fill="rgb(105, 62, 140)" opacity="0.85"/><ellipse cx="481.6" cy="74.6" rx="2.0" ry="1.1" transform="rotate(172 481.6 74.6)" fill="rgb(105, 62, 140)" opacity="0.85"/><ellipse cx="454.7" cy="62.6" rx="1.9" ry="1.6" transform="rotate(60 454.7 62.6)" fill="rgb(105, 62, 140)" opacity="0.85"/><ellipse cx="484.6" cy="58.6" rx="1.5" ry="1.2" transform="rotate(73 484.6 58.6)" fill="rgb(105, 62, 140)" opacity="0.85"/><ellipse cx="459.2" cy="42.6" rx="2.2" ry="1.5" transform="rotate(6 459.2 42.6)" fill="rgb(105, 62, 140)" opacity="0.85"/><ellipse cx="488.3" cy="79.4" rx="1.7" ry="1.8" transform="rotate(178 488.3 79.4)" fill="rgb(105, 62, 140)" opacity="0.85"/><ellipse cx="472.4" cy="48.1" rx="1.7" ry="1.6" transform="rotate(39 472.4 48.1)" fill="rgb(62, 30, 95)" opacity="0.85"/><ellipse cx="482.0" cy="46.8" rx="2.1" ry="2.0" transform="rotate(159 482.0 46.8)" fill="rgb(62, 30, 95)" opacity="0.85"/><ellipse cx="460.6" cy="50.3" rx="1.6" ry="1.5" transform="rotate(173 460.6 50.3)" fill="rgb(105, 62, 140)" opacity="0.85"/><ellipse cx="489.3" cy="79.8" rx="1.6" ry="2.0" transform="rotate(34 489.3 79.8)" fill="rgb(105, 62, 140)" opacity="0.85"/><ellipse cx="472.7" cy="56.2" rx="2.2" ry="1.4" transform="rotate(174 472.7 56.2)" fill="rgb(105, 62, 140)" opacity="0.85"/><ellipse cx="457.2" cy="69.0" rx="2.3" ry="1.2" transform="rotate(139 457.2 69.0)" fill="rgb(105, 62, 140)" opacity="0.85"/><ellipse cx="477.0" cy="61.2" rx="1.6" ry="1.8" transform="rotate(92 477.0 61.2)" fill="rgb(80, 42, 115)" opacity="0.85"/><ellipse cx="478.6" cy="48.7" rx="1.3" ry="1.2" transform="rotate(26 478.6 48.7)" fill="rgb(80, 42, 115)" opacity="0.85"/><ellipse cx="466.5" cy="47.9" rx="1.6" ry="1.2" transform="rotate(139 466.5 47.9)" fill="rgb(62, 30, 95)" opacity="0.85"/><ellipse cx="482.3" cy="77.3" rx="1.5" ry="1.5" transform="rotate(67 482.3 77.3)" fill="rgb(62, 30, 95)" opacity="0.85"/><ellipse cx="480.6" cy="75.5" rx="2.0" ry="1.9" transform="rotate(116 480.6 75.5)" fill="rgb(62, 30, 95)" opacity="0.85"/><ellipse cx="479.9" cy="64.4" rx="2.1" ry="1.3" transform="rotate(128 479.9 64.4)" fill="rgb(62, 30, 95)" opacity="0.85"/><ellipse cx="492.2" cy="51.3" rx="2.2" ry="1.2" transform="rotate(117 492.2 51.3)" fill="rgb(62, 30, 95)" opacity="0.85"/><ellipse cx="493.6" cy="61.7" rx="2.3" ry="1.9" transform="rotate(120 493.6 61.7)" fill="rgb(62, 30, 95)" opacity="0.85"/><ellipse cx="483.1" cy="73.4" rx="2.1" ry="1.1" transform="rotate(153 483.1 73.4)" fill="rgb(105, 62, 140)" opacity="0.85"/></g></g>
<rect x="450.2" y="38.1" width="44.30000000000001" height="40.99999999999999" fill="none" stroke="#000" stroke-width="1.3" />
<line x1="455.2" y1="73.6" x2="477.2" y2="73.6" stroke="#e8202a" stroke-width="1.2" />
<rect x="380.0" y="102.8" width="38.1" height="21.2" fill="#fff" stroke="none" stroke-width="1" />
<text x="388.1" y="116.4" font-size="10.2" text-anchor="start">H&amp;E</text>
<rect x="265.0" y="125.4" width="113.30000000000001" height="85.4" fill="#888" filter="url(#pnL)"/>
<rect x="265.0" y="125.4" width="113.30000000000001" height="85.4" fill="#888" filter="url(#pnLb)"/>
<rect x="265.0" y="125.4" width="113.30000000000001" height="85.4" fill="#888" filter="url(#pnW)"/>
<rect x="333.0" y="125.4" width="45.30000000000001" height="42.0" fill="#888" filter="url(#pnIb)"/>
<rect x="333.0" y="125.4" width="45.30000000000001" height="42.0" fill="#888" filter="url(#pnIc)"/>
<rect x="333.0" y="125.4" width="45.30000000000001" height="42.0" fill="#888" filter="url(#pnIn)"/>
<g clip-path="url(#cc3)"><g filter="url(#blur03)"><ellipse cx="363.7" cy="162.1" rx="1.3" ry="1.1" transform="rotate(78 363.7 162.1)" fill="rgb(135, 132, 162)" opacity="0.75"/><ellipse cx="338.7" cy="162.9" rx="1.8" ry="1.1" transform="rotate(131 338.7 162.9)" fill="rgb(150, 100, 70)" opacity="0.75"/><ellipse cx="379.1" cy="149.7" rx="1.2" ry="1.3" transform="rotate(139 379.1 149.7)" fill="rgb(150, 100, 70)" opacity="0.75"/><ellipse cx="356.5" cy="125.0" rx="1.5" ry="1.5" transform="rotate(134 356.5 125.0)" fill="rgb(135, 132, 162)" opacity="0.75"/><ellipse cx="338.8" cy="168.2" rx="1.2" ry="1.7" transform="rotate(150 338.8 168.2)" fill="rgb(115, 115, 150)" opacity="0.75"/><ellipse cx="341.0" cy="143.5" rx="1.7" ry="1.0" transform="rotate(154 341.0 143.5)" fill="rgb(115, 115, 150)" opacity="0.75"/><ellipse cx="335.0" cy="126.7" rx="1.7" ry="1.4" transform="rotate(51 335.0 126.7)" fill="rgb(135, 132, 162)" opacity="0.75"/><ellipse cx="342.8" cy="127.2" rx="1.6" ry="1.4" transform="rotate(43 342.8 127.2)" fill="rgb(135, 132, 162)" opacity="0.75"/><ellipse cx="348.1" cy="138.5" rx="1.6" ry="1.5" transform="rotate(86 348.1 138.5)" fill="rgb(120, 80, 60)" opacity="0.75"/><ellipse cx="333.9" cy="132.3" rx="1.6" ry="1.5" transform="rotate(153 333.9 132.3)" fill="rgb(150, 100, 70)" opacity="0.75"/><ellipse cx="333.2" cy="126.4" rx="1.6" ry="1.1" transform="rotate(156 333.2 126.4)" fill="rgb(135, 132, 162)" opacity="0.75"/><ellipse cx="374.4" cy="126.6" rx="1.9" ry="1.3" transform="rotate(80 374.4 126.6)" fill="rgb(150, 100, 70)" opacity="0.75"/><ellipse cx="333.7" cy="156.5" rx="1.2" ry="1.0" transform="rotate(121 333.7 156.5)" fill="rgb(115, 115, 150)" opacity="0.75"/><ellipse cx="361.3" cy="147.5" rx="1.6" ry="1.5" transform="rotate(127 361.3 147.5)" fill="rgb(135, 132, 162)" opacity="0.75"/><ellipse cx="333.1" cy="135.0" rx="1.3" ry="1.4" transform="rotate(143 333.1 135.0)" fill="rgb(150, 100, 70)" opacity="0.75"/><ellipse cx="361.4" cy="133.8" rx="1.3" ry="1.2" transform="rotate(23 361.4 133.8)" fill="rgb(115, 115, 150)" opacity="0.75"/><ellipse cx="361.8" cy="152.1" rx="1.4" ry="1.1" transform="rotate(43 361.8 152.1)" fill="rgb(120, 80, 60)" opacity="0.75"/><ellipse cx="358.8" cy="160.1" rx="1.8" ry="1.1" transform="rotate(106 358.8 160.1)" fill="rgb(135, 132, 162)" opacity="0.75"/><ellipse cx="336.4" cy="167.0" rx="1.8" ry="1.5" transform="rotate(126 336.4 167.0)" fill="rgb(150, 100, 70)" opacity="0.75"/><ellipse cx="374.2" cy="150.1" rx="1.5" ry="1.4" transform="rotate(69 374.2 150.1)" fill="rgb(135, 132, 162)" opacity="0.75"/><ellipse cx="357.8" cy="142.0" rx="1.7" ry="1.3" transform="rotate(61 357.8 142.0)" fill="rgb(120, 80, 60)" opacity="0.75"/><ellipse cx="360.3" cy="145.5" rx="1.6" ry="1.6" transform="rotate(48 360.3 145.5)" fill="rgb(150, 100, 70)" opacity="0.75"/><ellipse cx="334.1" cy="163.6" rx="1.7" ry="1.3" transform="rotate(15 334.1 163.6)" fill="rgb(120, 80, 60)" opacity="0.75"/><ellipse cx="367.1" cy="139.9" rx="1.2" ry="1.3" transform="rotate(118 367.1 139.9)" fill="rgb(120, 80, 60)" opacity="0.75"/><ellipse cx="374.8" cy="142.0" rx="1.6" ry="1.1" transform="rotate(93 374.8 142.0)" fill="rgb(150, 100, 70)" opacity="0.75"/><ellipse cx="377.6" cy="145.9" rx="1.6" ry="1.3" transform="rotate(101 377.6 145.9)" fill="rgb(120, 80, 60)" opacity="0.75"/><ellipse cx="365.9" cy="166.7" rx="1.4" ry="1.3" transform="rotate(173 365.9 166.7)" fill="rgb(115, 115, 150)" opacity="0.75"/><ellipse cx="339.6" cy="162.8" rx="1.2" ry="1.5" transform="rotate(96 339.6 162.8)" fill="rgb(115, 115, 150)" opacity="0.75"/><ellipse cx="355.4" cy="138.2" rx="1.3" ry="1.5" transform="rotate(98 355.4 138.2)" fill="rgb(135, 132, 162)" opacity="0.75"/><ellipse cx="376.2" cy="152.4" rx="1.7" ry="1.3" transform="rotate(34 376.2 152.4)" fill="rgb(120, 80, 60)" opacity="0.75"/><ellipse cx="338.3" cy="167.0" rx="1.5" ry="1.1" transform="rotate(77 338.3 167.0)" fill="rgb(120, 80, 60)" opacity="0.75"/><ellipse cx="362.8" cy="127.9" rx="1.2" ry="1.2" transform="rotate(48 362.8 127.9)" fill="rgb(150, 100, 70)" opacity="0.75"/><ellipse cx="366.3" cy="127.1" rx="1.8" ry="1.4" transform="rotate(73 366.3 127.1)" fill="rgb(135, 132, 162)" opacity="0.75"/><ellipse cx="363.8" cy="148.7" rx="1.5" ry="1.3" transform="rotate(109 363.8 148.7)" fill="rgb(135, 132, 162)" opacity="0.75"/><ellipse cx="341.0" cy="163.9" rx="1.5" ry="1.4" transform="rotate(84 341.0 163.9)" fill="rgb(115, 115, 150)" opacity="0.75"/><ellipse cx="370.3" cy="161.2" rx="1.3" ry="1.4" transform="rotate(166 370.3 161.2)" fill="rgb(135, 132, 162)" opacity="0.75"/><ellipse cx="376.4" cy="168.1" rx="1.8" ry="1.4" transform="rotate(161 376.4 168.1)" fill="rgb(150, 100, 70)" opacity="0.75"/><ellipse cx="349.9" cy="148.0" rx="1.3" ry="1.7" transform="rotate(155 349.9 148.0)" fill="rgb(150, 100, 70)" opacity="0.75"/><ellipse cx="360.5" cy="144.4" rx="1.4" ry="1.5" transform="rotate(66 360.5 144.4)" fill="rgb(150, 100, 70)" opacity="0.75"/><ellipse cx="379.0" cy="160.0" rx="1.5" ry="1.7" transform="rotate(106 379.0 160.0)" fill="rgb(120, 80, 60)" opacity="0.75"/><ellipse cx="369.5" cy="165.3" rx="1.6" ry="1.2" transform="rotate(137 369.5 165.3)" fill="rgb(120, 80, 60)" opacity="0.75"/><ellipse cx="371.4" cy="137.0" rx="1.8" ry="1.6" transform="rotate(176 371.4 137.0)" fill="rgb(115, 115, 150)" opacity="0.75"/><ellipse cx="366.6" cy="144.3" rx="1.4" ry="1.2" transform="rotate(159 366.6 144.3)" fill="rgb(115, 115, 150)" opacity="0.75"/><ellipse cx="360.7" cy="158.1" rx="1.5" ry="1.6" transform="rotate(34 360.7 158.1)" fill="rgb(115, 115, 150)" opacity="0.75"/><ellipse cx="361.0" cy="155.9" rx="1.4" ry="1.4" transform="rotate(7 361.0 155.9)" fill="rgb(120, 80, 60)" opacity="0.75"/><ellipse cx="374.0" cy="157.1" rx="1.4" ry="1.0" transform="rotate(166 374.0 157.1)" fill="rgb(115, 115, 150)" opacity="0.75"/><ellipse cx="334.6" cy="142.5" rx="1.1" ry="1.7" transform="rotate(47 334.6 142.5)" fill="rgb(150, 100, 70)" opacity="0.75"/><ellipse cx="334.6" cy="137.5" rx="1.1" ry="1.2" transform="rotate(165 334.6 137.5)" fill="rgb(115, 115, 150)" opacity="0.75"/><ellipse cx="354.7" cy="164.8" rx="1.1" ry="1.7" transform="rotate(45 354.7 164.8)" fill="rgb(120, 80, 60)" opacity="0.75"/><ellipse cx="374.7" cy="151.4" rx="1.5" ry="1.6" transform="rotate(145 374.7 151.4)" fill="rgb(135, 132, 162)" opacity="0.75"/><ellipse cx="371.1" cy="162.3" rx="1.5" ry="1.2" transform="rotate(95 371.1 162.3)" fill="rgb(115, 115, 150)" opacity="0.75"/><ellipse cx="332.6" cy="145.6" rx="1.4" ry="1.7" transform="rotate(43 332.6 145.6)" fill="rgb(150, 100, 70)" opacity="0.75"/><ellipse cx="357.0" cy="139.7" rx="1.2" ry="1.1" transform="rotate(144 357.0 139.7)" fill="rgb(115, 115, 150)" opacity="0.75"/><ellipse cx="370.0" cy="166.6" rx="1.5" ry="1.2" transform="rotate(138 370.0 166.6)" fill="rgb(135, 132, 162)" opacity="0.75"/><ellipse cx="341.6" cy="153.6" rx="1.8" ry="1.3" transform="rotate(152 341.6 153.6)" fill="rgb(115, 115, 150)" opacity="0.75"/><ellipse cx="342.6" cy="166.7" rx="1.7" ry="1.3" transform="rotate(143 342.6 166.7)" fill="rgb(150, 100, 70)" opacity="0.75"/><ellipse cx="336.7" cy="150.7" rx="1.6" ry="1.1" transform="rotate(158 336.7 150.7)" fill="rgb(120, 80, 60)" opacity="0.75"/><ellipse cx="361.5" cy="157.3" rx="1.5" ry="1.2" transform="rotate(146 361.5 157.3)" fill="rgb(115, 115, 150)" opacity="0.75"/><ellipse cx="358.4" cy="126.0" rx="1.8" ry="1.3" transform="rotate(127 358.4 126.0)" fill="rgb(135, 132, 162)" opacity="0.75"/><ellipse cx="344.3" cy="138.7" rx="1.8" ry="1.1" transform="rotate(135 344.3 138.7)" fill="rgb(135, 132, 162)" opacity="0.75"/><ellipse cx="366.5" cy="145.9" rx="1.7" ry="1.3" transform="rotate(77 366.5 145.9)" fill="rgb(150, 100, 70)" opacity="0.75"/><ellipse cx="340.9" cy="129.7" rx="1.6" ry="1.0" transform="rotate(51 340.9 129.7)" fill="rgb(150, 100, 70)" opacity="0.75"/><ellipse cx="355.3" cy="142.5" rx="1.6" ry="1.3" transform="rotate(166 355.3 142.5)" fill="rgb(150, 100, 70)" opacity="0.75"/><ellipse cx="374.9" cy="151.0" rx="1.8" ry="1.6" transform="rotate(150 374.9 151.0)" fill="rgb(135, 132, 162)" opacity="0.75"/><ellipse cx="371.3" cy="138.3" rx="1.8" ry="1.5" transform="rotate(58 371.3 138.3)" fill="rgb(115, 115, 150)" opacity="0.75"/><ellipse cx="374.7" cy="144.5" rx="1.7" ry="1.6" transform="rotate(91 374.7 144.5)" fill="rgb(120, 80, 60)" opacity="0.75"/><ellipse cx="340.4" cy="143.8" rx="1.6" ry="1.7" transform="rotate(32 340.4 143.8)" fill="rgb(135, 132, 162)" opacity="0.75"/><ellipse cx="346.7" cy="166.9" rx="1.7" ry="1.0" transform="rotate(146 346.7 166.9)" fill="rgb(120, 80, 60)" opacity="0.75"/><ellipse cx="351.8" cy="148.8" rx="1.4" ry="1.2" transform="rotate(170 351.8 148.8)" fill="rgb(150, 100, 70)" opacity="0.75"/><ellipse cx="338.1" cy="160.8" rx="1.1" ry="1.3" transform="rotate(133 338.1 160.8)" fill="rgb(115, 115, 150)" opacity="0.75"/><ellipse cx="354.6" cy="162.3" rx="1.1" ry="1.5" transform="rotate(114 354.6 162.3)" fill="rgb(150, 100, 70)" opacity="0.75"/><ellipse cx="365.8" cy="137.5" rx="1.2" ry="1.2" transform="rotate(32 365.8 137.5)" fill="rgb(150, 100, 70)" opacity="0.75"/><ellipse cx="344.2" cy="158.8" rx="1.8" ry="1.1" transform="rotate(121 344.2 158.8)" fill="rgb(135, 132, 162)" opacity="0.75"/><ellipse cx="350.6" cy="135.4" rx="1.6" ry="1.3" transform="rotate(62 350.6 135.4)" fill="rgb(150, 100, 70)" opacity="0.75"/><ellipse cx="355.4" cy="141.7" rx="1.3" ry="1.5" transform="rotate(131 355.4 141.7)" fill="rgb(120, 80, 60)" opacity="0.75"/><ellipse cx="352.0" cy="152.3" rx="1.7" ry="1.6" transform="rotate(11 352.0 152.3)" fill="rgb(120, 80, 60)" opacity="0.75"/><ellipse cx="377.3" cy="124.6" rx="1.2" ry="1.5" transform="rotate(27 377.3 124.6)" fill="rgb(135, 132, 162)" opacity="0.75"/><ellipse cx="378.3" cy="129.6" rx="1.5" ry="1.1" transform="rotate(178 378.3 129.6)" fill="rgb(120, 80, 60)" opacity="0.75"/><ellipse cx="360.9" cy="133.0" rx="1.1" ry="1.3" transform="rotate(175 360.9 133.0)" fill="rgb(135, 132, 162)" opacity="0.75"/><ellipse cx="336.7" cy="132.8" rx="1.9" ry="1.2" transform="rotate(25 336.7 132.8)" fill="rgb(135, 132, 162)" opacity="0.75"/><ellipse cx="369.4" cy="149.5" rx="1.1" ry="1.1" transform="rotate(130 369.4 149.5)" fill="rgb(150, 100, 70)" opacity="0.75"/><ellipse cx="338.2" cy="125.5" rx="1.3" ry="1.2" transform="rotate(47 338.2 125.5)" fill="rgb(120, 80, 60)" opacity="0.75"/><ellipse cx="337.9" cy="158.0" rx="1.4" ry="1.3" transform="rotate(24 337.9 158.0)" fill="rgb(120, 80, 60)" opacity="0.75"/><ellipse cx="366.9" cy="155.2" rx="1.6" ry="1.3" transform="rotate(172 366.9 155.2)" fill="rgb(135, 132, 162)" opacity="0.75"/><ellipse cx="377.5" cy="130.3" rx="1.3" ry="1.2" transform="rotate(63 377.5 130.3)" fill="rgb(115, 115, 150)" opacity="0.75"/><ellipse cx="357.1" cy="125.3" rx="1.1" ry="1.4" transform="rotate(132 357.1 125.3)" fill="rgb(150, 100, 70)" opacity="0.75"/><ellipse cx="343.2" cy="162.6" rx="1.4" ry="1.5" transform="rotate(148 343.2 162.6)" fill="rgb(115, 115, 150)" opacity="0.75"/><ellipse cx="352.1" cy="148.6" rx="1.3" ry="1.1" transform="rotate(103 352.1 148.6)" fill="rgb(150, 100, 70)" opacity="0.75"/><ellipse cx="361.3" cy="167.3" rx="1.7" ry="1.4" transform="rotate(26 361.3 167.3)" fill="rgb(150, 100, 70)" opacity="0.75"/><ellipse cx="348.3" cy="143.7" rx="1.6" ry="1.4" transform="rotate(139 348.3 143.7)" fill="rgb(120, 80, 60)" opacity="0.75"/><ellipse cx="350.5" cy="165.0" rx="1.7" ry="1.6" transform="rotate(99 350.5 165.0)" fill="rgb(135, 132, 162)" opacity="0.75"/><ellipse cx="376.1" cy="147.6" rx="1.6" ry="1.3" transform="rotate(70 376.1 147.6)" fill="rgb(120, 80, 60)" opacity="0.75"/><ellipse cx="351.0" cy="165.2" rx="1.9" ry="1.5" transform="rotate(23 351.0 165.2)" fill="rgb(135, 132, 162)" opacity="0.75"/><ellipse cx="367.9" cy="157.7" rx="1.4" ry="1.4" transform="rotate(83 367.9 157.7)" fill="rgb(135, 132, 162)" opacity="0.75"/><ellipse cx="367.9" cy="134.0" rx="1.5" ry="1.0" transform="rotate(80 367.9 134.0)" fill="rgb(120, 80, 60)" opacity="0.75"/><ellipse cx="364.5" cy="130.2" rx="1.5" ry="1.3" transform="rotate(29 364.5 130.2)" fill="rgb(115, 115, 150)" opacity="0.75"/><ellipse cx="378.1" cy="138.2" rx="1.4" ry="1.6" transform="rotate(63 378.1 138.2)" fill="rgb(135, 132, 162)" opacity="0.75"/><ellipse cx="342.7" cy="127.5" rx="1.8" ry="1.4" transform="rotate(141 342.7 127.5)" fill="rgb(115, 115, 150)" opacity="0.75"/><ellipse cx="367.2" cy="130.6" rx="1.9" ry="1.3" transform="rotate(157 367.2 130.6)" fill="rgb(150, 100, 70)" opacity="0.75"/><ellipse cx="365.7" cy="146.5" rx="1.8" ry="1.3" transform="rotate(74 365.7 146.5)" fill="rgb(120, 80, 60)" opacity="0.75"/><ellipse cx="376.7" cy="136.2" rx="1.1" ry="1.3" transform="rotate(26 376.7 136.2)" fill="rgb(150, 100, 70)" opacity="0.75"/><ellipse cx="340.8" cy="132.3" rx="1.4" ry="1.1" transform="rotate(113 340.8 132.3)" fill="rgb(115, 115, 150)" opacity="0.75"/><ellipse cx="344.4" cy="126.2" rx="1.1" ry="1.6" transform="rotate(108 344.4 126.2)" fill="rgb(115, 115, 150)" opacity="0.75"/><ellipse cx="368.6" cy="160.8" rx="1.3" ry="1.4" transform="rotate(106 368.6 160.8)" fill="rgb(135, 132, 162)" opacity="0.75"/><ellipse cx="346.8" cy="150.6" rx="1.5" ry="1.2" transform="rotate(137 346.8 150.6)" fill="rgb(135, 132, 162)" opacity="0.75"/><ellipse cx="337.1" cy="163.3" rx="1.6" ry="1.0" transform="rotate(115 337.1 163.3)" fill="rgb(150, 100, 70)" opacity="0.75"/><ellipse cx="364.2" cy="137.8" rx="1.4" ry="1.3" transform="rotate(165 364.2 137.8)" fill="rgb(135, 132, 162)" opacity="0.75"/><ellipse cx="347.3" cy="160.8" rx="1.4" ry="1.6" transform="rotate(100 347.3 160.8)" fill="rgb(135, 132, 162)" opacity="0.75"/><ellipse cx="337.7" cy="148.0" rx="1.2" ry="1.3" transform="rotate(118 337.7 148.0)" fill="rgb(115, 115, 150)" opacity="0.75"/><ellipse cx="352.1" cy="151.1" rx="1.4" ry="1.6" transform="rotate(20 352.1 151.1)" fill="rgb(150, 100, 70)" opacity="0.75"/><ellipse cx="378.2" cy="166.9" rx="1.9" ry="1.4" transform="rotate(127 378.2 166.9)" fill="rgb(120, 80, 60)" opacity="0.75"/><ellipse cx="346.2" cy="138.9" rx="1.4" ry="1.5" transform="rotate(50 346.2 138.9)" fill="rgb(120, 80, 60)" opacity="0.75"/><ellipse cx="339.2" cy="145.0" rx="1.3" ry="1.3" transform="rotate(14 339.2 145.0)" fill="rgb(120, 80, 60)" opacity="0.75"/><ellipse cx="359.7" cy="140.9" rx="1.7" ry="1.4" transform="rotate(85 359.7 140.9)" fill="rgb(135, 132, 162)" opacity="0.75"/><ellipse cx="362.4" cy="157.5" rx="1.5" ry="1.7" transform="rotate(93 362.4 157.5)" fill="rgb(135, 132, 162)" opacity="0.75"/><ellipse cx="336.0" cy="160.2" rx="1.5" ry="1.6" transform="rotate(50 336.0 160.2)" fill="rgb(150, 100, 70)" opacity="0.75"/><ellipse cx="341.4" cy="148.2" rx="1.4" ry="1.4" transform="rotate(2 341.4 148.2)" fill="rgb(115, 115, 150)" opacity="0.75"/><ellipse cx="376.1" cy="153.1" rx="1.7" ry="1.6" transform="rotate(73 376.1 153.1)" fill="rgb(135, 132, 162)" opacity="0.75"/><ellipse cx="360.1" cy="136.4" rx="1.3" ry="1.6" transform="rotate(79 360.1 136.4)" fill="rgb(120, 80, 60)" opacity="0.75"/><ellipse cx="372.5" cy="166.7" rx="1.1" ry="1.3" transform="rotate(30 372.5 166.7)" fill="rgb(150, 100, 70)" opacity="0.75"/></g></g>
<rect x="333.5" y="125.9" width="44.30000000000001" height="41.0" fill="none" stroke="#000" stroke-width="1.3" />
<line x1="338.5" y1="161.4" x2="360.5" y2="161.4" stroke="#e8202a" stroke-width="1.2" />
<rect x="264.5" y="190.60000000000002" width="37.8" height="21.2" fill="#fff" stroke="none" stroke-width="1" />
<text x="272.6" y="204.20000000000002" font-size="10.2" text-anchor="start">PNA</text>
<rect x="380.5" y="125.4" width="114.5" height="85.4" fill="#888" filter="url(#pnR)"/>
<rect x="380.5" y="125.4" width="114.5" height="85.4" fill="#888" filter="url(#pnRb)"/>
<rect x="380.5" y="125.4" width="114.5" height="85.4" fill="#888" filter="url(#pnW)"/>
<rect x="449.7" y="125.4" width="45.30000000000001" height="42.0" fill="#888" filter="url(#pnIb)"/>
<rect x="449.7" y="125.4" width="45.30000000000001" height="42.0" fill="#888" filter="url(#pnIc)"/>
<rect x="449.7" y="125.4" width="45.30000000000001" height="42.0" fill="#888" filter="url(#pnIn)"/>
<g clip-path="url(#cc4)"><g filter="url(#blur03)"><ellipse cx="466.1" cy="125.8" rx="1.2" ry="1.3" transform="rotate(141 466.1 125.8)" fill="rgb(120, 80, 60)" opacity="0.75"/><ellipse cx="493.7" cy="135.8" rx="1.2" ry="1.5" transform="rotate(147 493.7 135.8)" fill="rgb(120, 80, 60)" opacity="0.75"/><ellipse cx="492.3" cy="168.2" rx="1.4" ry="1.1" transform="rotate(148 492.3 168.2)" fill="rgb(150, 100, 70)" opacity="0.75"/><ellipse cx="471.3" cy="125.3" rx="1.8" ry="1.6" transform="rotate(96 471.3 125.3)" fill="rgb(150, 100, 70)" opacity="0.75"/><ellipse cx="473.8" cy="131.7" rx="1.7" ry="1.1" transform="rotate(168 473.8 131.7)" fill="rgb(135, 132, 162)" opacity="0.75"/><ellipse cx="460.8" cy="145.2" rx="1.7" ry="1.3" transform="rotate(130 460.8 145.2)" fill="rgb(135, 132, 162)" opacity="0.75"/><ellipse cx="468.1" cy="135.6" rx="1.2" ry="1.4" transform="rotate(154 468.1 135.6)" fill="rgb(120, 80, 60)" opacity="0.75"/><ellipse cx="468.9" cy="132.2" rx="1.4" ry="1.1" transform="rotate(66 468.9 132.2)" fill="rgb(115, 115, 150)" opacity="0.75"/><ellipse cx="457.7" cy="147.7" rx="1.3" ry="1.1" transform="rotate(161 457.7 147.7)" fill="rgb(115, 115, 150)" opacity="0.75"/><ellipse cx="460.9" cy="165.5" rx="1.3" ry="1.5" transform="rotate(31 460.9 165.5)" fill="rgb(135, 132, 162)" opacity="0.75"/><ellipse cx="471.7" cy="143.9" rx="1.3" ry="1.2" transform="rotate(60 471.7 143.9)" fill="rgb(120, 80, 60)" opacity="0.75"/><ellipse cx="450.1" cy="146.1" rx="1.7" ry="1.1" transform="rotate(130 450.1 146.1)" fill="rgb(115, 115, 150)" opacity="0.75"/><ellipse cx="478.1" cy="136.4" rx="1.7" ry="1.4" transform="rotate(103 478.1 136.4)" fill="rgb(120, 80, 60)" opacity="0.75"/><ellipse cx="463.7" cy="148.9" rx="1.3" ry="1.1" transform="rotate(132 463.7 148.9)" fill="rgb(120, 80, 60)" opacity="0.75"/><ellipse cx="479.4" cy="160.7" rx="1.5" ry="1.1" transform="rotate(83 479.4 160.7)" fill="rgb(135, 132, 162)" opacity="0.75"/><ellipse cx="450.6" cy="153.5" rx="1.8" ry="1.1" transform="rotate(75 450.6 153.5)" fill="rgb(115, 115, 150)" opacity="0.75"/><ellipse cx="465.7" cy="166.3" rx="1.3" ry="1.1" transform="rotate(112 465.7 166.3)" fill="rgb(120, 80, 60)" opacity="0.75"/><ellipse cx="475.5" cy="147.1" rx="1.8" ry="1.0" transform="rotate(34 475.5 147.1)" fill="rgb(150, 100, 70)" opacity="0.75"/><ellipse cx="462.7" cy="152.8" rx="1.1" ry="1.4" transform="rotate(93 462.7 152.8)" fill="rgb(120, 80, 60)" opacity="0.75"/><ellipse cx="483.6" cy="126.4" rx="1.8" ry="1.4" transform="rotate(125 483.6 126.4)" fill="rgb(150, 100, 70)" opacity="0.75"/><ellipse cx="483.4" cy="140.7" rx="1.6" ry="1.2" transform="rotate(146 483.4 140.7)" fill="rgb(135, 132, 162)" opacity="0.75"/><ellipse cx="487.0" cy="152.4" rx="1.4" ry="1.0" transform="rotate(121 487.0 152.4)" fill="rgb(135, 132, 162)" opacity="0.75"/><ellipse cx="490.2" cy="158.3" rx="1.5" ry="1.4" transform="rotate(151 490.2 158.3)" fill="rgb(150, 100, 70)" opacity="0.75"/><ellipse cx="453.2" cy="156.0" rx="1.9" ry="1.3" transform="rotate(84 453.2 156.0)" fill="rgb(150, 100, 70)" opacity="0.75"/><ellipse cx="467.1" cy="132.2" rx="1.8" ry="1.1" transform="rotate(123 467.1 132.2)" fill="rgb(115, 115, 150)" opacity="0.75"/><ellipse cx="451.6" cy="150.1" rx="1.7" ry="1.7" transform="rotate(50 451.6 150.1)" fill="rgb(115, 115, 150)" opacity="0.75"/><ellipse cx="471.9" cy="165.9" rx="1.9" ry="1.2" transform="rotate(175 471.9 165.9)" fill="rgb(115, 115, 150)" opacity="0.75"/><ellipse cx="449.1" cy="154.3" rx="1.9" ry="1.2" transform="rotate(145 449.1 154.3)" fill="rgb(115, 115, 150)" opacity="0.75"/><ellipse cx="470.2" cy="137.2" rx="1.9" ry="1.3" transform="rotate(162 470.2 137.2)" fill="rgb(115, 115, 150)" opacity="0.75"/><ellipse cx="469.3" cy="156.7" rx="1.2" ry="1.5" transform="rotate(16 469.3 156.7)" fill="rgb(120, 80, 60)" opacity="0.75"/><ellipse cx="485.6" cy="158.1" rx="1.2" ry="1.5" transform="rotate(85 485.6 158.1)" fill="rgb(115, 115, 150)" opacity="0.75"/><ellipse cx="466.9" cy="134.5" rx="1.6" ry="1.1" transform="rotate(161 466.9 134.5)" fill="rgb(115, 115, 150)" opacity="0.75"/><ellipse cx="461.3" cy="143.3" rx="1.3" ry="1.5" transform="rotate(144 461.3 143.3)" fill="rgb(135, 132, 162)" opacity="0.75"/><ellipse cx="458.8" cy="165.6" rx="1.3" ry="1.2" transform="rotate(127 458.8 165.6)" fill="rgb(150, 100, 70)" opacity="0.75"/><ellipse cx="495.5" cy="159.7" rx="1.7" ry="1.5" transform="rotate(115 495.5 159.7)" fill="rgb(120, 80, 60)" opacity="0.75"/><ellipse cx="462.4" cy="161.6" rx="1.4" ry="1.0" transform="rotate(134 462.4 161.6)" fill="rgb(115, 115, 150)" opacity="0.75"/><ellipse cx="453.5" cy="137.9" rx="1.9" ry="1.6" transform="rotate(162 453.5 137.9)" fill="rgb(120, 80, 60)" opacity="0.75"/><ellipse cx="481.9" cy="164.9" rx="1.1" ry="1.3" transform="rotate(32 481.9 164.9)" fill="rgb(120, 80, 60)" opacity="0.75"/><ellipse cx="482.6" cy="144.1" rx="1.6" ry="1.3" transform="rotate(174 482.6 144.1)" fill="rgb(135, 132, 162)" opacity="0.75"/><ellipse cx="459.9" cy="159.8" rx="1.5" ry="1.3" transform="rotate(116 459.9 159.8)" fill="rgb(150, 100, 70)" opacity="0.75"/><ellipse cx="462.0" cy="153.7" rx="1.7" ry="1.5" transform="rotate(156 462.0 153.7)" fill="rgb(135, 132, 162)" opacity="0.75"/><ellipse cx="481.9" cy="126.4" rx="1.2" ry="1.5" transform="rotate(177 481.9 126.4)" fill="rgb(150, 100, 70)" opacity="0.75"/><ellipse cx="489.9" cy="132.1" rx="1.6" ry="1.5" transform="rotate(119 489.9 132.1)" fill="rgb(150, 100, 70)" opacity="0.75"/><ellipse cx="490.0" cy="136.0" rx="1.3" ry="1.5" transform="rotate(83 490.0 136.0)" fill="rgb(115, 115, 150)" opacity="0.75"/><ellipse cx="486.5" cy="156.6" rx="1.7" ry="1.3" transform="rotate(47 486.5 156.6)" fill="rgb(135, 132, 162)" opacity="0.75"/><ellipse cx="486.7" cy="164.4" rx="1.6" ry="1.7" transform="rotate(4 486.7 164.4)" fill="rgb(115, 115, 150)" opacity="0.75"/><ellipse cx="460.5" cy="129.8" rx="1.2" ry="1.2" transform="rotate(81 460.5 129.8)" fill="rgb(150, 100, 70)" opacity="0.75"/><ellipse cx="491.1" cy="145.7" rx="1.9" ry="1.2" transform="rotate(168 491.1 145.7)" fill="rgb(120, 80, 60)" opacity="0.75"/><ellipse cx="483.7" cy="126.0" rx="1.2" ry="1.6" transform="rotate(65 483.7 126.0)" fill="rgb(150, 100, 70)" opacity="0.75"/><ellipse cx="449.5" cy="128.5" rx="1.5" ry="1.3" transform="rotate(101 449.5 128.5)" fill="rgb(150, 100, 70)" opacity="0.75"/><ellipse cx="468.3" cy="127.5" rx="1.4" ry="1.6" transform="rotate(75 468.3 127.5)" fill="rgb(135, 132, 162)" opacity="0.75"/><ellipse cx="483.6" cy="133.5" rx="1.4" ry="1.5" transform="rotate(137 483.6 133.5)" fill="rgb(115, 115, 150)" opacity="0.75"/><ellipse cx="484.0" cy="160.5" rx="1.5" ry="1.2" transform="rotate(180 484.0 160.5)" fill="rgb(135, 132, 162)" opacity="0.75"/><ellipse cx="465.5" cy="158.4" rx="1.7" ry="1.0" transform="rotate(99 465.5 158.4)" fill="rgb(120, 80, 60)" opacity="0.75"/><ellipse cx="453.0" cy="163.0" rx="1.3" ry="1.0" transform="rotate(49 453.0 163.0)" fill="rgb(135, 132, 162)" opacity="0.75"/><ellipse cx="465.5" cy="154.2" rx="1.7" ry="1.4" transform="rotate(93 465.5 154.2)" fill="rgb(135, 132, 162)" opacity="0.75"/><ellipse cx="491.4" cy="140.1" rx="1.5" ry="1.4" transform="rotate(33 491.4 140.1)" fill="rgb(150, 100, 70)" opacity="0.75"/><ellipse cx="472.1" cy="128.5" rx="1.3" ry="1.3" transform="rotate(179 472.1 128.5)" fill="rgb(120, 80, 60)" opacity="0.75"/><ellipse cx="490.1" cy="136.2" rx="1.8" ry="1.4" transform="rotate(3 490.1 136.2)" fill="rgb(115, 115, 150)" opacity="0.75"/><ellipse cx="457.4" cy="127.5" rx="1.8" ry="1.0" transform="rotate(146 457.4 127.5)" fill="rgb(120, 80, 60)" opacity="0.75"/><ellipse cx="453.2" cy="129.1" rx="1.6" ry="1.5" transform="rotate(97 453.2 129.1)" fill="rgb(135, 132, 162)" opacity="0.75"/><ellipse cx="458.2" cy="129.3" rx="1.5" ry="1.6" transform="rotate(28 458.2 129.3)" fill="rgb(135, 132, 162)" opacity="0.75"/><ellipse cx="465.9" cy="150.1" rx="1.6" ry="1.6" transform="rotate(60 465.9 150.1)" fill="rgb(150, 100, 70)" opacity="0.75"/><ellipse cx="492.0" cy="131.7" rx="1.7" ry="1.6" transform="rotate(17 492.0 131.7)" fill="rgb(135, 132, 162)" opacity="0.75"/><ellipse cx="489.6" cy="142.8" rx="1.9" ry="1.2" transform="rotate(141 489.6 142.8)" fill="rgb(120, 80, 60)" opacity="0.75"/><ellipse cx="477.3" cy="164.3" rx="1.8" ry="1.2" transform="rotate(105 477.3 164.3)" fill="rgb(120, 80, 60)" opacity="0.75"/><ellipse cx="460.1" cy="151.0" rx="1.5" ry="1.3" transform="rotate(3 460.1 151.0)" fill="rgb(135, 132, 162)" opacity="0.75"/><ellipse cx="466.2" cy="133.5" rx="1.5" ry="1.3" transform="rotate(47 466.2 133.5)" fill="rgb(120, 80, 60)" opacity="0.75"/><ellipse cx="459.2" cy="158.5" rx="1.3" ry="1.1" transform="rotate(111 459.2 158.5)" fill="rgb(115, 115, 150)" opacity="0.75"/><ellipse cx="450.9" cy="167.1" rx="1.7" ry="1.7" transform="rotate(116 450.9 167.1)" fill="rgb(135, 132, 162)" opacity="0.75"/><ellipse cx="493.2" cy="158.6" rx="1.5" ry="1.1" transform="rotate(39 493.2 158.6)" fill="rgb(115, 115, 150)" opacity="0.75"/><ellipse cx="469.6" cy="130.9" rx="1.8" ry="1.6" transform="rotate(118 469.6 130.9)" fill="rgb(135, 132, 162)" opacity="0.75"/><ellipse cx="459.6" cy="153.2" rx="1.5" ry="1.5" transform="rotate(133 459.6 153.2)" fill="rgb(120, 80, 60)" opacity="0.75"/><ellipse cx="478.6" cy="124.7" rx="1.7" ry="1.5" transform="rotate(81 478.6 124.7)" fill="rgb(120, 80, 60)" opacity="0.75"/><ellipse cx="458.6" cy="133.7" rx="1.7" ry="1.0" transform="rotate(42 458.6 133.7)" fill="rgb(115, 115, 150)" opacity="0.75"/><ellipse cx="458.4" cy="129.8" rx="1.6" ry="1.5" transform="rotate(148 458.4 129.8)" fill="rgb(120, 80, 60)" opacity="0.75"/><ellipse cx="492.1" cy="165.8" rx="1.5" ry="1.3" transform="rotate(141 492.1 165.8)" fill="rgb(115, 115, 150)" opacity="0.75"/><ellipse cx="493.3" cy="164.4" rx="1.7" ry="1.2" transform="rotate(115 493.3 164.4)" fill="rgb(135, 132, 162)" opacity="0.75"/><ellipse cx="457.2" cy="167.7" rx="1.9" ry="1.3" transform="rotate(160 457.2 167.7)" fill="rgb(135, 132, 162)" opacity="0.75"/><ellipse cx="490.8" cy="141.2" rx="1.9" ry="1.4" transform="rotate(110 490.8 141.2)" fill="rgb(120, 80, 60)" opacity="0.75"/><ellipse cx="453.9" cy="155.2" rx="1.7" ry="1.7" transform="rotate(121 453.9 155.2)" fill="rgb(120, 80, 60)" opacity="0.75"/><ellipse cx="464.3" cy="145.6" rx="1.4" ry="1.6" transform="rotate(172 464.3 145.6)" fill="rgb(150, 100, 70)" opacity="0.75"/><ellipse cx="463.0" cy="143.6" rx="1.8" ry="1.4" transform="rotate(101 463.0 143.6)" fill="rgb(120, 80, 60)" opacity="0.75"/><ellipse cx="470.8" cy="151.2" rx="1.8" ry="1.4" transform="rotate(135 470.8 151.2)" fill="rgb(135, 132, 162)" opacity="0.75"/><ellipse cx="488.4" cy="154.1" rx="1.5" ry="1.4" transform="rotate(14 488.4 154.1)" fill="rgb(135, 132, 162)" opacity="0.75"/><ellipse cx="449.9" cy="152.2" rx="1.8" ry="1.7" transform="rotate(92 449.9 152.2)" fill="rgb(115, 115, 150)" opacity="0.75"/><ellipse cx="473.3" cy="163.8" rx="1.3" ry="1.4" transform="rotate(24 473.3 163.8)" fill="rgb(135, 132, 162)" opacity="0.75"/><ellipse cx="460.5" cy="128.7" rx="1.3" ry="1.2" transform="rotate(105 460.5 128.7)" fill="rgb(120, 80, 60)" opacity="0.75"/><ellipse cx="481.8" cy="127.9" rx="1.7" ry="1.6" transform="rotate(68 481.8 127.9)" fill="rgb(120, 80, 60)" opacity="0.75"/><ellipse cx="465.7" cy="157.7" rx="1.1" ry="1.5" transform="rotate(126 465.7 157.7)" fill="rgb(120, 80, 60)" opacity="0.75"/><ellipse cx="478.7" cy="160.6" rx="1.4" ry="1.1" transform="rotate(111 478.7 160.6)" fill="rgb(135, 132, 162)" opacity="0.75"/><ellipse cx="460.1" cy="135.8" rx="1.1" ry="1.5" transform="rotate(4 460.1 135.8)" fill="rgb(150, 100, 70)" opacity="0.75"/><ellipse cx="454.8" cy="137.6" rx="1.5" ry="1.5" transform="rotate(118 454.8 137.6)" fill="rgb(150, 100, 70)" opacity="0.75"/><ellipse cx="494.4" cy="148.1" rx="1.3" ry="1.6" transform="rotate(69 494.4 148.1)" fill="rgb(135, 132, 162)" opacity="0.75"/><ellipse cx="448.8" cy="140.9" rx="1.2" ry="1.6" transform="rotate(92 448.8 140.9)" fill="rgb(120, 80, 60)" opacity="0.75"/><ellipse cx="473.4" cy="139.7" rx="1.5" ry="1.0" transform="rotate(153 473.4 139.7)" fill="rgb(120, 80, 60)" opacity="0.75"/><ellipse cx="469.7" cy="151.2" rx="1.3" ry="1.1" transform="rotate(25 469.7 151.2)" fill="rgb(120, 80, 60)" opacity="0.75"/><ellipse cx="486.2" cy="135.2" rx="1.3" ry="1.3" transform="rotate(163 486.2 135.2)" fill="rgb(150, 100, 70)" opacity="0.75"/><ellipse cx="471.3" cy="126.3" rx="1.7" ry="1.1" transform="rotate(116 471.3 126.3)" fill="rgb(150, 100, 70)" opacity="0.75"/><ellipse cx="479.4" cy="147.9" rx="1.2" ry="1.2" transform="rotate(57 479.4 147.9)" fill="rgb(135, 132, 162)" opacity="0.75"/><ellipse cx="460.3" cy="145.7" rx="1.6" ry="1.5" transform="rotate(141 460.3 145.7)" fill="rgb(135, 132, 162)" opacity="0.75"/><ellipse cx="466.9" cy="141.8" rx="1.8" ry="1.4" transform="rotate(112 466.9 141.8)" fill="rgb(150, 100, 70)" opacity="0.75"/><ellipse cx="473.9" cy="143.0" rx="1.5" ry="1.5" transform="rotate(125 473.9 143.0)" fill="rgb(150, 100, 70)" opacity="0.75"/><ellipse cx="485.1" cy="150.4" rx="1.9" ry="1.3" transform="rotate(108 485.1 150.4)" fill="rgb(115, 115, 150)" opacity="0.75"/><ellipse cx="450.9" cy="151.0" rx="1.8" ry="1.2" transform="rotate(93 450.9 151.0)" fill="rgb(150, 100, 70)" opacity="0.75"/><ellipse cx="478.0" cy="144.2" rx="1.4" ry="1.1" transform="rotate(98 478.0 144.2)" fill="rgb(150, 100, 70)" opacity="0.75"/><ellipse cx="459.3" cy="126.0" rx="1.1" ry="1.2" transform="rotate(141 459.3 126.0)" fill="rgb(150, 100, 70)" opacity="0.75"/><ellipse cx="473.7" cy="147.8" rx="1.2" ry="1.2" transform="rotate(57 473.7 147.8)" fill="rgb(135, 132, 162)" opacity="0.75"/><ellipse cx="464.3" cy="161.1" rx="1.8" ry="1.3" transform="rotate(60 464.3 161.1)" fill="rgb(135, 132, 162)" opacity="0.75"/><ellipse cx="457.7" cy="137.6" rx="1.6" ry="1.0" transform="rotate(78 457.7 137.6)" fill="rgb(135, 132, 162)" opacity="0.75"/><ellipse cx="455.2" cy="133.6" rx="1.6" ry="1.5" transform="rotate(153 455.2 133.6)" fill="rgb(135, 132, 162)" opacity="0.75"/><ellipse cx="465.5" cy="126.1" rx="1.6" ry="1.4" transform="rotate(102 465.5 126.1)" fill="rgb(150, 100, 70)" opacity="0.75"/><ellipse cx="462.3" cy="157.0" rx="1.9" ry="1.6" transform="rotate(116 462.3 157.0)" fill="rgb(135, 132, 162)" opacity="0.75"/><ellipse cx="492.4" cy="155.6" rx="1.3" ry="1.3" transform="rotate(77 492.4 155.6)" fill="rgb(115, 115, 150)" opacity="0.75"/><ellipse cx="493.9" cy="132.3" rx="1.2" ry="1.3" transform="rotate(170 493.9 132.3)" fill="rgb(120, 80, 60)" opacity="0.75"/><ellipse cx="479.4" cy="165.7" rx="1.8" ry="1.6" transform="rotate(59 479.4 165.7)" fill="rgb(150, 100, 70)" opacity="0.75"/><ellipse cx="473.4" cy="130.9" rx="1.5" ry="1.4" transform="rotate(84 473.4 130.9)" fill="rgb(150, 100, 70)" opacity="0.75"/><ellipse cx="472.9" cy="140.2" rx="1.8" ry="1.2" transform="rotate(153 472.9 140.2)" fill="rgb(150, 100, 70)" opacity="0.75"/><ellipse cx="466.8" cy="148.6" rx="1.2" ry="1.7" transform="rotate(59 466.8 148.6)" fill="rgb(135, 132, 162)" opacity="0.75"/><ellipse cx="453.6" cy="163.5" rx="1.1" ry="1.4" transform="rotate(22 453.6 163.5)" fill="rgb(115, 115, 150)" opacity="0.75"/></g></g>
<rect x="450.2" y="125.9" width="44.30000000000001" height="41.0" fill="none" stroke="#000" stroke-width="1.3" />
<line x1="455.2" y1="161.4" x2="477.2" y2="161.4" stroke="#e8202a" stroke-width="1.2" />
<rect x="380.0" y="190.60000000000002" width="38.2" height="21.2" fill="#fff" stroke="none" stroke-width="1" />
<text x="388.1" y="204.20000000000002" font-size="10.2" text-anchor="start">PNA</text>
<rect x="265.0" y="213.3" width="113.30000000000001" height="86.09999999999997" fill="#888" filter="url(#bL)"/>
<rect x="265.0" y="213.3" width="113.30000000000001" height="86.09999999999997" fill="#888" filter="url(#bW)"/>
<rect x="333.0" y="213.3" width="45.30000000000001" height="42.0" fill="#888" filter="url(#bIb)"/>
<rect x="333.0" y="213.3" width="45.30000000000001" height="42.0" fill="#888" filter="url(#bIn)"/>
<rect x="333.0" y="213.3" width="45.30000000000001" height="42.0" fill="#888" filter="url(#bIw)"/>
<g clip-path="url(#cc5)"><g filter="url(#blur03)"><ellipse cx="337.3" cy="232.6" rx="1.4" ry="1.1" transform="rotate(140 337.3 232.6)" fill="rgb(105, 58, 35)" opacity="0.75"/><ellipse cx="349.2" cy="235.2" rx="1.3" ry="1.2" transform="rotate(74 349.2 235.2)" fill="rgb(180, 170, 175)" opacity="0.75"/><ellipse cx="338.0" cy="238.9" rx="1.5" ry="1.3" transform="rotate(118 338.0 238.9)" fill="rgb(130, 135, 170)" opacity="0.75"/><ellipse cx="339.3" cy="246.7" rx="1.5" ry="1.4" transform="rotate(0 339.3 246.7)" fill="rgb(180, 170, 175)" opacity="0.75"/><ellipse cx="342.6" cy="224.9" rx="1.7" ry="1.1" transform="rotate(33 342.6 224.9)" fill="rgb(105, 58, 35)" opacity="0.75"/><ellipse cx="343.0" cy="228.7" rx="1.8" ry="1.4" transform="rotate(35 343.0 228.7)" fill="rgb(130, 135, 170)" opacity="0.75"/><ellipse cx="348.2" cy="218.3" rx="1.4" ry="1.5" transform="rotate(16 348.2 218.3)" fill="rgb(150, 150, 180)" opacity="0.75"/><ellipse cx="374.6" cy="224.0" rx="1.4" ry="1.5" transform="rotate(28 374.6 224.0)" fill="rgb(105, 58, 35)" opacity="0.75"/><ellipse cx="367.9" cy="255.7" rx="1.6" ry="1.1" transform="rotate(111 367.9 255.7)" fill="rgb(150, 150, 180)" opacity="0.75"/><ellipse cx="365.1" cy="224.0" rx="1.3" ry="1.1" transform="rotate(113 365.1 224.0)" fill="rgb(105, 58, 35)" opacity="0.75"/><ellipse cx="355.7" cy="246.5" rx="1.5" ry="1.5" transform="rotate(83 355.7 246.5)" fill="rgb(130, 135, 170)" opacity="0.75"/><ellipse cx="373.5" cy="223.4" rx="1.6" ry="1.1" transform="rotate(37 373.5 223.4)" fill="rgb(180, 170, 175)" opacity="0.75"/><ellipse cx="332.9" cy="245.6" rx="1.2" ry="1.1" transform="rotate(79 332.9 245.6)" fill="rgb(150, 150, 180)" opacity="0.75"/><ellipse cx="366.9" cy="251.6" rx="1.3" ry="1.4" transform="rotate(73 366.9 251.6)" fill="rgb(105, 58, 35)" opacity="0.75"/><ellipse cx="378.6" cy="227.7" rx="1.3" ry="1.5" transform="rotate(103 378.6 227.7)" fill="rgb(180, 170, 175)" opacity="0.75"/><ellipse cx="341.7" cy="238.2" rx="1.4" ry="1.5" transform="rotate(88 341.7 238.2)" fill="rgb(130, 135, 170)" opacity="0.75"/><ellipse cx="334.5" cy="251.0" rx="1.4" ry="1.6" transform="rotate(51 334.5 251.0)" fill="rgb(180, 170, 175)" opacity="0.75"/><ellipse cx="334.6" cy="231.0" rx="1.6" ry="1.4" transform="rotate(69 334.6 231.0)" fill="rgb(130, 135, 170)" opacity="0.75"/><ellipse cx="366.4" cy="252.5" rx="1.4" ry="1.0" transform="rotate(80 366.4 252.5)" fill="rgb(130, 135, 170)" opacity="0.75"/><ellipse cx="342.5" cy="240.9" rx="1.5" ry="1.7" transform="rotate(117 342.5 240.9)" fill="rgb(180, 170, 175)" opacity="0.75"/><ellipse cx="337.4" cy="254.8" rx="1.2" ry="1.2" transform="rotate(18 337.4 254.8)" fill="rgb(130, 135, 170)" opacity="0.75"/><ellipse cx="367.1" cy="254.8" rx="1.7" ry="1.4" transform="rotate(3 367.1 254.8)" fill="rgb(180, 170, 175)" opacity="0.75"/><ellipse cx="337.8" cy="249.6" rx="1.7" ry="1.3" transform="rotate(139 337.8 249.6)" fill="rgb(130, 135, 170)" opacity="0.75"/><ellipse cx="357.9" cy="255.9" rx="1.6" ry="1.7" transform="rotate(91 357.9 255.9)" fill="rgb(130, 135, 170)" opacity="0.75"/><ellipse cx="349.8" cy="237.9" rx="1.4" ry="1.0" transform="rotate(59 349.8 237.9)" fill="rgb(180, 170, 175)" opacity="0.75"/><ellipse cx="345.5" cy="227.5" rx="1.2" ry="1.5" transform="rotate(168 345.5 227.5)" fill="rgb(180, 170, 175)" opacity="0.75"/><ellipse cx="372.7" cy="222.1" rx="1.4" ry="1.1" transform="rotate(49 372.7 222.1)" fill="rgb(150, 150, 180)" opacity="0.75"/><ellipse cx="369.0" cy="229.5" rx="1.9" ry="1.2" transform="rotate(114 369.0 229.5)" fill="rgb(150, 150, 180)" opacity="0.75"/><ellipse cx="340.9" cy="252.4" rx="1.3" ry="1.2" transform="rotate(65 340.9 252.4)" fill="rgb(130, 135, 170)" opacity="0.75"/><ellipse cx="340.3" cy="242.6" rx="1.7" ry="1.1" transform="rotate(156 340.3 242.6)" fill="rgb(130, 135, 170)" opacity="0.75"/><ellipse cx="372.0" cy="213.7" rx="1.6" ry="1.7" transform="rotate(58 372.0 213.7)" fill="rgb(105, 58, 35)" opacity="0.75"/><ellipse cx="356.0" cy="252.7" rx="1.1" ry="1.7" transform="rotate(24 356.0 252.7)" fill="rgb(150, 150, 180)" opacity="0.75"/><ellipse cx="356.0" cy="224.7" rx="1.8" ry="1.7" transform="rotate(117 356.0 224.7)" fill="rgb(130, 135, 170)" opacity="0.75"/><ellipse cx="343.0" cy="245.9" rx="1.3" ry="1.1" transform="rotate(103 343.0 245.9)" fill="rgb(180, 170, 175)" opacity="0.75"/><ellipse cx="342.7" cy="237.8" rx="1.2" ry="1.6" transform="rotate(52 342.7 237.8)" fill="rgb(180, 170, 175)" opacity="0.75"/><ellipse cx="338.8" cy="225.2" rx="1.1" ry="1.6" transform="rotate(158 338.8 225.2)" fill="rgb(150, 150, 180)" opacity="0.75"/><ellipse cx="351.7" cy="218.2" rx="1.6" ry="1.5" transform="rotate(51 351.7 218.2)" fill="rgb(105, 58, 35)" opacity="0.75"/><ellipse cx="347.8" cy="212.4" rx="1.4" ry="1.3" transform="rotate(10 347.8 212.4)" fill="rgb(130, 135, 170)" opacity="0.75"/><ellipse cx="357.3" cy="243.9" rx="1.4" ry="1.4" transform="rotate(87 357.3 243.9)" fill="rgb(130, 135, 170)" opacity="0.75"/><ellipse cx="335.0" cy="241.8" rx="1.2" ry="1.5" transform="rotate(58 335.0 241.8)" fill="rgb(150, 150, 180)" opacity="0.75"/><ellipse cx="368.6" cy="235.4" rx="1.6" ry="1.4" transform="rotate(32 368.6 235.4)" fill="rgb(180, 170, 175)" opacity="0.75"/><ellipse cx="364.7" cy="212.5" rx="1.2" ry="1.2" transform="rotate(86 364.7 212.5)" fill="rgb(105, 58, 35)" opacity="0.75"/><ellipse cx="334.3" cy="216.8" rx="1.6" ry="1.4" transform="rotate(148 334.3 216.8)" fill="rgb(130, 135, 170)" opacity="0.75"/><ellipse cx="366.0" cy="216.5" rx="1.4" ry="1.5" transform="rotate(169 366.0 216.5)" fill="rgb(130, 135, 170)" opacity="0.75"/><ellipse cx="339.4" cy="222.6" rx="1.4" ry="1.7" transform="rotate(34 339.4 222.6)" fill="rgb(105, 58, 35)" opacity="0.75"/><ellipse cx="374.3" cy="229.1" rx="1.4" ry="1.7" transform="rotate(109 374.3 229.1)" fill="rgb(180, 170, 175)" opacity="0.75"/><ellipse cx="343.5" cy="248.1" rx="1.3" ry="1.4" transform="rotate(91 343.5 248.1)" fill="rgb(130, 135, 170)" opacity="0.75"/><ellipse cx="369.5" cy="228.1" rx="1.8" ry="1.4" transform="rotate(133 369.5 228.1)" fill="rgb(180, 170, 175)" opacity="0.75"/><ellipse cx="337.6" cy="219.7" rx="1.7" ry="1.0" transform="rotate(94 337.6 219.7)" fill="rgb(105, 58, 35)" opacity="0.75"/><ellipse cx="334.6" cy="227.8" rx="1.2" ry="1.1" transform="rotate(90 334.6 227.8)" fill="rgb(130, 135, 170)" opacity="0.75"/><ellipse cx="338.7" cy="218.2" rx="1.2" ry="1.4" transform="rotate(1 338.7 218.2)" fill="rgb(130, 135, 170)" opacity="0.75"/><ellipse cx="360.7" cy="249.0" rx="1.1" ry="1.3" transform="rotate(113 360.7 249.0)" fill="rgb(130, 135, 170)" opacity="0.75"/><ellipse cx="347.1" cy="242.2" rx="1.5" ry="1.1" transform="rotate(6 347.1 242.2)" fill="rgb(150, 150, 180)" opacity="0.75"/><ellipse cx="349.5" cy="246.0" rx="1.8" ry="1.6" transform="rotate(75 349.5 246.0)" fill="rgb(150, 150, 180)" opacity="0.75"/><ellipse cx="373.9" cy="223.2" rx="1.3" ry="1.4" transform="rotate(128 373.9 223.2)" fill="rgb(130, 135, 170)" opacity="0.75"/><ellipse cx="340.9" cy="243.2" rx="1.7" ry="1.4" transform="rotate(107 340.9 243.2)" fill="rgb(130, 135, 170)" opacity="0.75"/><ellipse cx="374.9" cy="237.8" rx="1.2" ry="1.0" transform="rotate(123 374.9 237.8)" fill="rgb(130, 135, 170)" opacity="0.75"/><ellipse cx="354.1" cy="225.6" rx="1.8" ry="1.3" transform="rotate(107 354.1 225.6)" fill="rgb(150, 150, 180)" opacity="0.75"/><ellipse cx="345.1" cy="229.3" rx="1.7" ry="1.1" transform="rotate(146 345.1 229.3)" fill="rgb(130, 135, 170)" opacity="0.75"/><ellipse cx="336.7" cy="239.9" rx="1.8" ry="1.4" transform="rotate(18 336.7 239.9)" fill="rgb(130, 135, 170)" opacity="0.75"/><ellipse cx="375.8" cy="212.5" rx="1.6" ry="1.1" transform="rotate(43 375.8 212.5)" fill="rgb(105, 58, 35)" opacity="0.75"/><ellipse cx="351.9" cy="228.9" rx="1.7" ry="1.6" transform="rotate(136 351.9 228.9)" fill="rgb(130, 135, 170)" opacity="0.75"/><ellipse cx="379.2" cy="255.9" rx="1.2" ry="1.1" transform="rotate(36 379.2 255.9)" fill="rgb(105, 58, 35)" opacity="0.75"/><ellipse cx="336.0" cy="219.7" rx="1.7" ry="1.4" transform="rotate(142 336.0 219.7)" fill="rgb(180, 170, 175)" opacity="0.75"/><ellipse cx="355.9" cy="248.7" rx="1.7" ry="1.3" transform="rotate(148 355.9 248.7)" fill="rgb(180, 170, 175)" opacity="0.75"/><ellipse cx="348.6" cy="235.1" rx="1.4" ry="1.6" transform="rotate(14 348.6 235.1)" fill="rgb(150, 150, 180)" opacity="0.75"/><ellipse cx="358.1" cy="253.6" rx="1.9" ry="1.0" transform="rotate(37 358.1 253.6)" fill="rgb(180, 170, 175)" opacity="0.75"/><ellipse cx="350.8" cy="253.1" rx="1.7" ry="1.5" transform="rotate(52 350.8 253.1)" fill="rgb(105, 58, 35)" opacity="0.75"/><ellipse cx="341.8" cy="239.3" rx="1.1" ry="1.5" transform="rotate(32 341.8 239.3)" fill="rgb(130, 135, 170)" opacity="0.75"/><ellipse cx="356.5" cy="248.6" rx="1.8" ry="1.7" transform="rotate(42 356.5 248.6)" fill="rgb(130, 135, 170)" opacity="0.75"/><ellipse cx="332.2" cy="214.1" rx="1.4" ry="1.4" transform="rotate(111 332.2 214.1)" fill="rgb(130, 135, 170)" opacity="0.75"/><ellipse cx="369.8" cy="249.5" rx="1.7" ry="1.5" transform="rotate(137 369.8 249.5)" fill="rgb(150, 150, 180)" opacity="0.75"/><ellipse cx="353.1" cy="243.1" rx="1.2" ry="1.6" transform="rotate(116 353.1 243.1)" fill="rgb(180, 170, 175)" opacity="0.75"/><ellipse cx="338.7" cy="245.5" rx="1.6" ry="1.3" transform="rotate(179 338.7 245.5)" fill="rgb(105, 58, 35)" opacity="0.75"/><ellipse cx="358.6" cy="244.5" rx="1.7" ry="1.7" transform="rotate(161 358.6 244.5)" fill="rgb(105, 58, 35)" opacity="0.75"/><ellipse cx="336.4" cy="212.7" rx="1.1" ry="1.1" transform="rotate(105 336.4 212.7)" fill="rgb(130, 135, 170)" opacity="0.75"/><ellipse cx="357.4" cy="253.5" rx="1.6" ry="1.2" transform="rotate(179 357.4 253.5)" fill="rgb(130, 135, 170)" opacity="0.75"/><ellipse cx="364.6" cy="223.9" rx="1.2" ry="1.2" transform="rotate(144 364.6 223.9)" fill="rgb(105, 58, 35)" opacity="0.75"/><ellipse cx="368.8" cy="252.7" rx="1.3" ry="1.2" transform="rotate(163 368.8 252.7)" fill="rgb(105, 58, 35)" opacity="0.75"/><ellipse cx="364.0" cy="214.4" rx="1.5" ry="1.0" transform="rotate(35 364.0 214.4)" fill="rgb(130, 135, 170)" opacity="0.75"/><ellipse cx="364.1" cy="237.7" rx="1.3" ry="1.6" transform="rotate(92 364.1 237.7)" fill="rgb(105, 58, 35)" opacity="0.75"/><ellipse cx="335.2" cy="230.2" rx="1.7" ry="1.1" transform="rotate(65 335.2 230.2)" fill="rgb(150, 150, 180)" opacity="0.75"/><ellipse cx="366.4" cy="251.8" rx="1.1" ry="1.5" transform="rotate(91 366.4 251.8)" fill="rgb(130, 135, 170)" opacity="0.75"/><ellipse cx="365.6" cy="228.8" rx="1.2" ry="1.0" transform="rotate(98 365.6 228.8)" fill="rgb(105, 58, 35)" opacity="0.75"/><ellipse cx="376.4" cy="244.2" rx="1.6" ry="1.4" transform="rotate(100 376.4 244.2)" fill="rgb(130, 135, 170)" opacity="0.75"/><ellipse cx="347.8" cy="253.0" rx="1.6" ry="1.2" transform="rotate(58 347.8 253.0)" fill="rgb(105, 58, 35)" opacity="0.75"/><ellipse cx="355.1" cy="239.8" rx="1.6" ry="1.1" transform="rotate(127 355.1 239.8)" fill="rgb(150, 150, 180)" opacity="0.75"/><ellipse cx="370.5" cy="251.2" rx="1.7" ry="1.5" transform="rotate(87 370.5 251.2)" fill="rgb(180, 170, 175)" opacity="0.75"/><ellipse cx="338.7" cy="218.7" rx="1.8" ry="1.3" transform="rotate(86 338.7 218.7)" fill="rgb(105, 58, 35)" opacity="0.75"/><ellipse cx="363.6" cy="247.5" rx="1.3" ry="1.1" transform="rotate(27 363.6 247.5)" fill="rgb(150, 150, 180)" opacity="0.75"/><ellipse cx="344.5" cy="212.8" rx="1.1" ry="1.2" transform="rotate(156 344.5 212.8)" fill="rgb(130, 135, 170)" opacity="0.75"/><ellipse cx="376.5" cy="239.3" rx="1.3" ry="1.6" transform="rotate(96 376.5 239.3)" fill="rgb(130, 135, 170)" opacity="0.75"/><ellipse cx="368.6" cy="230.1" rx="1.4" ry="1.3" transform="rotate(1 368.6 230.1)" fill="rgb(130, 135, 170)" opacity="0.75"/><ellipse cx="378.5" cy="228.8" rx="1.8" ry="1.5" transform="rotate(5 378.5 228.8)" fill="rgb(180, 170, 175)" opacity="0.75"/><ellipse cx="376.3" cy="224.1" rx="1.2" ry="1.2" transform="rotate(157 376.3 224.1)" fill="rgb(180, 170, 175)" opacity="0.75"/><ellipse cx="337.7" cy="233.9" rx="1.4" ry="1.6" transform="rotate(3 337.7 233.9)" fill="rgb(130, 135, 170)" opacity="0.75"/><ellipse cx="369.5" cy="239.2" rx="1.3" ry="1.5" transform="rotate(67 369.5 239.2)" fill="rgb(105, 58, 35)" opacity="0.75"/><ellipse cx="378.9" cy="230.4" rx="1.3" ry="1.7" transform="rotate(52 378.9 230.4)" fill="rgb(105, 58, 35)" opacity="0.75"/><ellipse cx="355.9" cy="224.0" rx="1.7" ry="1.4" transform="rotate(149 355.9 224.0)" fill="rgb(180, 170, 175)" opacity="0.75"/><ellipse cx="371.6" cy="224.1" rx="1.3" ry="1.3" transform="rotate(84 371.6 224.1)" fill="rgb(130, 135, 170)" opacity="0.75"/><ellipse cx="377.7" cy="234.6" rx="1.4" ry="1.1" transform="rotate(131 377.7 234.6)" fill="rgb(150, 150, 180)" opacity="0.75"/><ellipse cx="340.3" cy="231.5" rx="1.3" ry="1.5" transform="rotate(159 340.3 231.5)" fill="rgb(180, 170, 175)" opacity="0.75"/><ellipse cx="359.9" cy="221.0" rx="1.7" ry="1.3" transform="rotate(22 359.9 221.0)" fill="rgb(105, 58, 35)" opacity="0.75"/><ellipse cx="353.3" cy="234.9" rx="1.8" ry="1.3" transform="rotate(71 353.3 234.9)" fill="rgb(150, 150, 180)" opacity="0.75"/><ellipse cx="373.9" cy="249.0" rx="1.3" ry="1.4" transform="rotate(161 373.9 249.0)" fill="rgb(180, 170, 175)" opacity="0.75"/><ellipse cx="340.7" cy="255.4" rx="1.9" ry="1.5" transform="rotate(14 340.7 255.4)" fill="rgb(105, 58, 35)" opacity="0.75"/><ellipse cx="332.9" cy="236.9" rx="1.1" ry="1.0" transform="rotate(49 332.9 236.9)" fill="rgb(150, 150, 180)" opacity="0.75"/><ellipse cx="362.7" cy="214.4" rx="1.3" ry="1.6" transform="rotate(98 362.7 214.4)" fill="rgb(105, 58, 35)" opacity="0.75"/><ellipse cx="339.2" cy="252.1" rx="1.2" ry="1.1" transform="rotate(150 339.2 252.1)" fill="rgb(150, 150, 180)" opacity="0.75"/><ellipse cx="373.4" cy="222.8" rx="1.5" ry="1.6" transform="rotate(71 373.4 222.8)" fill="rgb(130, 135, 170)" opacity="0.75"/><ellipse cx="337.7" cy="215.4" rx="1.1" ry="1.6" transform="rotate(108 337.7 215.4)" fill="rgb(130, 135, 170)" opacity="0.75"/><ellipse cx="337.7" cy="244.5" rx="1.3" ry="1.2" transform="rotate(142 337.7 244.5)" fill="rgb(105, 58, 35)" opacity="0.75"/><ellipse cx="367.0" cy="245.1" rx="1.8" ry="1.7" transform="rotate(52 367.0 245.1)" fill="rgb(180, 170, 175)" opacity="0.75"/><ellipse cx="352.3" cy="227.7" rx="1.2" ry="1.6" transform="rotate(56 352.3 227.7)" fill="rgb(105, 58, 35)" opacity="0.75"/><ellipse cx="341.6" cy="256.2" rx="1.8" ry="1.6" transform="rotate(56 341.6 256.2)" fill="rgb(105, 58, 35)" opacity="0.75"/><ellipse cx="337.0" cy="229.7" rx="1.5" ry="1.5" transform="rotate(148 337.0 229.7)" fill="rgb(180, 170, 175)" opacity="0.75"/><ellipse cx="362.3" cy="233.5" rx="1.5" ry="1.7" transform="rotate(38 362.3 233.5)" fill="rgb(105, 58, 35)" opacity="0.75"/><ellipse cx="362.5" cy="231.9" rx="1.4" ry="1.1" transform="rotate(23 362.5 231.9)" fill="rgb(150, 150, 180)" opacity="0.75"/><ellipse cx="370.4" cy="219.6" rx="1.4" ry="1.3" transform="rotate(61 370.4 219.6)" fill="rgb(150, 150, 180)" opacity="0.75"/><ellipse cx="370.1" cy="214.5" rx="1.5" ry="1.4" transform="rotate(109 370.1 214.5)" fill="rgb(130, 135, 170)" opacity="0.75"/></g></g>
<rect x="333.5" y="213.8" width="44.30000000000001" height="41.0" fill="none" stroke="#000" stroke-width="1.3" />
<line x1="338.5" y1="249.3" x2="360.5" y2="249.3" stroke="#e8202a" stroke-width="1.2" />
<rect x="264.5" y="279.2" width="39.8" height="21.2" fill="#fff" stroke="none" stroke-width="1" />
<text x="272.6" y="292.79999999999995" font-size="10.2" text-anchor="start">B220</text>
<rect x="380.5" y="213.3" width="114.5" height="86.09999999999997" fill="#888" filter="url(#bR)"/>
<rect x="380.5" y="213.3" width="114.5" height="86.09999999999997" fill="#888" filter="url(#bW2)"/>
<rect x="449.7" y="213.3" width="45.30000000000001" height="42.0" fill="#888" filter="url(#bIb)"/>
<rect x="449.7" y="213.3" width="45.30000000000001" height="42.0" fill="#888" filter="url(#bIn)"/>
<rect x="449.7" y="213.3" width="45.30000000000001" height="42.0" fill="#888" filter="url(#bIw)"/>
<g clip-path="url(#cc6)"><g filter="url(#blur03)"><ellipse cx="473.8" cy="220.1" rx="1.3" ry="1.2" transform="rotate(74 473.8 220.1)" fill="rgb(180, 170, 175)" opacity="0.75"/><ellipse cx="480.9" cy="227.0" rx="1.2" ry="1.3" transform="rotate(32 480.9 227.0)" fill="rgb(130, 135, 170)" opacity="0.75"/><ellipse cx="463.9" cy="212.6" rx="1.9" ry="1.3" transform="rotate(89 463.9 212.6)" fill="rgb(150, 150, 180)" opacity="0.75"/><ellipse cx="465.4" cy="229.4" rx="1.8" ry="1.3" transform="rotate(3 465.4 229.4)" fill="rgb(150, 150, 180)" opacity="0.75"/><ellipse cx="495.2" cy="235.9" rx="1.8" ry="1.6" transform="rotate(112 495.2 235.9)" fill="rgb(130, 135, 170)" opacity="0.75"/><ellipse cx="473.1" cy="224.4" rx="1.8" ry="1.6" transform="rotate(147 473.1 224.4)" fill="rgb(180, 170, 175)" opacity="0.75"/><ellipse cx="493.6" cy="213.2" rx="1.4" ry="1.1" transform="rotate(72 493.6 213.2)" fill="rgb(105, 58, 35)" opacity="0.75"/><ellipse cx="480.4" cy="216.3" rx="1.4" ry="1.6" transform="rotate(14 480.4 216.3)" fill="rgb(180, 170, 175)" opacity="0.75"/><ellipse cx="462.0" cy="220.9" rx="1.8" ry="1.6" transform="rotate(61 462.0 220.9)" fill="rgb(180, 170, 175)" opacity="0.75"/><ellipse cx="477.4" cy="217.3" rx="1.8" ry="1.4" transform="rotate(23 477.4 217.3)" fill="rgb(130, 135, 170)" opacity="0.75"/><ellipse cx="492.0" cy="253.9" rx="1.1" ry="1.1" transform="rotate(108 492.0 253.9)" fill="rgb(105, 58, 35)" opacity="0.75"/><ellipse cx="459.2" cy="216.9" rx="1.1" ry="1.1" transform="rotate(147 459.2 216.9)" fill="rgb(130, 135, 170)" opacity="0.75"/><ellipse cx="480.8" cy="234.1" rx="1.2" ry="1.2" transform="rotate(102 480.8 234.1)" fill="rgb(180, 170, 175)" opacity="0.75"/><ellipse cx="479.4" cy="213.8" rx="1.7" ry="1.7" transform="rotate(95 479.4 213.8)" fill="rgb(150, 150, 180)" opacity="0.75"/><ellipse cx="451.0" cy="239.8" rx="1.4" ry="1.2" transform="rotate(65 451.0 239.8)" fill="rgb(150, 150, 180)" opacity="0.75"/><ellipse cx="477.9" cy="214.4" rx="1.1" ry="1.6" transform="rotate(115 477.9 214.4)" fill="rgb(150, 150, 180)" opacity="0.75"/><ellipse cx="454.4" cy="243.6" rx="1.3" ry="1.4" transform="rotate(74 454.4 243.6)" fill="rgb(180, 170, 175)" opacity="0.75"/><ellipse cx="450.4" cy="254.3" rx="1.3" ry="1.7" transform="rotate(162 450.4 254.3)" fill="rgb(180, 170, 175)" opacity="0.75"/><ellipse cx="492.4" cy="244.4" rx="1.7" ry="1.3" transform="rotate(143 492.4 244.4)" fill="rgb(130, 135, 170)" opacity="0.75"/><ellipse cx="485.8" cy="231.7" rx="1.2" ry="1.3" transform="rotate(55 485.8 231.7)" fill="rgb(150, 150, 180)" opacity="0.75"/><ellipse cx="474.1" cy="217.8" rx="1.5" ry="1.1" transform="rotate(95 474.1 217.8)" fill="rgb(105, 58, 35)" opacity="0.75"/><ellipse cx="467.2" cy="240.8" rx="1.9" ry="1.3" transform="rotate(22 467.2 240.8)" fill="rgb(130, 135, 170)" opacity="0.75"/><ellipse cx="469.2" cy="240.0" rx="1.8" ry="1.4" transform="rotate(121 469.2 240.0)" fill="rgb(150, 150, 180)" opacity="0.75"/><ellipse cx="465.7" cy="249.6" rx="1.6" ry="1.1" transform="rotate(27 465.7 249.6)" fill="rgb(130, 135, 170)" opacity="0.75"/><ellipse cx="493.9" cy="240.4" rx="1.2" ry="1.0" transform="rotate(113 493.9 240.4)" fill="rgb(105, 58, 35)" opacity="0.75"/><ellipse cx="460.9" cy="214.7" rx="1.1" ry="1.4" transform="rotate(129 460.9 214.7)" fill="rgb(105, 58, 35)" opacity="0.75"/><ellipse cx="466.5" cy="249.2" rx="1.5" ry="1.6" transform="rotate(146 466.5 249.2)" fill="rgb(150, 150, 180)" opacity="0.75"/><ellipse cx="450.7" cy="227.6" rx="1.5" ry="1.5" transform="rotate(168 450.7 227.6)" fill="rgb(130, 135, 170)" opacity="0.75"/><ellipse cx="492.8" cy="254.2" rx="1.3" ry="1.7" transform="rotate(76 492.8 254.2)" fill="rgb(130, 135, 170)" opacity="0.75"/><ellipse cx="475.3" cy="250.4" rx="1.6" ry="1.6" transform="rotate(37 475.3 250.4)" fill="rgb(180, 170, 175)" opacity="0.75"/><ellipse cx="455.0" cy="216.5" rx="1.2" ry="1.4" transform="rotate(129 455.0 216.5)" fill="rgb(105, 58, 35)" opacity="0.75"/><ellipse cx="471.9" cy="228.4" rx="1.8" ry="1.5" transform="rotate(41 471.9 228.4)" fill="rgb(130, 135, 170)" opacity="0.75"/><ellipse cx="452.6" cy="245.1" rx="1.9" ry="1.4" transform="rotate(71 452.6 245.1)" fill="rgb(130, 135, 170)" opacity="0.75"/><ellipse cx="459.9" cy="226.9" rx="1.6" ry="1.6" transform="rotate(79 459.9 226.9)" fill="rgb(150, 150, 180)" opacity="0.75"/><ellipse cx="474.3" cy="243.1" rx="1.5" ry="1.7" transform="rotate(179 474.3 243.1)" fill="rgb(150, 150, 180)" opacity="0.75"/><ellipse cx="456.4" cy="251.6" rx="1.6" ry="1.3" transform="rotate(29 456.4 251.6)" fill="rgb(130, 135, 170)" opacity="0.75"/><ellipse cx="469.3" cy="216.2" rx="1.8" ry="1.3" transform="rotate(89 469.3 216.2)" fill="rgb(105, 58, 35)" opacity="0.75"/><ellipse cx="485.7" cy="253.1" rx="1.7" ry="1.2" transform="rotate(111 485.7 253.1)" fill="rgb(180, 170, 175)" opacity="0.75"/><ellipse cx="471.3" cy="213.7" rx="1.3" ry="1.7" transform="rotate(57 471.3 213.7)" fill="rgb(105, 58, 35)" opacity="0.75"/><ellipse cx="463.5" cy="223.6" rx="1.8" ry="1.2" transform="rotate(79 463.5 223.6)" fill="rgb(150, 150, 180)" opacity="0.75"/><ellipse cx="472.3" cy="242.2" rx="1.2" ry="1.3" transform="rotate(158 472.3 242.2)" fill="rgb(105, 58, 35)" opacity="0.75"/><ellipse cx="490.3" cy="218.4" rx="1.9" ry="1.0" transform="rotate(110 490.3 218.4)" fill="rgb(180, 170, 175)" opacity="0.75"/><ellipse cx="471.2" cy="212.4" rx="1.1" ry="1.1" transform="rotate(142 471.2 212.4)" fill="rgb(180, 170, 175)" opacity="0.75"/><ellipse cx="489.9" cy="220.0" rx="1.6" ry="1.5" transform="rotate(9 489.9 220.0)" fill="rgb(105, 58, 35)" opacity="0.75"/><ellipse cx="466.9" cy="234.6" rx="1.6" ry="1.0" transform="rotate(77 466.9 234.6)" fill="rgb(105, 58, 35)" opacity="0.75"/><ellipse cx="453.7" cy="238.7" rx="1.3" ry="1.3" transform="rotate(54 453.7 238.7)" fill="rgb(180, 170, 175)" opacity="0.75"/><ellipse cx="464.1" cy="223.7" rx="1.4" ry="1.2" transform="rotate(153 464.1 223.7)" fill="rgb(105, 58, 35)" opacity="0.75"/><ellipse cx="479.8" cy="224.9" rx="1.3" ry="1.3" transform="rotate(111 479.8 224.9)" fill="rgb(150, 150, 180)" opacity="0.75"/><ellipse cx="480.4" cy="224.0" rx="1.9" ry="1.4" transform="rotate(175 480.4 224.0)" fill="rgb(130, 135, 170)" opacity="0.75"/><ellipse cx="453.7" cy="247.9" rx="1.2" ry="1.6" transform="rotate(64 453.7 247.9)" fill="rgb(150, 150, 180)" opacity="0.75"/><ellipse cx="481.0" cy="235.0" rx="1.9" ry="1.3" transform="rotate(163 481.0 235.0)" fill="rgb(105, 58, 35)" opacity="0.75"/><ellipse cx="449.8" cy="256.3" rx="1.8" ry="1.6" transform="rotate(115 449.8 256.3)" fill="rgb(180, 170, 175)" opacity="0.75"/><ellipse cx="481.3" cy="240.0" rx="1.5" ry="1.6" transform="rotate(140 481.3 240.0)" fill="rgb(150, 150, 180)" opacity="0.75"/><ellipse cx="482.4" cy="217.9" rx="1.2" ry="1.2" transform="rotate(20 482.4 217.9)" fill="rgb(105, 58, 35)" opacity="0.75"/><ellipse cx="488.9" cy="216.7" rx="1.2" ry="1.5" transform="rotate(65 488.9 216.7)" fill="rgb(130, 135, 170)" opacity="0.75"/><ellipse cx="471.1" cy="230.1" rx="1.6" ry="1.1" transform="rotate(99 471.1 230.1)" fill="rgb(130, 135, 170)" opacity="0.75"/><ellipse cx="485.8" cy="212.5" rx="1.4" ry="1.2" transform="rotate(173 485.8 212.5)" fill="rgb(180, 170, 175)" opacity="0.75"/><ellipse cx="475.2" cy="253.1" rx="1.3" ry="1.7" transform="rotate(110 475.2 253.1)" fill="rgb(105, 58, 35)" opacity="0.75"/><ellipse cx="450.7" cy="247.1" rx="1.2" ry="1.4" transform="rotate(111 450.7 247.1)" fill="rgb(130, 135, 170)" opacity="0.75"/><ellipse cx="487.1" cy="212.3" rx="1.3" ry="1.6" transform="rotate(123 487.1 212.3)" fill="rgb(105, 58, 35)" opacity="0.75"/><ellipse cx="473.7" cy="217.2" rx="1.1" ry="1.2" transform="rotate(59 473.7 217.2)" fill="rgb(105, 58, 35)" opacity="0.75"/><ellipse cx="477.8" cy="215.4" rx="1.1" ry="1.0" transform="rotate(126 477.8 215.4)" fill="rgb(180, 170, 175)" opacity="0.75"/><ellipse cx="448.8" cy="212.9" rx="1.7" ry="1.4" transform="rotate(92 448.8 212.9)" fill="rgb(105, 58, 35)" opacity="0.75"/><ellipse cx="467.5" cy="214.6" rx="1.3" ry="1.6" transform="rotate(122 467.5 214.6)" fill="rgb(180, 170, 175)" opacity="0.75"/><ellipse cx="490.0" cy="227.1" rx="1.3" ry="1.4" transform="rotate(32 490.0 227.1)" fill="rgb(180, 170, 175)" opacity="0.75"/><ellipse cx="471.5" cy="224.1" rx="1.5" ry="1.4" transform="rotate(69 471.5 224.1)" fill="rgb(150, 150, 180)" opacity="0.75"/><ellipse cx="492.6" cy="224.6" rx="1.8" ry="1.3" transform="rotate(123 492.6 224.6)" fill="rgb(130, 135, 170)" opacity="0.75"/><ellipse cx="465.6" cy="250.1" rx="1.3" ry="1.1" transform="rotate(129 465.6 250.1)" fill="rgb(180, 170, 175)" opacity="0.75"/><ellipse cx="466.4" cy="255.7" rx="1.1" ry="1.1" transform="rotate(39 466.4 255.7)" fill="rgb(180, 170, 175)" opacity="0.75"/><ellipse cx="472.5" cy="231.0" rx="1.5" ry="1.5" transform="rotate(12 472.5 231.0)" fill="rgb(130, 135, 170)" opacity="0.75"/><ellipse cx="463.2" cy="252.5" rx="1.2" ry="1.4" transform="rotate(139 463.2 252.5)" fill="rgb(130, 135, 170)" opacity="0.75"/><ellipse cx="488.5" cy="245.6" rx="1.7" ry="1.1" transform="rotate(25 488.5 245.6)" fill="rgb(180, 170, 175)" opacity="0.75"/><ellipse cx="469.1" cy="248.7" rx="1.7" ry="1.4" transform="rotate(52 469.1 248.7)" fill="rgb(105, 58, 35)" opacity="0.75"/><ellipse cx="457.2" cy="233.2" rx="1.8" ry="1.2" transform="rotate(117 457.2 233.2)" fill="rgb(150, 150, 180)" opacity="0.75"/><ellipse cx="459.3" cy="216.3" rx="1.4" ry="1.6" transform="rotate(12 459.3 216.3)" fill="rgb(105, 58, 35)" opacity="0.75"/><ellipse cx="457.4" cy="249.1" rx="1.2" ry="1.6" transform="rotate(168 457.4 249.1)" fill="rgb(150, 150, 180)" opacity="0.75"/><ellipse cx="486.1" cy="219.1" rx="1.6" ry="1.6" transform="rotate(143 486.1 219.1)" fill="rgb(150, 150, 180)" opacity="0.75"/><ellipse cx="466.3" cy="231.4" rx="1.5" ry="1.5" transform="rotate(173 466.3 231.4)" fill="rgb(150, 150, 180)" opacity="0.75"/><ellipse cx="493.1" cy="251.2" rx="1.5" ry="1.3" transform="rotate(129 493.1 251.2)" fill="rgb(150, 150, 180)" opacity="0.75"/><ellipse cx="495.2" cy="256.2" rx="1.3" ry="1.1" transform="rotate(7 495.2 256.2)" fill="rgb(150, 150, 180)" opacity="0.75"/><ellipse cx="460.8" cy="231.8" rx="1.4" ry="1.2" transform="rotate(129 460.8 231.8)" fill="rgb(180, 170, 175)" opacity="0.75"/><ellipse cx="462.8" cy="225.7" rx="1.7" ry="1.6" transform="rotate(166 462.8 225.7)" fill="rgb(130, 135, 170)" opacity="0.75"/><ellipse cx="484.3" cy="226.3" rx="1.1" ry="1.0" transform="rotate(132 484.3 226.3)" fill="rgb(130, 135, 170)" opacity="0.75"/><ellipse cx="479.6" cy="247.3" rx="1.4" ry="1.5" transform="rotate(21 479.6 247.3)" fill="rgb(130, 135, 170)" opacity="0.75"/><ellipse cx="487.9" cy="248.6" rx="1.2" ry="1.3" transform="rotate(39 487.9 248.6)" fill="rgb(130, 135, 170)" opacity="0.75"/><ellipse cx="468.7" cy="240.2" rx="1.2" ry="1.1" transform="rotate(38 468.7 240.2)" fill="rgb(180, 170, 175)" opacity="0.75"/><ellipse cx="457.8" cy="214.7" rx="1.2" ry="1.4" transform="rotate(49 457.8 214.7)" fill="rgb(105, 58, 35)" opacity="0.75"/><ellipse cx="465.5" cy="239.7" rx="1.9" ry="1.5" transform="rotate(153 465.5 239.7)" fill="rgb(180, 170, 175)" opacity="0.75"/><ellipse cx="462.6" cy="255.3" rx="1.2" ry="1.1" transform="rotate(111 462.6 255.3)" fill="rgb(180, 170, 175)" opacity="0.75"/><ellipse cx="476.1" cy="255.2" rx="1.6" ry="1.2" transform="rotate(155 476.1 255.2)" fill="rgb(150, 150, 180)" opacity="0.75"/><ellipse cx="453.4" cy="249.7" rx="1.5" ry="1.4" transform="rotate(97 453.4 249.7)" fill="rgb(150, 150, 180)" opacity="0.75"/><ellipse cx="494.5" cy="225.8" rx="1.3" ry="1.1" transform="rotate(70 494.5 225.8)" fill="rgb(150, 150, 180)" opacity="0.75"/><ellipse cx="494.4" cy="236.7" rx="1.7" ry="1.0" transform="rotate(116 494.4 236.7)" fill="rgb(180, 170, 175)" opacity="0.75"/><ellipse cx="454.5" cy="247.2" rx="1.8" ry="1.1" transform="rotate(84 454.5 247.2)" fill="rgb(150, 150, 180)" opacity="0.75"/><ellipse cx="463.6" cy="255.6" rx="1.8" ry="1.6" transform="rotate(61 463.6 255.6)" fill="rgb(150, 150, 180)" opacity="0.75"/><ellipse cx="482.8" cy="247.5" rx="1.2" ry="1.4" transform="rotate(177 482.8 247.5)" fill="rgb(130, 135, 170)" opacity="0.75"/><ellipse cx="489.8" cy="242.9" rx="1.7" ry="1.7" transform="rotate(174 489.8 242.9)" fill="rgb(105, 58, 35)" opacity="0.75"/><ellipse cx="484.6" cy="238.2" rx="1.6" ry="1.7" transform="rotate(114 484.6 238.2)" fill="rgb(130, 135, 170)" opacity="0.75"/><ellipse cx="465.8" cy="250.0" rx="1.7" ry="1.4" transform="rotate(125 465.8 250.0)" fill="rgb(105, 58, 35)" opacity="0.75"/><ellipse cx="460.3" cy="217.4" rx="1.3" ry="1.3" transform="rotate(30 460.3 217.4)" fill="rgb(180, 170, 175)" opacity="0.75"/><ellipse cx="490.2" cy="241.5" rx="1.7" ry="1.1" transform="rotate(26 490.2 241.5)" fill="rgb(130, 135, 170)" opacity="0.75"/><ellipse cx="475.2" cy="233.7" rx="1.9" ry="1.3" transform="rotate(9 475.2 233.7)" fill="rgb(130, 135, 170)" opacity="0.75"/><ellipse cx="471.4" cy="222.0" rx="1.5" ry="1.0" transform="rotate(24 471.4 222.0)" fill="rgb(180, 170, 175)" opacity="0.75"/><ellipse cx="490.5" cy="238.3" rx="1.2" ry="1.0" transform="rotate(92 490.5 238.3)" fill="rgb(150, 150, 180)" opacity="0.75"/><ellipse cx="481.1" cy="229.3" rx="1.4" ry="1.3" transform="rotate(137 481.1 229.3)" fill="rgb(180, 170, 175)" opacity="0.75"/><ellipse cx="463.8" cy="255.7" rx="1.2" ry="1.1" transform="rotate(62 463.8 255.7)" fill="rgb(105, 58, 35)" opacity="0.75"/><ellipse cx="480.3" cy="219.1" rx="1.7" ry="1.6" transform="rotate(138 480.3 219.1)" fill="rgb(105, 58, 35)" opacity="0.75"/><ellipse cx="482.3" cy="236.5" rx="1.6" ry="1.7" transform="rotate(106 482.3 236.5)" fill="rgb(150, 150, 180)" opacity="0.75"/><ellipse cx="483.9" cy="245.0" rx="1.5" ry="1.6" transform="rotate(84 483.9 245.0)" fill="rgb(105, 58, 35)" opacity="0.75"/><ellipse cx="472.0" cy="214.3" rx="1.8" ry="1.3" transform="rotate(0 472.0 214.3)" fill="rgb(180, 170, 175)" opacity="0.75"/><ellipse cx="457.7" cy="222.1" rx="1.7" ry="1.6" transform="rotate(50 457.7 222.1)" fill="rgb(150, 150, 180)" opacity="0.75"/><ellipse cx="488.7" cy="227.8" rx="1.1" ry="1.1" transform="rotate(64 488.7 227.8)" fill="rgb(130, 135, 170)" opacity="0.75"/><ellipse cx="458.1" cy="224.8" rx="1.8" ry="1.2" transform="rotate(21 458.1 224.8)" fill="rgb(180, 170, 175)" opacity="0.75"/><ellipse cx="460.3" cy="255.9" rx="1.6" ry="1.6" transform="rotate(148 460.3 255.9)" fill="rgb(180, 170, 175)" opacity="0.75"/><ellipse cx="492.7" cy="229.9" rx="1.3" ry="1.4" transform="rotate(41 492.7 229.9)" fill="rgb(150, 150, 180)" opacity="0.75"/><ellipse cx="469.8" cy="213.7" rx="1.8" ry="1.2" transform="rotate(150 469.8 213.7)" fill="rgb(105, 58, 35)" opacity="0.75"/><ellipse cx="478.2" cy="247.6" rx="1.2" ry="1.6" transform="rotate(99 478.2 247.6)" fill="rgb(150, 150, 180)" opacity="0.75"/><ellipse cx="469.2" cy="256.0" rx="1.8" ry="1.3" transform="rotate(155 469.2 256.0)" fill="rgb(180, 170, 175)" opacity="0.75"/><ellipse cx="494.9" cy="228.8" rx="1.2" ry="1.6" transform="rotate(77 494.9 228.8)" fill="rgb(180, 170, 175)" opacity="0.75"/><ellipse cx="463.0" cy="221.4" rx="1.4" ry="1.7" transform="rotate(61 463.0 221.4)" fill="rgb(130, 135, 170)" opacity="0.75"/></g></g>
<rect x="450.2" y="213.8" width="44.30000000000001" height="41.0" fill="none" stroke="#000" stroke-width="1.3" />
<line x1="455.2" y1="249.3" x2="477.2" y2="249.3" stroke="#e8202a" stroke-width="1.2" />
<rect x="380.0" y="279.2" width="40.2" height="21.2" fill="#fff" stroke="none" stroke-width="1" />
<text x="388.1" y="292.79999999999995" font-size="10.2" text-anchor="start">B220</text>
<line x1="440.6" y1="308.4" x2="462.5" y2="308.4" stroke="#f4a0a8" stroke-width="1.3" />
<text x="467.8" y="311.8" font-size="10" text-anchor="start">50 <tspan font-style="italic">&#956;</tspan>m</text>
<text x="231.8" y="12.4" font-size="13.2" text-anchor="start" font-weight="bold">E</text>
<text x="384.8" y="12.4" font-size="11.2" text-anchor="middle" font-style="italic"><tspan>C&#947;1Cre</tspan><tspan font-size="8.06" dy="-4.03">tg/+</tspan><tspan dy="4.03">-Fbxo45</tspan><tspan font-size="8.06" dy="-4.03">&#160;fl/fl</tspan></text>
<line x1="261" y1="16.2" x2="503.3" y2="16.2" stroke="#888" stroke-width="1.3" />
<text x="317.3" y="33.6" font-size="10.5" text-anchor="middle">#110 FL</text>
<text x="443.3" y="33.2" font-size="10.3" text-anchor="middle">#31 DLBCL</text>
<text x="230.8" y="334.6" font-size="13.2" text-anchor="start" font-weight="bold">F</text>
<line x1="279.5" y1="339.2" x2="279.5" y2="448.6" stroke="#000" stroke-width="1.2" />
<line x1="278.9" y1="448.0" x2="405.7" y2="448.0" stroke="#000" stroke-width="1.2" />
<line x1="276.2" y1="448.0" x2="279.5" y2="448.0" stroke="#000" stroke-width="1" />
<text x="274.6" y="451.5" font-size="10" text-anchor="end">0</text>
<line x1="276.2" y1="426.24" x2="279.5" y2="426.24" stroke="#000" stroke-width="1" />
<text x="274.6" y="429.74" font-size="10" text-anchor="end">20</text>
<line x1="276.2" y1="404.48" x2="279.5" y2="404.48" stroke="#000" stroke-width="1" />
<text x="274.6" y="407.98" font-size="10" text-anchor="end">40</text>
<line x1="276.2" y1="382.71999999999997" x2="279.5" y2="382.71999999999997" stroke="#000" stroke-width="1" />
<text x="274.6" y="386.21999999999997" font-size="10" text-anchor="end">60</text>
<line x1="276.2" y1="360.96" x2="279.5" y2="360.96" stroke="#000" stroke-width="1" />
<text x="274.6" y="364.46" font-size="10" text-anchor="end">80</text>
<line x1="276.2" y1="339.2" x2="279.5" y2="339.2" stroke="#000" stroke-width="1" />
<text x="274.6" y="342.7" font-size="10" text-anchor="end">100</text>
<line x1="279.5" y1="448.0" x2="279.5" y2="451.0" stroke="#000" stroke-width="1" />
<line x1="322.2" y1="448.0" x2="322.2" y2="451.0" stroke="#000" stroke-width="1" />
<line x1="364.8" y1="448.0" x2="364.8" y2="451.0" stroke="#000" stroke-width="1" />
<line x1="405.7" y1="448.0" x2="405.7" y2="451.0" stroke="#000" stroke-width="1" />
<text x="0" y="0" font-size="10" text-anchor="middle" transform="translate(250.1,394.5) rotate(-90)">Incidence (%)</text>
<rect x="286.4" y="339.2" width="29.400000000000034" height="108.80000000000001" fill="#fff" stroke="#000" stroke-width="1.1" />
<text x="300.8" y="399.2" font-size="10.2" text-anchor="middle">20</text>
<rect x="329.7" y="415.76296296296294" width="28.19999999999999" height="32.237037037037055" fill="#ff0000" stroke="#000" stroke-width="1.1" />
<rect x="329.7" y="395.6148148148148" width="28.19999999999999" height="20.148148148148152" fill="#3b5a28" stroke="#000" stroke-width="1.1" />
<rect x="329.7" y="339.2" width="28.19999999999999" height="56.414814814814804" fill="#fff" stroke="#000" stroke-width="1.1" />
<text x="343.8" y="374.8" font-size="10.2" text-anchor="middle">14</text>
<text x="343.8" y="407.2" font-size="10.2" text-anchor="middle" fill="#fff">5</text>
<text x="343.8" y="432.9" font-size="10.2" text-anchor="middle" fill="#fff">8</text>
<rect x="371.9" y="393.6" width="27.900000000000034" height="54.39999999999998" fill="#ff0000" stroke="#000" stroke-width="1.1" />
<rect x="371.9" y="366.4" width="27.900000000000034" height="27.200000000000045" fill="#c00000" stroke="#000" stroke-width="1.1" />
<rect x="371.9" y="339.2" width="27.900000000000034" height="27.19999999999999" fill="#3b5a28" stroke="#000" stroke-width="1.1" />
<text x="385.9" y="355.4" font-size="10.2" text-anchor="middle" fill="#fff">5</text>
<text x="385.9" y="382.8" font-size="10.2" text-anchor="middle" fill="#fff">5</text>
<text x="385.9" y="425.2" font-size="10.2" text-anchor="middle" fill="#fff">10</text>
<text x="302.3" y="335" font-size="9.6" text-anchor="middle">0%</text>
<text x="344.3" y="335" font-size="9.6" text-anchor="middle">48%</text>
<text x="387" y="335" font-size="9.6" text-anchor="middle">100%</text>
<text x="409.6" y="335" font-size="9.6" text-anchor="start">Lymphoma</text>
<rect x="409.6" y="362.2" width="23.8" height="15.400000000000034" fill="#fff" stroke="#000" stroke-width="1.1" />
<text x="437.5" y="373.09999999999997" font-size="8.8" text-anchor="start">Reactive GC</text>
<rect x="409.6" y="382.2" width="23.8" height="14.600000000000023" fill="#3b5a28" stroke="#000" stroke-width="1.1" />
<text x="437.5" y="392.7" font-size="8.8" text-anchor="start">FL</text>
<rect x="409.6" y="401.9" width="23.8" height="14.800000000000011" fill="#c00000" stroke="#000" stroke-width="1.1" />
<text x="437.5" y="412.49999999999994" font-size="8.8" text-anchor="start">FL and DLBCL</text>
<rect x="409.6" y="421.1" width="23.8" height="15.299999999999955" fill="#ff0000" stroke="#000" stroke-width="1.1" />
<text x="437.5" y="431.95" font-size="8.8" text-anchor="start">DLBCL</text>
<text x="234" y="459" font-size="9.9" text-anchor="start" fill="#f2141c"># of mice</text>
<text x="303.6" y="459" font-size="9.9" text-anchor="middle" fill="#f2141c"><tspan font-style="italic">n</tspan> = 20</text>
<text x="343" y="459" font-size="9.9" text-anchor="middle" fill="#f2141c"><tspan font-style="italic">n</tspan> = 27</text>
<text x="387" y="459" font-size="9.9" text-anchor="middle" fill="#f2141c"><tspan font-style="italic">n</tspan> = 20</text>
<text x="302.2" y="472.6" font-size="10" text-anchor="middle">+/+</text>
<text x="343" y="472.3" font-size="10" text-anchor="middle">+/<tspan font-style="italic">fl</tspan></text>
<text x="387" y="472.3" font-size="10" text-anchor="middle" font-style="italic">fl/fl</text>
<line x1="278.7" y1="476.1" x2="406.5" y2="476.1" stroke="#888" stroke-width="1.2" />
<text x="344.0" y="488.6" font-size="10" text-anchor="middle" font-style="italic"><tspan>C&#947;1Cre</tspan><tspan font-size="7.20" dy="-3.60">tg/+</tspan><tspan dy="3.60">-Fbxo45</tspan></text>
<text x="230.8" y="505.4" font-size="13.2" text-anchor="start" font-weight="bold">G</text>
<path d="M292.7,516.7 V654.2 H519.3 V516.7 Z" fill="none" stroke="#333" stroke-width="1.1"/>
<line x1="289" y1="654.2" x2="292.7" y2="654.2" stroke="#333" stroke-width="1" />
<text x="285.2" y="657.7" font-size="10.2" text-anchor="end">0</text>
<line x1="289" y1="626.7" x2="292.7" y2="626.7" stroke="#333" stroke-width="1" />
<text x="285.2" y="630.2" font-size="10.2" text-anchor="end">200,000</text>
<line x1="289" y1="599.2" x2="292.7" y2="599.2" stroke="#333" stroke-width="1" />
<text x="285.2" y="602.7" font-size="10.2" text-anchor="end">400,000</text>
<line x1="289" y1="571.7" x2="292.7" y2="571.7" stroke="#333" stroke-width="1" />
<text x="285.2" y="575.2" font-size="10.2" text-anchor="end">600,000</text>
<line x1="289" y1="544.2" x2="292.7" y2="544.2" stroke="#333" stroke-width="1" />
<text x="285.2" y="547.7" font-size="10.2" text-anchor="end">800,000</text>
<line x1="289" y1="516.7" x2="292.7" y2="516.7" stroke="#333" stroke-width="1" />
<text x="285.2" y="520.2" font-size="10.2" text-anchor="end">1,000,000</text>
<text x="0" y="0" font-size="10" text-anchor="middle" transform="translate(240,585) rotate(-90)">Number of reads</text>
<line x1="297.6" y1="654.2" x2="297.6" y2="657.8000000000001" stroke="#333" stroke-width="1" />
<text x="0" y="0" font-size="8.4" text-anchor="end" transform="translate(300.70,661.6) rotate(-90)">IGHV1-5</text>
<line x1="307.5" y1="654.2" x2="307.5" y2="657.8000000000001" stroke="#333" stroke-width="1" />
<text x="0" y="0" font-size="8.4" text-anchor="end" transform="translate(310.60,661.6) rotate(-90)">IGHV1-12</text>
<line x1="317.40000000000003" y1="654.2" x2="317.40000000000003" y2="657.8000000000001" stroke="#333" stroke-width="1" />
<text x="0" y="0" font-size="8.4" text-anchor="end" transform="translate(320.50,661.6) rotate(-90)">IGHV1-14</text>
<line x1="327.3" y1="654.2" x2="327.3" y2="657.8000000000001" stroke="#333" stroke-width="1" />
<text x="0" y="0" font-size="8.4" text-anchor="end" transform="translate(330.40,661.6) rotate(-90)">IGHV1-19</text>
<line x1="337.20000000000005" y1="654.2" x2="337.20000000000005" y2="657.8000000000001" stroke="#333" stroke-width="1" />
<text x="0" y="0" font-size="8.4" text-anchor="end" transform="translate(340.30,661.6) rotate(-90)">IGHV1-36</text>
<line x1="347.1" y1="654.2" x2="347.1" y2="657.8000000000001" stroke="#333" stroke-width="1" />
<text x="0" y="0" font-size="8.4" text-anchor="end" transform="translate(350.20,661.6) rotate(-90)">IGHV1-53</text>
<line x1="357.0" y1="654.2" x2="357.0" y2="657.8000000000001" stroke="#333" stroke-width="1" />
<text x="0" y="0" font-size="8.4" text-anchor="end" transform="translate(360.10,661.6) rotate(-90)">IGHV1-54</text>
<line x1="366.90000000000003" y1="654.2" x2="366.90000000000003" y2="657.8000000000001" stroke="#333" stroke-width="1" />
<text x="0" y="0" font-size="8.4" text-anchor="end" transform="translate(370.00,661.6) rotate(-90)">IGHV1-63</text>
<line x1="376.8" y1="654.2" x2="376.8" y2="657.8000000000001" stroke="#333" stroke-width="1" />
<text x="0" y="0" font-size="8.4" text-anchor="end" transform="translate(379.90,661.6) rotate(-90)">IGHV1-76</text>
<line x1="386.70000000000005" y1="654.2" x2="386.70000000000005" y2="657.8000000000001" stroke="#333" stroke-width="1" />
<text x="0" y="0" font-size="8.4" text-anchor="end" transform="translate(389.80,661.6) rotate(-90)">IGHV2-9</text>
<line x1="396.6" y1="654.2" x2="396.6" y2="657.8000000000001" stroke="#333" stroke-width="1" />
<text x="0" y="0" font-size="8.4" text-anchor="end" transform="translate(399.70,661.6) rotate(-90)">IGHV3-1</text>
<line x1="406.5" y1="654.2" x2="406.5" y2="657.8000000000001" stroke="#333" stroke-width="1" />
<text x="0" y="0" font-size="8.4" text-anchor="end" transform="translate(409.60,661.6) rotate(-90)">IGHV3-6</text>
<line x1="416.40000000000003" y1="654.2" x2="416.40000000000003" y2="657.8000000000001" stroke="#333" stroke-width="1" />
<text x="0" y="0" font-size="8.4" text-anchor="end" transform="translate(419.50,661.6) rotate(-90)">IGHV4-1</text>
<line x1="426.30000000000007" y1="654.2" x2="426.30000000000007" y2="657.8000000000001" stroke="#333" stroke-width="1" />
<text x="0" y="0" font-size="8.4" text-anchor="end" transform="translate(429.40,661.6) rotate(-90)">IGHV5-9-1</text>
<line x1="436.20000000000005" y1="654.2" x2="436.20000000000005" y2="657.8000000000001" stroke="#333" stroke-width="1" />
<text x="0" y="0" font-size="8.4" text-anchor="end" transform="translate(439.30,661.6) rotate(-90)">IGHV5-12</text>
<line x1="446.1" y1="654.2" x2="446.1" y2="657.8000000000001" stroke="#333" stroke-width="1" />
<text x="0" y="0" font-size="8.4" text-anchor="end" transform="translate(449.20,661.6) rotate(-90)">IGHV8-12</text>
<line x1="456.0" y1="654.2" x2="456.0" y2="657.8000000000001" stroke="#333" stroke-width="1" />
<text x="0" y="0" font-size="8.4" text-anchor="end" transform="translate(459.10,661.6) rotate(-90)">IGHV9-1</text>
<line x1="465.90000000000003" y1="654.2" x2="465.90000000000003" y2="657.8000000000001" stroke="#333" stroke-width="1" />
<text x="0" y="0" font-size="8.4" text-anchor="end" transform="translate(469.00,661.6) rotate(-90)">IGHV9-2</text>
<line x1="475.80000000000007" y1="654.2" x2="475.80000000000007" y2="657.8000000000001" stroke="#333" stroke-width="1" />
<text x="0" y="0" font-size="8.4" text-anchor="end" transform="translate(478.90,661.6) rotate(-90)">IGHV10-1</text>
<line x1="485.70000000000005" y1="654.2" x2="485.70000000000005" y2="657.8000000000001" stroke="#333" stroke-width="1" />
<text x="0" y="0" font-size="8.4" text-anchor="end" transform="translate(488.80,661.6) rotate(-90)">IGHV11-1</text>
<line x1="495.6" y1="654.2" x2="495.6" y2="657.8000000000001" stroke="#333" stroke-width="1" />
<text x="0" y="0" font-size="8.4" text-anchor="end" transform="translate(498.70,661.6) rotate(-90)">IGHV11-2</text>
<line x1="505.5" y1="654.2" x2="505.5" y2="657.8000000000001" stroke="#333" stroke-width="1" />
<text x="0" y="0" font-size="8.4" text-anchor="end" transform="translate(508.60,661.6) rotate(-90)">IGHV12-3</text>
<line x1="515.4000000000001" y1="654.2" x2="515.4000000000001" y2="657.8000000000001" stroke="#333" stroke-width="1" />
<text x="0" y="0" font-size="8.4" text-anchor="end" transform="translate(518.50,661.6) rotate(-90)">IGHV14-1</text>
<rect x="297.6" y="650.075" width="2.0" height="4.125" fill="#1b8a6b" stroke="none" stroke-width="1" />
<rect x="299.6" y="645.2625" width="2.0" height="8.9375" fill="#c5601d" stroke="none" stroke-width="1" />
<rect x="313.40000000000003" y="637.975" width="2.0" height="16.225000000000023" fill="#1f6aa6" stroke="none" stroke-width="1" />
<rect x="317.40000000000003" y="648.975" width="2.0" height="5.225000000000023" fill="#1b8a6b" stroke="none" stroke-width="1" />
<rect x="319.40000000000003" y="524.2625" width="2.0" height="129.9375" fill="#c5601d" stroke="none" stroke-width="1" />
<rect x="329.3" y="648.5625" width="2.0" height="5.6375000000000455" fill="#c5601d" stroke="none" stroke-width="1" />
<rect x="359.0" y="650.075" width="2.0" height="4.125" fill="#c5601d" stroke="none" stroke-width="1" />
<rect x="372.8" y="652.0" width="2.0" height="2.2000000000000455" fill="#1f6aa6" stroke="none" stroke-width="1" />
<rect x="388.70000000000005" y="651.0375" width="2.0" height="3.1625000000000227" fill="#c5601d" stroke="none" stroke-width="1" />
<rect x="398.6" y="653.5125" width="2.0" height="0.6875" fill="#c5601d" stroke="none" stroke-width="1" />
<rect x="432.20000000000005" y="619.5500000000001" width="2.0" height="34.64999999999998" fill="#1f6aa6" stroke="none" stroke-width="1" />
<rect x="442.1" y="650.625" width="2.0" height="3.5750000000000455" fill="#1f6aa6" stroke="none" stroke-width="1" />
<rect x="458.0" y="652.4125" width="2.0" height="1.7875000000000227" fill="#c5601d" stroke="none" stroke-width="1" />
<rect x="467.90000000000003" y="653.2375000000001" width="2.0" height="0.9624999999999773" fill="#c5601d" stroke="none" stroke-width="1" />
<rect x="481.70000000000005" y="651.45" width="2.0" height="2.75" fill="#1f6aa6" stroke="none" stroke-width="1" />
<rect x="485.70000000000005" y="653.5125" width="2.0" height="0.6875" fill="#1b8a6b" stroke="none" stroke-width="1" />
<rect x="491.6" y="649.6625" width="2.0" height="4.537500000000023" fill="#1f6aa6" stroke="none" stroke-width="1" />
<rect x="501.5" y="652.0" width="2.0" height="2.2000000000000455" fill="#1f6aa6" stroke="none" stroke-width="1" />
<rect x="293.5" y="506.9" width="21.399999999999977" height="6.5" fill="#1f6aa6" stroke="none" stroke-width="1" />
<text x="318.8" y="513.4" font-size="8.6" text-anchor="start">IGHJ1</text>
<rect x="350.7" y="506.9" width="21.69999999999999" height="6.5" fill="#d49a2e" stroke="none" stroke-width="1" />
<text x="376" y="513.4" font-size="8.6" text-anchor="start">IGHJ2</text>
<rect x="408" y="506.9" width="22" height="6.5" fill="#1b8a6b" stroke="none" stroke-width="1" />
<text x="434.2" y="513.4" font-size="8.6" text-anchor="start">IGHJ3</text>
<rect x="465.3" y="506.9" width="21.899999999999977" height="6.5" fill="#c5601d" stroke="none" stroke-width="1" />
<text x="490.5" y="513.4" font-size="8.6" text-anchor="start">IGHJ4</text>
<text x="384.3" y="545.2" font-size="10.4" text-anchor="start" font-style="italic"><tspan>C&#947;1Cre</tspan><tspan font-size="7.49" dy="-3.74">tg/+</tspan><tspan dy="3.74">-Fbxo45</tspan><tspan font-size="7.49" dy="-3.74">fl/fl</tspan></text>
</svg>
</body></html>
